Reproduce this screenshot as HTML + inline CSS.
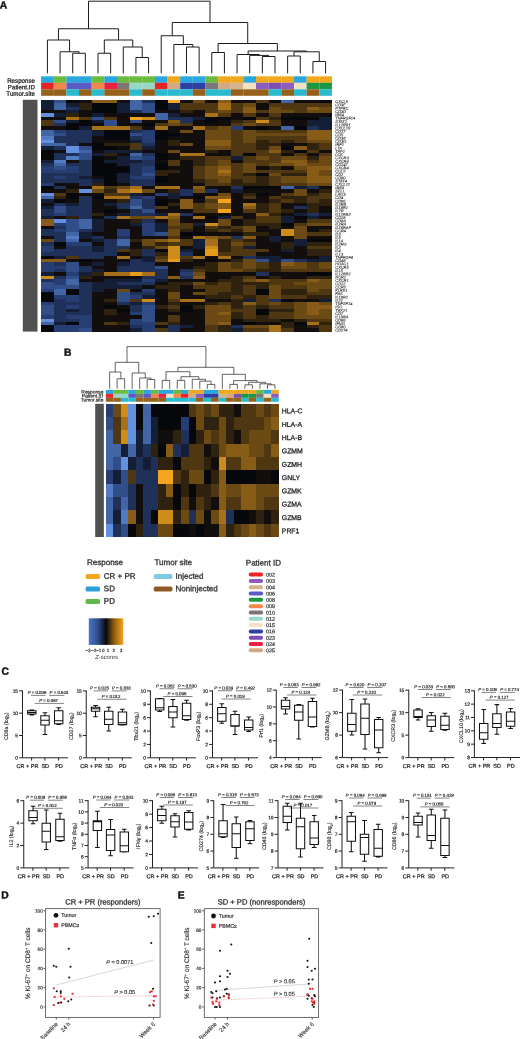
<!DOCTYPE html>
<html lang="en"><head><meta charset="utf-8"><title>Figure</title>
<style>html,body{margin:0;padding:0;background:#fff}body{width:520px;height:1039px;overflow:hidden;font-family:"Liberation Sans",Arial,sans-serif}svg{display:block;filter:blur(0.35px)}text{font-family:"Liberation Sans",Arial,sans-serif;text-rendering:geometricPrecision}</style>
</head><body>
<svg width="520" height="1039" viewBox="0 0 520 1039" font-family="Liberation Sans, Arial, sans-serif">
<rect width="520" height="1039" fill="#fff"/>
<text transform="translate(-0.3 8.6) rotate(0.03)" font-size="10.3" text-anchor="start" fill="#111" stroke="#111" stroke-width="0.41" font-weight="bold">A</text>
<path d="M72.71 73.3V53.25H85.35V73.3M60.06 73.3V51.75H79.03V53.25M47.42 73.3V40H69.55V51.75M97.99 73.3V53.25H110.64V73.3M135.92 73.3V57.5H148.57V73.3M123.28 73.3V47H142.24V57.5M104.32 53.25V40H132.76V47M58.48 40V28.75H118.54V40M186.49 73.3V47H199.14V73.3M173.85 73.3V44.5H192.82V47M161.21 73.3V35.75H183.33V44.5M211.78 73.3V52.5H224.42V73.3M262.35 73.3V56.5H275V73.3M249.71 73.3V55.4H268.67V56.5M237.07 73.3V54.5H259.19V55.4M287.64 73.3V56H300.28V73.3M312.92 73.3V61.5H325.57V73.3M293.96 56V51.8H319.25V61.5M248.13 54.5V51H306.6V51.8M218.1 52.5V43.5H277.37V51M172.27 35.75V22.5H247.73V43.5M88.51 28.75V1.2H210V22.5" fill="none" stroke="#111" stroke-width="0.95" stroke-linejoin="miter"/>
<rect x="41.1" y="76.3" width="12.69" height="6.55" fill="#29A7DF"/>
<rect x="41.1" y="82.8" width="12.69" height="6.55" fill="#EC2227"/>
<rect x="41.1" y="89.3" width="12.69" height="6.5" fill="#96621B"/>
<rect x="53.74" y="76.3" width="12.69" height="6.55" fill="#6BBB3E"/>
<rect x="53.74" y="82.8" width="12.69" height="6.55" fill="#F5864B"/>
<rect x="53.74" y="89.3" width="12.69" height="6.5" fill="#96621B"/>
<rect x="66.39" y="76.3" width="12.69" height="6.55" fill="#29A7DF"/>
<rect x="66.39" y="82.8" width="12.69" height="6.55" fill="#5E5AC4"/>
<rect x="66.39" y="89.3" width="12.69" height="6.5" fill="#2BB9CE"/>
<rect x="79.03" y="76.3" width="12.69" height="6.55" fill="#29A7DF"/>
<rect x="79.03" y="82.8" width="12.69" height="6.55" fill="#5E5AC4"/>
<rect x="79.03" y="89.3" width="12.69" height="6.5" fill="#96621B"/>
<rect x="91.67" y="76.3" width="12.69" height="6.55" fill="#6BBB3E"/>
<rect x="91.67" y="82.8" width="12.69" height="6.55" fill="#F5864B"/>
<rect x="91.67" y="89.3" width="12.69" height="6.5" fill="#2BB9CE"/>
<rect x="104.31" y="76.3" width="12.69" height="6.55" fill="#29A7DF"/>
<rect x="104.31" y="82.8" width="12.69" height="6.55" fill="#EC1F43"/>
<rect x="104.31" y="89.3" width="12.69" height="6.5" fill="#96621B"/>
<rect x="116.96" y="76.3" width="12.69" height="6.55" fill="#6BBB3E"/>
<rect x="116.96" y="82.8" width="12.69" height="6.55" fill="#7C7575"/>
<rect x="116.96" y="89.3" width="12.69" height="6.5" fill="#96621B"/>
<rect x="129.6" y="76.3" width="12.69" height="6.55" fill="#6BBB3E"/>
<rect x="129.6" y="82.8" width="12.69" height="6.55" fill="#98D9C6"/>
<rect x="129.6" y="89.3" width="12.69" height="6.5" fill="#2BB9CE"/>
<rect x="142.24" y="76.3" width="12.69" height="6.55" fill="#6BBB3E"/>
<rect x="142.24" y="82.8" width="12.69" height="6.55" fill="#98D9C6"/>
<rect x="142.24" y="89.3" width="12.69" height="6.5" fill="#96621B"/>
<rect x="154.89" y="76.3" width="12.69" height="6.55" fill="#29A7DF"/>
<rect x="154.89" y="82.8" width="12.69" height="6.55" fill="#EC2227"/>
<rect x="154.89" y="89.3" width="12.69" height="6.5" fill="#2BB9CE"/>
<rect x="167.53" y="76.3" width="12.69" height="6.55" fill="#F2A81D"/>
<rect x="167.53" y="82.8" width="12.69" height="6.55" fill="#D2A983"/>
<rect x="167.53" y="89.3" width="12.69" height="6.5" fill="#2BB9CE"/>
<rect x="180.17" y="76.3" width="12.69" height="6.55" fill="#29A7DF"/>
<rect x="180.17" y="82.8" width="12.69" height="6.55" fill="#2C3FA3"/>
<rect x="180.17" y="89.3" width="12.69" height="6.5" fill="#2BB9CE"/>
<rect x="192.82" y="76.3" width="12.69" height="6.55" fill="#29A7DF"/>
<rect x="192.82" y="82.8" width="12.69" height="6.55" fill="#2C3FA3"/>
<rect x="192.82" y="89.3" width="12.69" height="6.5" fill="#96621B"/>
<rect x="205.46" y="76.3" width="12.69" height="6.55" fill="#6BBB3E"/>
<rect x="205.46" y="82.8" width="12.69" height="6.55" fill="#7C7575"/>
<rect x="205.46" y="89.3" width="12.69" height="6.5" fill="#2BB9CE"/>
<rect x="218.1" y="76.3" width="12.69" height="6.55" fill="#F2A81D"/>
<rect x="218.1" y="82.8" width="12.69" height="6.55" fill="#D2A983"/>
<rect x="218.1" y="89.3" width="12.69" height="6.5" fill="#2BB9CE"/>
<rect x="230.75" y="76.3" width="12.69" height="6.55" fill="#F2A81D"/>
<rect x="230.75" y="82.8" width="12.69" height="6.55" fill="#D4B48C"/>
<rect x="230.75" y="89.3" width="12.69" height="6.5" fill="#96621B"/>
<rect x="243.39" y="76.3" width="12.69" height="6.55" fill="#29A7DF"/>
<rect x="243.39" y="82.8" width="12.69" height="6.55" fill="#F3E1C6"/>
<rect x="243.39" y="89.3" width="12.69" height="6.5" fill="#96621B"/>
<rect x="256.03" y="76.3" width="12.69" height="6.55" fill="#F2A81D"/>
<rect x="256.03" y="82.8" width="12.69" height="6.55" fill="#8B5CC2"/>
<rect x="256.03" y="89.3" width="12.69" height="6.5" fill="#96621B"/>
<rect x="268.67" y="76.3" width="12.69" height="6.55" fill="#F2A81D"/>
<rect x="268.67" y="82.8" width="12.69" height="6.55" fill="#7B50B2"/>
<rect x="268.67" y="89.3" width="12.69" height="6.5" fill="#2BB9CE"/>
<rect x="281.32" y="76.3" width="12.69" height="6.55" fill="#F2A81D"/>
<rect x="281.32" y="82.8" width="12.69" height="6.55" fill="#8B5CC2"/>
<rect x="281.32" y="89.3" width="12.69" height="6.5" fill="#96621B"/>
<rect x="293.96" y="76.3" width="12.69" height="6.55" fill="#29A7DF"/>
<rect x="293.96" y="82.8" width="12.69" height="6.55" fill="#F3E1C6"/>
<rect x="293.96" y="89.3" width="12.69" height="6.5" fill="#2BB9CE"/>
<rect x="306.6" y="76.3" width="12.69" height="6.55" fill="#F2A81D"/>
<rect x="306.6" y="82.8" width="12.69" height="6.55" fill="#1C9746"/>
<rect x="306.6" y="89.3" width="12.69" height="6.5" fill="#96621B"/>
<rect x="319.25" y="76.3" width="12.69" height="6.55" fill="#F2A81D"/>
<rect x="319.25" y="82.8" width="12.69" height="6.55" fill="#1C9746"/>
<rect x="319.25" y="89.3" width="12.69" height="6.5" fill="#2BB9CE"/>
<text transform="translate(35 82.8) rotate(0.03)" font-size="6.2" text-anchor="end" fill="#222" stroke="#222" stroke-width="0.25" >Response</text>
<text transform="translate(35 89.3) rotate(0.03)" font-size="6.2" text-anchor="end" fill="#222" stroke="#222" stroke-width="0.25" >Patient.ID</text>
<text transform="translate(35 95.8) rotate(0.03)" font-size="6.2" text-anchor="end" fill="#222" stroke="#222" stroke-width="0.25" >Tumor.site</text>
<rect x="22.8" y="99.8" width="14.7" height="231.8" fill="#505050"/>
<rect x="41.1" y="100" width="290.79" height="231.8" fill="#0a0a0c"/>
<g shape-rendering="crispEdges">
<rect x="41.1" y="100" width="12.74" height="3.41" fill="#141f37"/>
<rect x="53.74" y="100" width="12.74" height="3.41" fill="#324e89"/>
<rect x="66.39" y="100" width="12.74" height="3.41" fill="#07080c"/>
<rect x="79.03" y="100" width="12.74" height="3.41" fill="#110e0d"/>
<rect x="91.67" y="100" width="12.74" height="3.41" fill="#865c16"/>
<rect x="104.31" y="100" width="12.74" height="3.41" fill="#865c16"/>
<rect x="116.96" y="100" width="12.74" height="3.41" fill="#110e0d"/>
<rect x="129.6" y="100" width="12.74" height="3.41" fill="#4265a6"/>
<rect x="142.24" y="100" width="12.74" height="3.41" fill="#1f3159"/>
<rect x="154.89" y="100" width="12.74" height="3.41" fill="#07080c"/>
<rect x="167.53" y="100" width="12.74" height="3.41" fill="#f6a61e"/>
<rect x="180.17" y="100" width="12.74" height="3.41" fill="#110e0d"/>
<rect x="192.82" y="100" width="12.74" height="3.41" fill="#6b4a14"/>
<rect x="205.46" y="100" width="12.74" height="3.41" fill="#110e0d"/>
<rect x="218.1" y="100" width="12.74" height="3.41" fill="#865c16"/>
<rect x="230.75" y="100" width="12.74" height="3.41" fill="#110e0d"/>
<rect x="243.39" y="100" width="12.74" height="3.41" fill="#110e0d"/>
<rect x="256.03" y="100" width="12.74" height="3.41" fill="#4f3711"/>
<rect x="268.67" y="100" width="12.74" height="3.41" fill="#07080c"/>
<rect x="281.32" y="100" width="12.74" height="3.41" fill="#4265a6"/>
<rect x="293.96" y="100" width="12.74" height="3.41" fill="#110e0d"/>
<rect x="306.6" y="100" width="12.74" height="3.41" fill="#110e0d"/>
<rect x="319.25" y="100" width="12.74" height="3.41" fill="#07080c"/>
<rect x="41.1" y="103.31" width="12.74" height="3.41" fill="#141f37"/>
<rect x="53.74" y="103.31" width="12.74" height="3.41" fill="#4265a6"/>
<rect x="66.39" y="103.31" width="12.74" height="3.41" fill="#141f37"/>
<rect x="79.03" y="103.31" width="12.74" height="3.41" fill="#2f220f"/>
<rect x="91.67" y="103.31" width="12.74" height="3.41" fill="#07080c"/>
<rect x="104.31" y="103.31" width="12.74" height="3.41" fill="#07080c"/>
<rect x="116.96" y="103.31" width="12.74" height="3.41" fill="#141f37"/>
<rect x="129.6" y="103.31" width="12.74" height="3.41" fill="#4265a6"/>
<rect x="142.24" y="103.31" width="12.74" height="3.41" fill="#324e89"/>
<rect x="154.89" y="103.31" width="12.74" height="3.41" fill="#07080c"/>
<rect x="167.53" y="103.31" width="12.74" height="3.41" fill="#141f37"/>
<rect x="180.17" y="103.31" width="12.74" height="3.41" fill="#4f3711"/>
<rect x="192.82" y="103.31" width="12.74" height="3.41" fill="#4f3711"/>
<rect x="205.46" y="103.31" width="12.74" height="3.41" fill="#4f3711"/>
<rect x="218.1" y="103.31" width="12.74" height="3.41" fill="#a67118"/>
<rect x="230.75" y="103.31" width="12.74" height="3.41" fill="#4f3711"/>
<rect x="243.39" y="103.31" width="12.74" height="3.41" fill="#6b4a14"/>
<rect x="256.03" y="103.31" width="12.74" height="3.41" fill="#110e0d"/>
<rect x="268.67" y="103.31" width="12.74" height="3.41" fill="#4f3711"/>
<rect x="281.32" y="103.31" width="12.74" height="3.41" fill="#4f3711"/>
<rect x="293.96" y="103.31" width="12.74" height="3.41" fill="#4f3711"/>
<rect x="306.6" y="103.31" width="12.74" height="3.41" fill="#4f3711"/>
<rect x="319.25" y="103.31" width="12.74" height="3.41" fill="#4f3711"/>
<rect x="41.1" y="106.62" width="12.74" height="3.41" fill="#141f37"/>
<rect x="53.74" y="106.62" width="12.74" height="3.41" fill="#4265a6"/>
<rect x="66.39" y="106.62" width="12.74" height="3.41" fill="#1f3159"/>
<rect x="79.03" y="106.62" width="12.74" height="3.41" fill="#2f220f"/>
<rect x="91.67" y="106.62" width="12.74" height="3.41" fill="#07080c"/>
<rect x="104.31" y="106.62" width="12.74" height="3.41" fill="#07080c"/>
<rect x="116.96" y="106.62" width="12.74" height="3.41" fill="#141f37"/>
<rect x="129.6" y="106.62" width="12.74" height="3.41" fill="#4265a6"/>
<rect x="142.24" y="106.62" width="12.74" height="3.41" fill="#324e89"/>
<rect x="154.89" y="106.62" width="12.74" height="3.41" fill="#07080c"/>
<rect x="167.53" y="106.62" width="12.74" height="3.41" fill="#141f37"/>
<rect x="180.17" y="106.62" width="12.74" height="3.41" fill="#4f3711"/>
<rect x="192.82" y="106.62" width="12.74" height="3.41" fill="#4f3711"/>
<rect x="205.46" y="106.62" width="12.74" height="3.41" fill="#4f3711"/>
<rect x="218.1" y="106.62" width="12.74" height="3.41" fill="#a67118"/>
<rect x="230.75" y="106.62" width="12.74" height="3.41" fill="#4f3711"/>
<rect x="243.39" y="106.62" width="12.74" height="3.41" fill="#865c16"/>
<rect x="256.03" y="106.62" width="12.74" height="3.41" fill="#110e0d"/>
<rect x="268.67" y="106.62" width="12.74" height="3.41" fill="#6b4a14"/>
<rect x="281.32" y="106.62" width="12.74" height="3.41" fill="#4f3711"/>
<rect x="293.96" y="106.62" width="12.74" height="3.41" fill="#4f3711"/>
<rect x="306.6" y="106.62" width="12.74" height="3.41" fill="#865c16"/>
<rect x="319.25" y="106.62" width="12.74" height="3.41" fill="#6b4a14"/>
<rect x="41.1" y="109.93" width="12.74" height="3.41" fill="#110e0d"/>
<rect x="53.74" y="109.93" width="12.74" height="3.41" fill="#110e0d"/>
<rect x="66.39" y="109.93" width="12.74" height="3.41" fill="#141f37"/>
<rect x="79.03" y="109.93" width="12.74" height="3.41" fill="#110e0d"/>
<rect x="91.67" y="109.93" width="12.74" height="3.41" fill="#07080c"/>
<rect x="104.31" y="109.93" width="12.74" height="3.41" fill="#07080c"/>
<rect x="116.96" y="109.93" width="12.74" height="3.41" fill="#141f37"/>
<rect x="129.6" y="109.93" width="12.74" height="3.41" fill="#1f3159"/>
<rect x="142.24" y="109.93" width="12.74" height="3.41" fill="#324e89"/>
<rect x="154.89" y="109.93" width="12.74" height="3.41" fill="#110e0d"/>
<rect x="167.53" y="109.93" width="12.74" height="3.41" fill="#110e0d"/>
<rect x="180.17" y="109.93" width="12.74" height="3.41" fill="#2f220f"/>
<rect x="192.82" y="109.93" width="12.74" height="3.41" fill="#110e0d"/>
<rect x="205.46" y="109.93" width="12.74" height="3.41" fill="#4f3711"/>
<rect x="218.1" y="109.93" width="12.74" height="3.41" fill="#6b4a14"/>
<rect x="230.75" y="109.93" width="12.74" height="3.41" fill="#4f3711"/>
<rect x="243.39" y="109.93" width="12.74" height="3.41" fill="#865c16"/>
<rect x="256.03" y="109.93" width="12.74" height="3.41" fill="#4f3711"/>
<rect x="268.67" y="109.93" width="12.74" height="3.41" fill="#6b4a14"/>
<rect x="281.32" y="109.93" width="12.74" height="3.41" fill="#6b4a14"/>
<rect x="293.96" y="109.93" width="12.74" height="3.41" fill="#4f3711"/>
<rect x="306.6" y="109.93" width="12.74" height="3.41" fill="#6b4a14"/>
<rect x="319.25" y="109.93" width="12.74" height="3.41" fill="#6b4a14"/>
<rect x="41.1" y="113.25" width="12.74" height="3.41" fill="#6491df"/>
<rect x="53.74" y="113.25" width="12.74" height="3.41" fill="#141f37"/>
<rect x="66.39" y="113.25" width="12.74" height="3.41" fill="#2f220f"/>
<rect x="79.03" y="113.25" width="12.74" height="3.41" fill="#110e0d"/>
<rect x="91.67" y="113.25" width="12.74" height="3.41" fill="#141f37"/>
<rect x="104.31" y="113.25" width="12.74" height="3.41" fill="#110e0d"/>
<rect x="116.96" y="113.25" width="12.74" height="3.41" fill="#110e0d"/>
<rect x="129.6" y="113.25" width="12.74" height="3.41" fill="#110e0d"/>
<rect x="142.24" y="113.25" width="12.74" height="3.41" fill="#110e0d"/>
<rect x="154.89" y="113.25" width="12.74" height="3.41" fill="#4265a6"/>
<rect x="167.53" y="113.25" width="12.74" height="3.41" fill="#141f37"/>
<rect x="180.17" y="113.25" width="12.74" height="3.41" fill="#110e0d"/>
<rect x="192.82" y="113.25" width="12.74" height="3.41" fill="#110e0d"/>
<rect x="205.46" y="113.25" width="12.74" height="3.41" fill="#a67118"/>
<rect x="218.1" y="113.25" width="12.74" height="3.41" fill="#4f3711"/>
<rect x="230.75" y="113.25" width="12.74" height="3.41" fill="#110e0d"/>
<rect x="243.39" y="113.25" width="12.74" height="3.41" fill="#4f3711"/>
<rect x="256.03" y="113.25" width="12.74" height="3.41" fill="#110e0d"/>
<rect x="268.67" y="113.25" width="12.74" height="3.41" fill="#4f3711"/>
<rect x="281.32" y="113.25" width="12.74" height="3.41" fill="#110e0d"/>
<rect x="293.96" y="113.25" width="12.74" height="3.41" fill="#110e0d"/>
<rect x="306.6" y="113.25" width="12.74" height="3.41" fill="#110e0d"/>
<rect x="319.25" y="113.25" width="12.74" height="3.41" fill="#110e0d"/>
<rect x="41.1" y="116.56" width="12.74" height="3.41" fill="#110e0d"/>
<rect x="53.74" y="116.56" width="12.74" height="3.41" fill="#110e0d"/>
<rect x="66.39" y="116.56" width="12.74" height="3.41" fill="#a67118"/>
<rect x="79.03" y="116.56" width="12.74" height="3.41" fill="#4f3711"/>
<rect x="91.67" y="116.56" width="12.74" height="3.41" fill="#324e89"/>
<rect x="104.31" y="116.56" width="12.74" height="3.41" fill="#4f3711"/>
<rect x="116.96" y="116.56" width="12.74" height="3.41" fill="#110e0d"/>
<rect x="129.6" y="116.56" width="12.74" height="3.41" fill="#f6a61e"/>
<rect x="142.24" y="116.56" width="12.74" height="3.41" fill="#ce8c1b"/>
<rect x="154.89" y="116.56" width="12.74" height="3.41" fill="#4265a6"/>
<rect x="167.53" y="116.56" width="12.74" height="3.41" fill="#1f3159"/>
<rect x="180.17" y="116.56" width="12.74" height="3.41" fill="#1f3159"/>
<rect x="192.82" y="116.56" width="12.74" height="3.41" fill="#141f37"/>
<rect x="205.46" y="116.56" width="12.74" height="3.41" fill="#07080c"/>
<rect x="218.1" y="116.56" width="12.74" height="3.41" fill="#07080c"/>
<rect x="230.75" y="116.56" width="12.74" height="3.41" fill="#110e0d"/>
<rect x="243.39" y="116.56" width="12.74" height="3.41" fill="#07080c"/>
<rect x="256.03" y="116.56" width="12.74" height="3.41" fill="#4f3711"/>
<rect x="268.67" y="116.56" width="12.74" height="3.41" fill="#2f220f"/>
<rect x="281.32" y="116.56" width="12.74" height="3.41" fill="#07080c"/>
<rect x="293.96" y="116.56" width="12.74" height="3.41" fill="#07080c"/>
<rect x="306.6" y="116.56" width="12.74" height="3.41" fill="#07080c"/>
<rect x="319.25" y="116.56" width="12.74" height="3.41" fill="#141f37"/>
<rect x="41.1" y="119.87" width="12.74" height="3.41" fill="#4f3711"/>
<rect x="53.74" y="119.87" width="12.74" height="3.41" fill="#324e89"/>
<rect x="66.39" y="119.87" width="12.74" height="3.41" fill="#141f37"/>
<rect x="79.03" y="119.87" width="12.74" height="3.41" fill="#07080c"/>
<rect x="91.67" y="119.87" width="12.74" height="3.41" fill="#141f37"/>
<rect x="104.31" y="119.87" width="12.74" height="3.41" fill="#324e89"/>
<rect x="116.96" y="119.87" width="12.74" height="3.41" fill="#110e0d"/>
<rect x="129.6" y="119.87" width="12.74" height="3.41" fill="#324e89"/>
<rect x="142.24" y="119.87" width="12.74" height="3.41" fill="#110e0d"/>
<rect x="154.89" y="119.87" width="12.74" height="3.41" fill="#110e0d"/>
<rect x="167.53" y="119.87" width="12.74" height="3.41" fill="#865c16"/>
<rect x="180.17" y="119.87" width="12.74" height="3.41" fill="#1f3159"/>
<rect x="192.82" y="119.87" width="12.74" height="3.41" fill="#110e0d"/>
<rect x="205.46" y="119.87" width="12.74" height="3.41" fill="#07080c"/>
<rect x="218.1" y="119.87" width="12.74" height="3.41" fill="#110e0d"/>
<rect x="230.75" y="119.87" width="12.74" height="3.41" fill="#2f220f"/>
<rect x="243.39" y="119.87" width="12.74" height="3.41" fill="#4f3711"/>
<rect x="256.03" y="119.87" width="12.74" height="3.41" fill="#ce8c1b"/>
<rect x="268.67" y="119.87" width="12.74" height="3.41" fill="#4f3711"/>
<rect x="281.32" y="119.87" width="12.74" height="3.41" fill="#110e0d"/>
<rect x="293.96" y="119.87" width="12.74" height="3.41" fill="#110e0d"/>
<rect x="306.6" y="119.87" width="12.74" height="3.41" fill="#141f37"/>
<rect x="319.25" y="119.87" width="12.74" height="3.41" fill="#141f37"/>
<rect x="41.1" y="123.18" width="12.74" height="3.41" fill="#4f3711"/>
<rect x="53.74" y="123.18" width="12.74" height="3.41" fill="#1f3159"/>
<rect x="66.39" y="123.18" width="12.74" height="3.41" fill="#07080c"/>
<rect x="79.03" y="123.18" width="12.74" height="3.41" fill="#07080c"/>
<rect x="91.67" y="123.18" width="12.74" height="3.41" fill="#110e0d"/>
<rect x="104.31" y="123.18" width="12.74" height="3.41" fill="#324e89"/>
<rect x="116.96" y="123.18" width="12.74" height="3.41" fill="#110e0d"/>
<rect x="129.6" y="123.18" width="12.74" height="3.41" fill="#110e0d"/>
<rect x="142.24" y="123.18" width="12.74" height="3.41" fill="#07080c"/>
<rect x="154.89" y="123.18" width="12.74" height="3.41" fill="#4f3711"/>
<rect x="167.53" y="123.18" width="12.74" height="3.41" fill="#6b4a14"/>
<rect x="180.17" y="123.18" width="12.74" height="3.41" fill="#4f3711"/>
<rect x="192.82" y="123.18" width="12.74" height="3.41" fill="#110e0d"/>
<rect x="205.46" y="123.18" width="12.74" height="3.41" fill="#110e0d"/>
<rect x="218.1" y="123.18" width="12.74" height="3.41" fill="#110e0d"/>
<rect x="230.75" y="123.18" width="12.74" height="3.41" fill="#4f3711"/>
<rect x="243.39" y="123.18" width="12.74" height="3.41" fill="#6b4a14"/>
<rect x="256.03" y="123.18" width="12.74" height="3.41" fill="#4f3711"/>
<rect x="268.67" y="123.18" width="12.74" height="3.41" fill="#4f3711"/>
<rect x="281.32" y="123.18" width="12.74" height="3.41" fill="#110e0d"/>
<rect x="293.96" y="123.18" width="12.74" height="3.41" fill="#110e0d"/>
<rect x="306.6" y="123.18" width="12.74" height="3.41" fill="#141f37"/>
<rect x="319.25" y="123.18" width="12.74" height="3.41" fill="#141f37"/>
<rect x="41.1" y="126.49" width="12.74" height="3.41" fill="#110e0d"/>
<rect x="53.74" y="126.49" width="12.74" height="3.41" fill="#110e0d"/>
<rect x="66.39" y="126.49" width="12.74" height="3.41" fill="#07080c"/>
<rect x="79.03" y="126.49" width="12.74" height="3.41" fill="#141f37"/>
<rect x="91.67" y="126.49" width="12.74" height="3.41" fill="#a67118"/>
<rect x="104.31" y="126.49" width="12.74" height="3.41" fill="#a67118"/>
<rect x="116.96" y="126.49" width="12.74" height="3.41" fill="#a67118"/>
<rect x="129.6" y="126.49" width="12.74" height="3.41" fill="#4f3711"/>
<rect x="142.24" y="126.49" width="12.74" height="3.41" fill="#110e0d"/>
<rect x="154.89" y="126.49" width="12.74" height="3.41" fill="#a67118"/>
<rect x="167.53" y="126.49" width="12.74" height="3.41" fill="#110e0d"/>
<rect x="180.17" y="126.49" width="12.74" height="3.41" fill="#110e0d"/>
<rect x="192.82" y="126.49" width="12.74" height="3.41" fill="#a67118"/>
<rect x="205.46" y="126.49" width="12.74" height="3.41" fill="#4f3711"/>
<rect x="218.1" y="126.49" width="12.74" height="3.41" fill="#6b4a14"/>
<rect x="230.75" y="126.49" width="12.74" height="3.41" fill="#263e73"/>
<rect x="243.39" y="126.49" width="12.74" height="3.41" fill="#110e0d"/>
<rect x="256.03" y="126.49" width="12.74" height="3.41" fill="#07080c"/>
<rect x="268.67" y="126.49" width="12.74" height="3.41" fill="#110e0d"/>
<rect x="281.32" y="126.49" width="12.74" height="3.41" fill="#4265a6"/>
<rect x="293.96" y="126.49" width="12.74" height="3.41" fill="#07080c"/>
<rect x="306.6" y="126.49" width="12.74" height="3.41" fill="#1f3159"/>
<rect x="319.25" y="126.49" width="12.74" height="3.41" fill="#141f37"/>
<rect x="41.1" y="129.8" width="12.74" height="3.41" fill="#4265a6"/>
<rect x="53.74" y="129.8" width="12.74" height="3.41" fill="#263e73"/>
<rect x="66.39" y="129.8" width="12.74" height="3.41" fill="#1f3159"/>
<rect x="79.03" y="129.8" width="12.74" height="3.41" fill="#1f3159"/>
<rect x="91.67" y="129.8" width="12.74" height="3.41" fill="#141f37"/>
<rect x="104.31" y="129.8" width="12.74" height="3.41" fill="#07080c"/>
<rect x="116.96" y="129.8" width="12.74" height="3.41" fill="#07080c"/>
<rect x="129.6" y="129.8" width="12.74" height="3.41" fill="#1f3159"/>
<rect x="142.24" y="129.8" width="12.74" height="3.41" fill="#263e73"/>
<rect x="154.89" y="129.8" width="12.74" height="3.41" fill="#07080c"/>
<rect x="167.53" y="129.8" width="12.74" height="3.41" fill="#110e0d"/>
<rect x="180.17" y="129.8" width="12.74" height="3.41" fill="#6b4a14"/>
<rect x="192.82" y="129.8" width="12.74" height="3.41" fill="#110e0d"/>
<rect x="205.46" y="129.8" width="12.74" height="3.41" fill="#6b4a14"/>
<rect x="218.1" y="129.8" width="12.74" height="3.41" fill="#6b4a14"/>
<rect x="230.75" y="129.8" width="12.74" height="3.41" fill="#4f3711"/>
<rect x="243.39" y="129.8" width="12.74" height="3.41" fill="#6b4a14"/>
<rect x="256.03" y="129.8" width="12.74" height="3.41" fill="#4f3711"/>
<rect x="268.67" y="129.8" width="12.74" height="3.41" fill="#4f3711"/>
<rect x="281.32" y="129.8" width="12.74" height="3.41" fill="#4f3711"/>
<rect x="293.96" y="129.8" width="12.74" height="3.41" fill="#4f3711"/>
<rect x="306.6" y="129.8" width="12.74" height="3.41" fill="#865c16"/>
<rect x="319.25" y="129.8" width="12.74" height="3.41" fill="#865c16"/>
<rect x="41.1" y="133.11" width="12.74" height="3.41" fill="#4265a6"/>
<rect x="53.74" y="133.11" width="12.74" height="3.41" fill="#324e89"/>
<rect x="66.39" y="133.11" width="12.74" height="3.41" fill="#1f3159"/>
<rect x="79.03" y="133.11" width="12.74" height="3.41" fill="#1f3159"/>
<rect x="91.67" y="133.11" width="12.74" height="3.41" fill="#141f37"/>
<rect x="104.31" y="133.11" width="12.74" height="3.41" fill="#07080c"/>
<rect x="116.96" y="133.11" width="12.74" height="3.41" fill="#07080c"/>
<rect x="129.6" y="133.11" width="12.74" height="3.41" fill="#324e89"/>
<rect x="142.24" y="133.11" width="12.74" height="3.41" fill="#263e73"/>
<rect x="154.89" y="133.11" width="12.74" height="3.41" fill="#07080c"/>
<rect x="167.53" y="133.11" width="12.74" height="3.41" fill="#07080c"/>
<rect x="180.17" y="133.11" width="12.74" height="3.41" fill="#110e0d"/>
<rect x="192.82" y="133.11" width="12.74" height="3.41" fill="#110e0d"/>
<rect x="205.46" y="133.11" width="12.74" height="3.41" fill="#6b4a14"/>
<rect x="218.1" y="133.11" width="12.74" height="3.41" fill="#6b4a14"/>
<rect x="230.75" y="133.11" width="12.74" height="3.41" fill="#4f3711"/>
<rect x="243.39" y="133.11" width="12.74" height="3.41" fill="#6b4a14"/>
<rect x="256.03" y="133.11" width="12.74" height="3.41" fill="#6b4a14"/>
<rect x="268.67" y="133.11" width="12.74" height="3.41" fill="#6b4a14"/>
<rect x="281.32" y="133.11" width="12.74" height="3.41" fill="#6b4a14"/>
<rect x="293.96" y="133.11" width="12.74" height="3.41" fill="#6b4a14"/>
<rect x="306.6" y="133.11" width="12.74" height="3.41" fill="#865c16"/>
<rect x="319.25" y="133.11" width="12.74" height="3.41" fill="#865c16"/>
<rect x="41.1" y="136.43" width="12.74" height="3.41" fill="#537bc3"/>
<rect x="53.74" y="136.43" width="12.74" height="3.41" fill="#1f3159"/>
<rect x="66.39" y="136.43" width="12.74" height="3.41" fill="#1f3159"/>
<rect x="79.03" y="136.43" width="12.74" height="3.41" fill="#1f3159"/>
<rect x="91.67" y="136.43" width="12.74" height="3.41" fill="#110e0d"/>
<rect x="104.31" y="136.43" width="12.74" height="3.41" fill="#07080c"/>
<rect x="116.96" y="136.43" width="12.74" height="3.41" fill="#07080c"/>
<rect x="129.6" y="136.43" width="12.74" height="3.41" fill="#1f3159"/>
<rect x="142.24" y="136.43" width="12.74" height="3.41" fill="#263e73"/>
<rect x="154.89" y="136.43" width="12.74" height="3.41" fill="#07080c"/>
<rect x="167.53" y="136.43" width="12.74" height="3.41" fill="#110e0d"/>
<rect x="180.17" y="136.43" width="12.74" height="3.41" fill="#110e0d"/>
<rect x="192.82" y="136.43" width="12.74" height="3.41" fill="#110e0d"/>
<rect x="205.46" y="136.43" width="12.74" height="3.41" fill="#6b4a14"/>
<rect x="218.1" y="136.43" width="12.74" height="3.41" fill="#6b4a14"/>
<rect x="230.75" y="136.43" width="12.74" height="3.41" fill="#4f3711"/>
<rect x="243.39" y="136.43" width="12.74" height="3.41" fill="#6b4a14"/>
<rect x="256.03" y="136.43" width="12.74" height="3.41" fill="#4f3711"/>
<rect x="268.67" y="136.43" width="12.74" height="3.41" fill="#4f3711"/>
<rect x="281.32" y="136.43" width="12.74" height="3.41" fill="#4f3711"/>
<rect x="293.96" y="136.43" width="12.74" height="3.41" fill="#4f3711"/>
<rect x="306.6" y="136.43" width="12.74" height="3.41" fill="#865c16"/>
<rect x="319.25" y="136.43" width="12.74" height="3.41" fill="#865c16"/>
<rect x="41.1" y="139.74" width="12.74" height="3.41" fill="#6491df"/>
<rect x="53.74" y="139.74" width="12.74" height="3.41" fill="#1f3159"/>
<rect x="66.39" y="139.74" width="12.74" height="3.41" fill="#1f3159"/>
<rect x="79.03" y="139.74" width="12.74" height="3.41" fill="#1f3159"/>
<rect x="91.67" y="139.74" width="12.74" height="3.41" fill="#110e0d"/>
<rect x="104.31" y="139.74" width="12.74" height="3.41" fill="#110e0d"/>
<rect x="116.96" y="139.74" width="12.74" height="3.41" fill="#110e0d"/>
<rect x="129.6" y="139.74" width="12.74" height="3.41" fill="#141f37"/>
<rect x="142.24" y="139.74" width="12.74" height="3.41" fill="#263e73"/>
<rect x="154.89" y="139.74" width="12.74" height="3.41" fill="#110e0d"/>
<rect x="167.53" y="139.74" width="12.74" height="3.41" fill="#2f220f"/>
<rect x="180.17" y="139.74" width="12.74" height="3.41" fill="#110e0d"/>
<rect x="192.82" y="139.74" width="12.74" height="3.41" fill="#110e0d"/>
<rect x="205.46" y="139.74" width="12.74" height="3.41" fill="#865c16"/>
<rect x="218.1" y="139.74" width="12.74" height="3.41" fill="#865c16"/>
<rect x="230.75" y="139.74" width="12.74" height="3.41" fill="#4f3711"/>
<rect x="243.39" y="139.74" width="12.74" height="3.41" fill="#6b4a14"/>
<rect x="256.03" y="139.74" width="12.74" height="3.41" fill="#2f220f"/>
<rect x="268.67" y="139.74" width="12.74" height="3.41" fill="#4f3711"/>
<rect x="281.32" y="139.74" width="12.74" height="3.41" fill="#2f220f"/>
<rect x="293.96" y="139.74" width="12.74" height="3.41" fill="#4f3711"/>
<rect x="306.6" y="139.74" width="12.74" height="3.41" fill="#6b4a14"/>
<rect x="319.25" y="139.74" width="12.74" height="3.41" fill="#6b4a14"/>
<rect x="41.1" y="143.05" width="12.74" height="3.41" fill="#4265a6"/>
<rect x="53.74" y="143.05" width="12.74" height="3.41" fill="#4265a6"/>
<rect x="66.39" y="143.05" width="12.74" height="3.41" fill="#1f3159"/>
<rect x="79.03" y="143.05" width="12.74" height="3.41" fill="#110e0d"/>
<rect x="91.67" y="143.05" width="12.74" height="3.41" fill="#07080c"/>
<rect x="104.31" y="143.05" width="12.74" height="3.41" fill="#2f220f"/>
<rect x="116.96" y="143.05" width="12.74" height="3.41" fill="#2f220f"/>
<rect x="129.6" y="143.05" width="12.74" height="3.41" fill="#4f3711"/>
<rect x="142.24" y="143.05" width="12.74" height="3.41" fill="#1f3159"/>
<rect x="154.89" y="143.05" width="12.74" height="3.41" fill="#110e0d"/>
<rect x="167.53" y="143.05" width="12.74" height="3.41" fill="#2f220f"/>
<rect x="180.17" y="143.05" width="12.74" height="3.41" fill="#6b4a14"/>
<rect x="192.82" y="143.05" width="12.74" height="3.41" fill="#110e0d"/>
<rect x="205.46" y="143.05" width="12.74" height="3.41" fill="#865c16"/>
<rect x="218.1" y="143.05" width="12.74" height="3.41" fill="#865c16"/>
<rect x="230.75" y="143.05" width="12.74" height="3.41" fill="#4f3711"/>
<rect x="243.39" y="143.05" width="12.74" height="3.41" fill="#4f3711"/>
<rect x="256.03" y="143.05" width="12.74" height="3.41" fill="#2f220f"/>
<rect x="268.67" y="143.05" width="12.74" height="3.41" fill="#2f220f"/>
<rect x="281.32" y="143.05" width="12.74" height="3.41" fill="#110e0d"/>
<rect x="293.96" y="143.05" width="12.74" height="3.41" fill="#110e0d"/>
<rect x="306.6" y="143.05" width="12.74" height="3.41" fill="#2f220f"/>
<rect x="319.25" y="143.05" width="12.74" height="3.41" fill="#4f3711"/>
<rect x="41.1" y="146.36" width="12.74" height="3.41" fill="#141f37"/>
<rect x="53.74" y="146.36" width="12.74" height="3.41" fill="#1f3159"/>
<rect x="66.39" y="146.36" width="12.74" height="3.41" fill="#6491df"/>
<rect x="79.03" y="146.36" width="12.74" height="3.41" fill="#324e89"/>
<rect x="91.67" y="146.36" width="12.74" height="3.41" fill="#07080c"/>
<rect x="104.31" y="146.36" width="12.74" height="3.41" fill="#07080c"/>
<rect x="116.96" y="146.36" width="12.74" height="3.41" fill="#110e0d"/>
<rect x="129.6" y="146.36" width="12.74" height="3.41" fill="#4f3711"/>
<rect x="142.24" y="146.36" width="12.74" height="3.41" fill="#141f37"/>
<rect x="154.89" y="146.36" width="12.74" height="3.41" fill="#110e0d"/>
<rect x="167.53" y="146.36" width="12.74" height="3.41" fill="#110e0d"/>
<rect x="180.17" y="146.36" width="12.74" height="3.41" fill="#110e0d"/>
<rect x="192.82" y="146.36" width="12.74" height="3.41" fill="#110e0d"/>
<rect x="205.46" y="146.36" width="12.74" height="3.41" fill="#6b4a14"/>
<rect x="218.1" y="146.36" width="12.74" height="3.41" fill="#6b4a14"/>
<rect x="230.75" y="146.36" width="12.74" height="3.41" fill="#4f3711"/>
<rect x="243.39" y="146.36" width="12.74" height="3.41" fill="#4f3711"/>
<rect x="256.03" y="146.36" width="12.74" height="3.41" fill="#2f220f"/>
<rect x="268.67" y="146.36" width="12.74" height="3.41" fill="#6b4a14"/>
<rect x="281.32" y="146.36" width="12.74" height="3.41" fill="#07080c"/>
<rect x="293.96" y="146.36" width="12.74" height="3.41" fill="#865c16"/>
<rect x="306.6" y="146.36" width="12.74" height="3.41" fill="#2f220f"/>
<rect x="319.25" y="146.36" width="12.74" height="3.41" fill="#4f3711"/>
<rect x="41.1" y="149.67" width="12.74" height="3.41" fill="#07080c"/>
<rect x="53.74" y="149.67" width="12.74" height="3.41" fill="#110e0d"/>
<rect x="66.39" y="149.67" width="12.74" height="3.41" fill="#6491df"/>
<rect x="79.03" y="149.67" width="12.74" height="3.41" fill="#4265a6"/>
<rect x="91.67" y="149.67" width="12.74" height="3.41" fill="#110e0d"/>
<rect x="104.31" y="149.67" width="12.74" height="3.41" fill="#141f37"/>
<rect x="116.96" y="149.67" width="12.74" height="3.41" fill="#141f37"/>
<rect x="129.6" y="149.67" width="12.74" height="3.41" fill="#141f37"/>
<rect x="142.24" y="149.67" width="12.74" height="3.41" fill="#110e0d"/>
<rect x="154.89" y="149.67" width="12.74" height="3.41" fill="#110e0d"/>
<rect x="167.53" y="149.67" width="12.74" height="3.41" fill="#6b4a14"/>
<rect x="180.17" y="149.67" width="12.74" height="3.41" fill="#110e0d"/>
<rect x="192.82" y="149.67" width="12.74" height="3.41" fill="#110e0d"/>
<rect x="205.46" y="149.67" width="12.74" height="3.41" fill="#2f220f"/>
<rect x="218.1" y="149.67" width="12.74" height="3.41" fill="#110e0d"/>
<rect x="230.75" y="149.67" width="12.74" height="3.41" fill="#4f3711"/>
<rect x="243.39" y="149.67" width="12.74" height="3.41" fill="#4f3711"/>
<rect x="256.03" y="149.67" width="12.74" height="3.41" fill="#4f3711"/>
<rect x="268.67" y="149.67" width="12.74" height="3.41" fill="#865c16"/>
<rect x="281.32" y="149.67" width="12.74" height="3.41" fill="#2f220f"/>
<rect x="293.96" y="149.67" width="12.74" height="3.41" fill="#07080c"/>
<rect x="306.6" y="149.67" width="12.74" height="3.41" fill="#4f3711"/>
<rect x="319.25" y="149.67" width="12.74" height="3.41" fill="#110e0d"/>
<rect x="41.1" y="152.98" width="12.74" height="3.41" fill="#07080c"/>
<rect x="53.74" y="152.98" width="12.74" height="3.41" fill="#1f3159"/>
<rect x="66.39" y="152.98" width="12.74" height="3.41" fill="#1f3159"/>
<rect x="79.03" y="152.98" width="12.74" height="3.41" fill="#324e89"/>
<rect x="91.67" y="152.98" width="12.74" height="3.41" fill="#141f37"/>
<rect x="104.31" y="152.98" width="12.74" height="3.41" fill="#2f220f"/>
<rect x="116.96" y="152.98" width="12.74" height="3.41" fill="#110e0d"/>
<rect x="129.6" y="152.98" width="12.74" height="3.41" fill="#4265a6"/>
<rect x="142.24" y="152.98" width="12.74" height="3.41" fill="#1f3159"/>
<rect x="154.89" y="152.98" width="12.74" height="3.41" fill="#07080c"/>
<rect x="167.53" y="152.98" width="12.74" height="3.41" fill="#110e0d"/>
<rect x="180.17" y="152.98" width="12.74" height="3.41" fill="#a67118"/>
<rect x="192.82" y="152.98" width="12.74" height="3.41" fill="#a67118"/>
<rect x="205.46" y="152.98" width="12.74" height="3.41" fill="#110e0d"/>
<rect x="218.1" y="152.98" width="12.74" height="3.41" fill="#110e0d"/>
<rect x="230.75" y="152.98" width="12.74" height="3.41" fill="#4f3711"/>
<rect x="243.39" y="152.98" width="12.74" height="3.41" fill="#07080c"/>
<rect x="256.03" y="152.98" width="12.74" height="3.41" fill="#4f3711"/>
<rect x="268.67" y="152.98" width="12.74" height="3.41" fill="#4f3711"/>
<rect x="281.32" y="152.98" width="12.74" height="3.41" fill="#110e0d"/>
<rect x="293.96" y="152.98" width="12.74" height="3.41" fill="#4f3711"/>
<rect x="306.6" y="152.98" width="12.74" height="3.41" fill="#110e0d"/>
<rect x="319.25" y="152.98" width="12.74" height="3.41" fill="#4f3711"/>
<rect x="41.1" y="156.29" width="12.74" height="3.41" fill="#07080c"/>
<rect x="53.74" y="156.29" width="12.74" height="3.41" fill="#1f3159"/>
<rect x="66.39" y="156.29" width="12.74" height="3.41" fill="#537bc3"/>
<rect x="79.03" y="156.29" width="12.74" height="3.41" fill="#324e89"/>
<rect x="91.67" y="156.29" width="12.74" height="3.41" fill="#07080c"/>
<rect x="104.31" y="156.29" width="12.74" height="3.41" fill="#110e0d"/>
<rect x="116.96" y="156.29" width="12.74" height="3.41" fill="#141f37"/>
<rect x="129.6" y="156.29" width="12.74" height="3.41" fill="#324e89"/>
<rect x="142.24" y="156.29" width="12.74" height="3.41" fill="#263e73"/>
<rect x="154.89" y="156.29" width="12.74" height="3.41" fill="#07080c"/>
<rect x="167.53" y="156.29" width="12.74" height="3.41" fill="#110e0d"/>
<rect x="180.17" y="156.29" width="12.74" height="3.41" fill="#2f220f"/>
<rect x="192.82" y="156.29" width="12.74" height="3.41" fill="#2f220f"/>
<rect x="205.46" y="156.29" width="12.74" height="3.41" fill="#4f3711"/>
<rect x="218.1" y="156.29" width="12.74" height="3.41" fill="#4f3711"/>
<rect x="230.75" y="156.29" width="12.74" height="3.41" fill="#141f37"/>
<rect x="243.39" y="156.29" width="12.74" height="3.41" fill="#4f3711"/>
<rect x="256.03" y="156.29" width="12.74" height="3.41" fill="#6b4a14"/>
<rect x="268.67" y="156.29" width="12.74" height="3.41" fill="#4f3711"/>
<rect x="281.32" y="156.29" width="12.74" height="3.41" fill="#6b4a14"/>
<rect x="293.96" y="156.29" width="12.74" height="3.41" fill="#6b4a14"/>
<rect x="306.6" y="156.29" width="12.74" height="3.41" fill="#2f220f"/>
<rect x="319.25" y="156.29" width="12.74" height="3.41" fill="#6b4a14"/>
<rect x="41.1" y="159.61" width="12.74" height="3.41" fill="#141f37"/>
<rect x="53.74" y="159.61" width="12.74" height="3.41" fill="#537bc3"/>
<rect x="66.39" y="159.61" width="12.74" height="3.41" fill="#110e0d"/>
<rect x="79.03" y="159.61" width="12.74" height="3.41" fill="#1f3159"/>
<rect x="91.67" y="159.61" width="12.74" height="3.41" fill="#07080c"/>
<rect x="104.31" y="159.61" width="12.74" height="3.41" fill="#141f37"/>
<rect x="116.96" y="159.61" width="12.74" height="3.41" fill="#141f37"/>
<rect x="129.6" y="159.61" width="12.74" height="3.41" fill="#141f37"/>
<rect x="142.24" y="159.61" width="12.74" height="3.41" fill="#1f3159"/>
<rect x="154.89" y="159.61" width="12.74" height="3.41" fill="#110e0d"/>
<rect x="167.53" y="159.61" width="12.74" height="3.41" fill="#4f3711"/>
<rect x="180.17" y="159.61" width="12.74" height="3.41" fill="#110e0d"/>
<rect x="192.82" y="159.61" width="12.74" height="3.41" fill="#2f220f"/>
<rect x="205.46" y="159.61" width="12.74" height="3.41" fill="#4f3711"/>
<rect x="218.1" y="159.61" width="12.74" height="3.41" fill="#6b4a14"/>
<rect x="230.75" y="159.61" width="12.74" height="3.41" fill="#110e0d"/>
<rect x="243.39" y="159.61" width="12.74" height="3.41" fill="#4f3711"/>
<rect x="256.03" y="159.61" width="12.74" height="3.41" fill="#4f3711"/>
<rect x="268.67" y="159.61" width="12.74" height="3.41" fill="#4f3711"/>
<rect x="281.32" y="159.61" width="12.74" height="3.41" fill="#865c16"/>
<rect x="293.96" y="159.61" width="12.74" height="3.41" fill="#865c16"/>
<rect x="306.6" y="159.61" width="12.74" height="3.41" fill="#4f3711"/>
<rect x="319.25" y="159.61" width="12.74" height="3.41" fill="#6b4a14"/>
<rect x="41.1" y="162.92" width="12.74" height="3.41" fill="#1f3159"/>
<rect x="53.74" y="162.92" width="12.74" height="3.41" fill="#4265a6"/>
<rect x="66.39" y="162.92" width="12.74" height="3.41" fill="#1f3159"/>
<rect x="79.03" y="162.92" width="12.74" height="3.41" fill="#1f3159"/>
<rect x="91.67" y="162.92" width="12.74" height="3.41" fill="#07080c"/>
<rect x="104.31" y="162.92" width="12.74" height="3.41" fill="#07080c"/>
<rect x="116.96" y="162.92" width="12.74" height="3.41" fill="#141f37"/>
<rect x="129.6" y="162.92" width="12.74" height="3.41" fill="#1f3159"/>
<rect x="142.24" y="162.92" width="12.74" height="3.41" fill="#1f3159"/>
<rect x="154.89" y="162.92" width="12.74" height="3.41" fill="#07080c"/>
<rect x="167.53" y="162.92" width="12.74" height="3.41" fill="#4f3711"/>
<rect x="180.17" y="162.92" width="12.74" height="3.41" fill="#110e0d"/>
<rect x="192.82" y="162.92" width="12.74" height="3.41" fill="#2f220f"/>
<rect x="205.46" y="162.92" width="12.74" height="3.41" fill="#4f3711"/>
<rect x="218.1" y="162.92" width="12.74" height="3.41" fill="#6b4a14"/>
<rect x="230.75" y="162.92" width="12.74" height="3.41" fill="#4f3711"/>
<rect x="243.39" y="162.92" width="12.74" height="3.41" fill="#6b4a14"/>
<rect x="256.03" y="162.92" width="12.74" height="3.41" fill="#4f3711"/>
<rect x="268.67" y="162.92" width="12.74" height="3.41" fill="#6b4a14"/>
<rect x="281.32" y="162.92" width="12.74" height="3.41" fill="#6b4a14"/>
<rect x="293.96" y="162.92" width="12.74" height="3.41" fill="#865c16"/>
<rect x="306.6" y="162.92" width="12.74" height="3.41" fill="#6b4a14"/>
<rect x="319.25" y="162.92" width="12.74" height="3.41" fill="#6b4a14"/>
<rect x="41.1" y="166.23" width="12.74" height="3.41" fill="#263e73"/>
<rect x="53.74" y="166.23" width="12.74" height="3.41" fill="#324e89"/>
<rect x="66.39" y="166.23" width="12.74" height="3.41" fill="#263e73"/>
<rect x="79.03" y="166.23" width="12.74" height="3.41" fill="#1f3159"/>
<rect x="91.67" y="166.23" width="12.74" height="3.41" fill="#07080c"/>
<rect x="104.31" y="166.23" width="12.74" height="3.41" fill="#07080c"/>
<rect x="116.96" y="166.23" width="12.74" height="3.41" fill="#07080c"/>
<rect x="129.6" y="166.23" width="12.74" height="3.41" fill="#1f3159"/>
<rect x="142.24" y="166.23" width="12.74" height="3.41" fill="#263e73"/>
<rect x="154.89" y="166.23" width="12.74" height="3.41" fill="#07080c"/>
<rect x="167.53" y="166.23" width="12.74" height="3.41" fill="#110e0d"/>
<rect x="180.17" y="166.23" width="12.74" height="3.41" fill="#110e0d"/>
<rect x="192.82" y="166.23" width="12.74" height="3.41" fill="#4f3711"/>
<rect x="205.46" y="166.23" width="12.74" height="3.41" fill="#6b4a14"/>
<rect x="218.1" y="166.23" width="12.74" height="3.41" fill="#865c16"/>
<rect x="230.75" y="166.23" width="12.74" height="3.41" fill="#4f3711"/>
<rect x="243.39" y="166.23" width="12.74" height="3.41" fill="#6b4a14"/>
<rect x="256.03" y="166.23" width="12.74" height="3.41" fill="#110e0d"/>
<rect x="268.67" y="166.23" width="12.74" height="3.41" fill="#2f220f"/>
<rect x="281.32" y="166.23" width="12.74" height="3.41" fill="#110e0d"/>
<rect x="293.96" y="166.23" width="12.74" height="3.41" fill="#6b4a14"/>
<rect x="306.6" y="166.23" width="12.74" height="3.41" fill="#865c16"/>
<rect x="319.25" y="166.23" width="12.74" height="3.41" fill="#865c16"/>
<rect x="41.1" y="169.54" width="12.74" height="3.41" fill="#263e73"/>
<rect x="53.74" y="169.54" width="12.74" height="3.41" fill="#263e73"/>
<rect x="66.39" y="169.54" width="12.74" height="3.41" fill="#263e73"/>
<rect x="79.03" y="169.54" width="12.74" height="3.41" fill="#1f3159"/>
<rect x="91.67" y="169.54" width="12.74" height="3.41" fill="#07080c"/>
<rect x="104.31" y="169.54" width="12.74" height="3.41" fill="#07080c"/>
<rect x="116.96" y="169.54" width="12.74" height="3.41" fill="#07080c"/>
<rect x="129.6" y="169.54" width="12.74" height="3.41" fill="#1f3159"/>
<rect x="142.24" y="169.54" width="12.74" height="3.41" fill="#263e73"/>
<rect x="154.89" y="169.54" width="12.74" height="3.41" fill="#2f220f"/>
<rect x="167.53" y="169.54" width="12.74" height="3.41" fill="#2f220f"/>
<rect x="180.17" y="169.54" width="12.74" height="3.41" fill="#110e0d"/>
<rect x="192.82" y="169.54" width="12.74" height="3.41" fill="#4f3711"/>
<rect x="205.46" y="169.54" width="12.74" height="3.41" fill="#6b4a14"/>
<rect x="218.1" y="169.54" width="12.74" height="3.41" fill="#a67118"/>
<rect x="230.75" y="169.54" width="12.74" height="3.41" fill="#4f3711"/>
<rect x="243.39" y="169.54" width="12.74" height="3.41" fill="#6b4a14"/>
<rect x="256.03" y="169.54" width="12.74" height="3.41" fill="#4f3711"/>
<rect x="268.67" y="169.54" width="12.74" height="3.41" fill="#4f3711"/>
<rect x="281.32" y="169.54" width="12.74" height="3.41" fill="#4f3711"/>
<rect x="293.96" y="169.54" width="12.74" height="3.41" fill="#4f3711"/>
<rect x="306.6" y="169.54" width="12.74" height="3.41" fill="#865c16"/>
<rect x="319.25" y="169.54" width="12.74" height="3.41" fill="#6b4a14"/>
<rect x="41.1" y="172.85" width="12.74" height="3.41" fill="#1f3159"/>
<rect x="53.74" y="172.85" width="12.74" height="3.41" fill="#1f3159"/>
<rect x="66.39" y="172.85" width="12.74" height="3.41" fill="#1f3159"/>
<rect x="79.03" y="172.85" width="12.74" height="3.41" fill="#1f3159"/>
<rect x="91.67" y="172.85" width="12.74" height="3.41" fill="#07080c"/>
<rect x="104.31" y="172.85" width="12.74" height="3.41" fill="#07080c"/>
<rect x="116.96" y="172.85" width="12.74" height="3.41" fill="#141f37"/>
<rect x="129.6" y="172.85" width="12.74" height="3.41" fill="#1f3159"/>
<rect x="142.24" y="172.85" width="12.74" height="3.41" fill="#324e89"/>
<rect x="154.89" y="172.85" width="12.74" height="3.41" fill="#2f220f"/>
<rect x="167.53" y="172.85" width="12.74" height="3.41" fill="#110e0d"/>
<rect x="180.17" y="172.85" width="12.74" height="3.41" fill="#110e0d"/>
<rect x="192.82" y="172.85" width="12.74" height="3.41" fill="#4f3711"/>
<rect x="205.46" y="172.85" width="12.74" height="3.41" fill="#6b4a14"/>
<rect x="218.1" y="172.85" width="12.74" height="3.41" fill="#865c16"/>
<rect x="230.75" y="172.85" width="12.74" height="3.41" fill="#4f3711"/>
<rect x="243.39" y="172.85" width="12.74" height="3.41" fill="#2f220f"/>
<rect x="256.03" y="172.85" width="12.74" height="3.41" fill="#07080c"/>
<rect x="268.67" y="172.85" width="12.74" height="3.41" fill="#6b4a14"/>
<rect x="281.32" y="172.85" width="12.74" height="3.41" fill="#2f220f"/>
<rect x="293.96" y="172.85" width="12.74" height="3.41" fill="#2f220f"/>
<rect x="306.6" y="172.85" width="12.74" height="3.41" fill="#865c16"/>
<rect x="319.25" y="172.85" width="12.74" height="3.41" fill="#6b4a14"/>
<rect x="41.1" y="176.16" width="12.74" height="3.41" fill="#1f3159"/>
<rect x="53.74" y="176.16" width="12.74" height="3.41" fill="#263e73"/>
<rect x="66.39" y="176.16" width="12.74" height="3.41" fill="#1f3159"/>
<rect x="79.03" y="176.16" width="12.74" height="3.41" fill="#141f37"/>
<rect x="91.67" y="176.16" width="12.74" height="3.41" fill="#110e0d"/>
<rect x="104.31" y="176.16" width="12.74" height="3.41" fill="#07080c"/>
<rect x="116.96" y="176.16" width="12.74" height="3.41" fill="#141f37"/>
<rect x="129.6" y="176.16" width="12.74" height="3.41" fill="#263e73"/>
<rect x="142.24" y="176.16" width="12.74" height="3.41" fill="#263e73"/>
<rect x="154.89" y="176.16" width="12.74" height="3.41" fill="#07080c"/>
<rect x="167.53" y="176.16" width="12.74" height="3.41" fill="#110e0d"/>
<rect x="180.17" y="176.16" width="12.74" height="3.41" fill="#110e0d"/>
<rect x="192.82" y="176.16" width="12.74" height="3.41" fill="#4f3711"/>
<rect x="205.46" y="176.16" width="12.74" height="3.41" fill="#6b4a14"/>
<rect x="218.1" y="176.16" width="12.74" height="3.41" fill="#6b4a14"/>
<rect x="230.75" y="176.16" width="12.74" height="3.41" fill="#4f3711"/>
<rect x="243.39" y="176.16" width="12.74" height="3.41" fill="#4f3711"/>
<rect x="256.03" y="176.16" width="12.74" height="3.41" fill="#2f220f"/>
<rect x="268.67" y="176.16" width="12.74" height="3.41" fill="#4f3711"/>
<rect x="281.32" y="176.16" width="12.74" height="3.41" fill="#6b4a14"/>
<rect x="293.96" y="176.16" width="12.74" height="3.41" fill="#6b4a14"/>
<rect x="306.6" y="176.16" width="12.74" height="3.41" fill="#865c16"/>
<rect x="319.25" y="176.16" width="12.74" height="3.41" fill="#865c16"/>
<rect x="41.1" y="179.47" width="12.74" height="3.41" fill="#1f3159"/>
<rect x="53.74" y="179.47" width="12.74" height="3.41" fill="#1f3159"/>
<rect x="66.39" y="179.47" width="12.74" height="3.41" fill="#1f3159"/>
<rect x="79.03" y="179.47" width="12.74" height="3.41" fill="#1f3159"/>
<rect x="91.67" y="179.47" width="12.74" height="3.41" fill="#141f37"/>
<rect x="104.31" y="179.47" width="12.74" height="3.41" fill="#07080c"/>
<rect x="116.96" y="179.47" width="12.74" height="3.41" fill="#141f37"/>
<rect x="129.6" y="179.47" width="12.74" height="3.41" fill="#1f3159"/>
<rect x="142.24" y="179.47" width="12.74" height="3.41" fill="#1f3159"/>
<rect x="154.89" y="179.47" width="12.74" height="3.41" fill="#07080c"/>
<rect x="167.53" y="179.47" width="12.74" height="3.41" fill="#110e0d"/>
<rect x="180.17" y="179.47" width="12.74" height="3.41" fill="#110e0d"/>
<rect x="192.82" y="179.47" width="12.74" height="3.41" fill="#2f220f"/>
<rect x="205.46" y="179.47" width="12.74" height="3.41" fill="#4f3711"/>
<rect x="218.1" y="179.47" width="12.74" height="3.41" fill="#6b4a14"/>
<rect x="230.75" y="179.47" width="12.74" height="3.41" fill="#2f220f"/>
<rect x="243.39" y="179.47" width="12.74" height="3.41" fill="#4f3711"/>
<rect x="256.03" y="179.47" width="12.74" height="3.41" fill="#2f220f"/>
<rect x="268.67" y="179.47" width="12.74" height="3.41" fill="#4f3711"/>
<rect x="281.32" y="179.47" width="12.74" height="3.41" fill="#6b4a14"/>
<rect x="293.96" y="179.47" width="12.74" height="3.41" fill="#6b4a14"/>
<rect x="306.6" y="179.47" width="12.74" height="3.41" fill="#865c16"/>
<rect x="319.25" y="179.47" width="12.74" height="3.41" fill="#865c16"/>
<rect x="41.1" y="182.79" width="12.74" height="3.41" fill="#263e73"/>
<rect x="53.74" y="182.79" width="12.74" height="3.41" fill="#110e0d"/>
<rect x="66.39" y="182.79" width="12.74" height="3.41" fill="#110e0d"/>
<rect x="79.03" y="182.79" width="12.74" height="3.41" fill="#1f3159"/>
<rect x="91.67" y="182.79" width="12.74" height="3.41" fill="#2f220f"/>
<rect x="104.31" y="182.79" width="12.74" height="3.41" fill="#07080c"/>
<rect x="116.96" y="182.79" width="12.74" height="3.41" fill="#110e0d"/>
<rect x="129.6" y="182.79" width="12.74" height="3.41" fill="#1f3159"/>
<rect x="142.24" y="182.79" width="12.74" height="3.41" fill="#1f3159"/>
<rect x="154.89" y="182.79" width="12.74" height="3.41" fill="#110e0d"/>
<rect x="167.53" y="182.79" width="12.74" height="3.41" fill="#110e0d"/>
<rect x="180.17" y="182.79" width="12.74" height="3.41" fill="#110e0d"/>
<rect x="192.82" y="182.79" width="12.74" height="3.41" fill="#110e0d"/>
<rect x="205.46" y="182.79" width="12.74" height="3.41" fill="#4f3711"/>
<rect x="218.1" y="182.79" width="12.74" height="3.41" fill="#4f3711"/>
<rect x="230.75" y="182.79" width="12.74" height="3.41" fill="#2f220f"/>
<rect x="243.39" y="182.79" width="12.74" height="3.41" fill="#2f220f"/>
<rect x="256.03" y="182.79" width="12.74" height="3.41" fill="#2f220f"/>
<rect x="268.67" y="182.79" width="12.74" height="3.41" fill="#4f3711"/>
<rect x="281.32" y="182.79" width="12.74" height="3.41" fill="#4f3711"/>
<rect x="293.96" y="182.79" width="12.74" height="3.41" fill="#4f3711"/>
<rect x="306.6" y="182.79" width="12.74" height="3.41" fill="#6b4a14"/>
<rect x="319.25" y="182.79" width="12.74" height="3.41" fill="#6b4a14"/>
<rect x="41.1" y="186.1" width="12.74" height="3.41" fill="#07080c"/>
<rect x="53.74" y="186.1" width="12.74" height="3.41" fill="#1f3159"/>
<rect x="66.39" y="186.1" width="12.74" height="3.41" fill="#110e0d"/>
<rect x="79.03" y="186.1" width="12.74" height="3.41" fill="#110e0d"/>
<rect x="91.67" y="186.1" width="12.74" height="3.41" fill="#a67118"/>
<rect x="104.31" y="186.1" width="12.74" height="3.41" fill="#4f3711"/>
<rect x="116.96" y="186.1" width="12.74" height="3.41" fill="#6b4a14"/>
<rect x="129.6" y="186.1" width="12.74" height="3.41" fill="#a67118"/>
<rect x="142.24" y="186.1" width="12.74" height="3.41" fill="#110e0d"/>
<rect x="154.89" y="186.1" width="12.74" height="3.41" fill="#a67118"/>
<rect x="167.53" y="186.1" width="12.74" height="3.41" fill="#a67118"/>
<rect x="180.17" y="186.1" width="12.74" height="3.41" fill="#110e0d"/>
<rect x="192.82" y="186.1" width="12.74" height="3.41" fill="#865c16"/>
<rect x="205.46" y="186.1" width="12.74" height="3.41" fill="#110e0d"/>
<rect x="218.1" y="186.1" width="12.74" height="3.41" fill="#110e0d"/>
<rect x="230.75" y="186.1" width="12.74" height="3.41" fill="#1f3159"/>
<rect x="243.39" y="186.1" width="12.74" height="3.41" fill="#07080c"/>
<rect x="256.03" y="186.1" width="12.74" height="3.41" fill="#07080c"/>
<rect x="268.67" y="186.1" width="12.74" height="3.41" fill="#07080c"/>
<rect x="281.32" y="186.1" width="12.74" height="3.41" fill="#4265a6"/>
<rect x="293.96" y="186.1" width="12.74" height="3.41" fill="#141f37"/>
<rect x="306.6" y="186.1" width="12.74" height="3.41" fill="#1f3159"/>
<rect x="319.25" y="186.1" width="12.74" height="3.41" fill="#110e0d"/>
<rect x="41.1" y="189.41" width="12.74" height="3.41" fill="#110e0d"/>
<rect x="53.74" y="189.41" width="12.74" height="3.41" fill="#110e0d"/>
<rect x="66.39" y="189.41" width="12.74" height="3.41" fill="#2f220f"/>
<rect x="79.03" y="189.41" width="12.74" height="3.41" fill="#6491df"/>
<rect x="91.67" y="189.41" width="12.74" height="3.41" fill="#6b4a14"/>
<rect x="104.31" y="189.41" width="12.74" height="3.41" fill="#2f220f"/>
<rect x="116.96" y="189.41" width="12.74" height="3.41" fill="#a67118"/>
<rect x="129.6" y="189.41" width="12.74" height="3.41" fill="#ce8c1b"/>
<rect x="142.24" y="189.41" width="12.74" height="3.41" fill="#6b4a14"/>
<rect x="154.89" y="189.41" width="12.74" height="3.41" fill="#110e0d"/>
<rect x="167.53" y="189.41" width="12.74" height="3.41" fill="#2f220f"/>
<rect x="180.17" y="189.41" width="12.74" height="3.41" fill="#1f3159"/>
<rect x="192.82" y="189.41" width="12.74" height="3.41" fill="#6b4a14"/>
<rect x="205.46" y="189.41" width="12.74" height="3.41" fill="#1f3159"/>
<rect x="218.1" y="189.41" width="12.74" height="3.41" fill="#110e0d"/>
<rect x="230.75" y="189.41" width="12.74" height="3.41" fill="#141f37"/>
<rect x="243.39" y="189.41" width="12.74" height="3.41" fill="#110e0d"/>
<rect x="256.03" y="189.41" width="12.74" height="3.41" fill="#110e0d"/>
<rect x="268.67" y="189.41" width="12.74" height="3.41" fill="#110e0d"/>
<rect x="281.32" y="189.41" width="12.74" height="3.41" fill="#110e0d"/>
<rect x="293.96" y="189.41" width="12.74" height="3.41" fill="#6b4a14"/>
<rect x="306.6" y="189.41" width="12.74" height="3.41" fill="#110e0d"/>
<rect x="319.25" y="189.41" width="12.74" height="3.41" fill="#2f220f"/>
<rect x="41.1" y="192.72" width="12.74" height="3.41" fill="#6491df"/>
<rect x="53.74" y="192.72" width="12.74" height="3.41" fill="#4f3711"/>
<rect x="66.39" y="192.72" width="12.74" height="3.41" fill="#07080c"/>
<rect x="79.03" y="192.72" width="12.74" height="3.41" fill="#110e0d"/>
<rect x="91.67" y="192.72" width="12.74" height="3.41" fill="#110e0d"/>
<rect x="104.31" y="192.72" width="12.74" height="3.41" fill="#4f3711"/>
<rect x="116.96" y="192.72" width="12.74" height="3.41" fill="#4f3711"/>
<rect x="129.6" y="192.72" width="12.74" height="3.41" fill="#141f37"/>
<rect x="142.24" y="192.72" width="12.74" height="3.41" fill="#110e0d"/>
<rect x="154.89" y="192.72" width="12.74" height="3.41" fill="#263e73"/>
<rect x="167.53" y="192.72" width="12.74" height="3.41" fill="#141f37"/>
<rect x="180.17" y="192.72" width="12.74" height="3.41" fill="#1f3159"/>
<rect x="192.82" y="192.72" width="12.74" height="3.41" fill="#110e0d"/>
<rect x="205.46" y="192.72" width="12.74" height="3.41" fill="#110e0d"/>
<rect x="218.1" y="192.72" width="12.74" height="3.41" fill="#6b4a14"/>
<rect x="230.75" y="192.72" width="12.74" height="3.41" fill="#110e0d"/>
<rect x="243.39" y="192.72" width="12.74" height="3.41" fill="#2f220f"/>
<rect x="256.03" y="192.72" width="12.74" height="3.41" fill="#07080c"/>
<rect x="268.67" y="192.72" width="12.74" height="3.41" fill="#110e0d"/>
<rect x="281.32" y="192.72" width="12.74" height="3.41" fill="#4f3711"/>
<rect x="293.96" y="192.72" width="12.74" height="3.41" fill="#6b4a14"/>
<rect x="306.6" y="192.72" width="12.74" height="3.41" fill="#2f220f"/>
<rect x="319.25" y="192.72" width="12.74" height="3.41" fill="#4f3711"/>
<rect x="41.1" y="196.03" width="12.74" height="3.41" fill="#4265a6"/>
<rect x="53.74" y="196.03" width="12.74" height="3.41" fill="#2f220f"/>
<rect x="66.39" y="196.03" width="12.74" height="3.41" fill="#07080c"/>
<rect x="79.03" y="196.03" width="12.74" height="3.41" fill="#1f3159"/>
<rect x="91.67" y="196.03" width="12.74" height="3.41" fill="#07080c"/>
<rect x="104.31" y="196.03" width="12.74" height="3.41" fill="#a67118"/>
<rect x="116.96" y="196.03" width="12.74" height="3.41" fill="#a67118"/>
<rect x="129.6" y="196.03" width="12.74" height="3.41" fill="#1f3159"/>
<rect x="142.24" y="196.03" width="12.74" height="3.41" fill="#263e73"/>
<rect x="154.89" y="196.03" width="12.74" height="3.41" fill="#110e0d"/>
<rect x="167.53" y="196.03" width="12.74" height="3.41" fill="#141f37"/>
<rect x="180.17" y="196.03" width="12.74" height="3.41" fill="#110e0d"/>
<rect x="192.82" y="196.03" width="12.74" height="3.41" fill="#07080c"/>
<rect x="205.46" y="196.03" width="12.74" height="3.41" fill="#865c16"/>
<rect x="218.1" y="196.03" width="12.74" height="3.41" fill="#865c16"/>
<rect x="230.75" y="196.03" width="12.74" height="3.41" fill="#110e0d"/>
<rect x="243.39" y="196.03" width="12.74" height="3.41" fill="#4f3711"/>
<rect x="256.03" y="196.03" width="12.74" height="3.41" fill="#110e0d"/>
<rect x="268.67" y="196.03" width="12.74" height="3.41" fill="#4f3711"/>
<rect x="281.32" y="196.03" width="12.74" height="3.41" fill="#2f220f"/>
<rect x="293.96" y="196.03" width="12.74" height="3.41" fill="#2f220f"/>
<rect x="306.6" y="196.03" width="12.74" height="3.41" fill="#4f3711"/>
<rect x="319.25" y="196.03" width="12.74" height="3.41" fill="#4f3711"/>
<rect x="41.1" y="199.34" width="12.74" height="3.41" fill="#141f37"/>
<rect x="53.74" y="199.34" width="12.74" height="3.41" fill="#07080c"/>
<rect x="66.39" y="199.34" width="12.74" height="3.41" fill="#110e0d"/>
<rect x="79.03" y="199.34" width="12.74" height="3.41" fill="#1f3159"/>
<rect x="91.67" y="199.34" width="12.74" height="3.41" fill="#110e0d"/>
<rect x="104.31" y="199.34" width="12.74" height="3.41" fill="#110e0d"/>
<rect x="116.96" y="199.34" width="12.74" height="3.41" fill="#2f220f"/>
<rect x="129.6" y="199.34" width="12.74" height="3.41" fill="#324e89"/>
<rect x="142.24" y="199.34" width="12.74" height="3.41" fill="#1f3159"/>
<rect x="154.89" y="199.34" width="12.74" height="3.41" fill="#07080c"/>
<rect x="167.53" y="199.34" width="12.74" height="3.41" fill="#110e0d"/>
<rect x="180.17" y="199.34" width="12.74" height="3.41" fill="#865c16"/>
<rect x="192.82" y="199.34" width="12.74" height="3.41" fill="#110e0d"/>
<rect x="205.46" y="199.34" width="12.74" height="3.41" fill="#4f3711"/>
<rect x="218.1" y="199.34" width="12.74" height="3.41" fill="#f6a61e"/>
<rect x="230.75" y="199.34" width="12.74" height="3.41" fill="#110e0d"/>
<rect x="243.39" y="199.34" width="12.74" height="3.41" fill="#110e0d"/>
<rect x="256.03" y="199.34" width="12.74" height="3.41" fill="#110e0d"/>
<rect x="268.67" y="199.34" width="12.74" height="3.41" fill="#2f220f"/>
<rect x="281.32" y="199.34" width="12.74" height="3.41" fill="#4f3711"/>
<rect x="293.96" y="199.34" width="12.74" height="3.41" fill="#2f220f"/>
<rect x="306.6" y="199.34" width="12.74" height="3.41" fill="#4f3711"/>
<rect x="319.25" y="199.34" width="12.74" height="3.41" fill="#2f220f"/>
<rect x="41.1" y="202.65" width="12.74" height="3.41" fill="#110e0d"/>
<rect x="53.74" y="202.65" width="12.74" height="3.41" fill="#1f3159"/>
<rect x="66.39" y="202.65" width="12.74" height="3.41" fill="#141f37"/>
<rect x="79.03" y="202.65" width="12.74" height="3.41" fill="#1f3159"/>
<rect x="91.67" y="202.65" width="12.74" height="3.41" fill="#110e0d"/>
<rect x="104.31" y="202.65" width="12.74" height="3.41" fill="#141f37"/>
<rect x="116.96" y="202.65" width="12.74" height="3.41" fill="#1f3159"/>
<rect x="129.6" y="202.65" width="12.74" height="3.41" fill="#324e89"/>
<rect x="142.24" y="202.65" width="12.74" height="3.41" fill="#1f3159"/>
<rect x="154.89" y="202.65" width="12.74" height="3.41" fill="#07080c"/>
<rect x="167.53" y="202.65" width="12.74" height="3.41" fill="#2f220f"/>
<rect x="180.17" y="202.65" width="12.74" height="3.41" fill="#865c16"/>
<rect x="192.82" y="202.65" width="12.74" height="3.41" fill="#4f3711"/>
<rect x="205.46" y="202.65" width="12.74" height="3.41" fill="#6b4a14"/>
<rect x="218.1" y="202.65" width="12.74" height="3.41" fill="#865c16"/>
<rect x="230.75" y="202.65" width="12.74" height="3.41" fill="#110e0d"/>
<rect x="243.39" y="202.65" width="12.74" height="3.41" fill="#a67118"/>
<rect x="256.03" y="202.65" width="12.74" height="3.41" fill="#2f220f"/>
<rect x="268.67" y="202.65" width="12.74" height="3.41" fill="#4f3711"/>
<rect x="281.32" y="202.65" width="12.74" height="3.41" fill="#110e0d"/>
<rect x="293.96" y="202.65" width="12.74" height="3.41" fill="#110e0d"/>
<rect x="306.6" y="202.65" width="12.74" height="3.41" fill="#2f220f"/>
<rect x="319.25" y="202.65" width="12.74" height="3.41" fill="#2f220f"/>
<rect x="41.1" y="205.97" width="12.74" height="3.41" fill="#141f37"/>
<rect x="53.74" y="205.97" width="12.74" height="3.41" fill="#324e89"/>
<rect x="66.39" y="205.97" width="12.74" height="3.41" fill="#1f3159"/>
<rect x="79.03" y="205.97" width="12.74" height="3.41" fill="#1f3159"/>
<rect x="91.67" y="205.97" width="12.74" height="3.41" fill="#110e0d"/>
<rect x="104.31" y="205.97" width="12.74" height="3.41" fill="#110e0d"/>
<rect x="116.96" y="205.97" width="12.74" height="3.41" fill="#1f3159"/>
<rect x="129.6" y="205.97" width="12.74" height="3.41" fill="#4265a6"/>
<rect x="142.24" y="205.97" width="12.74" height="3.41" fill="#1f3159"/>
<rect x="154.89" y="205.97" width="12.74" height="3.41" fill="#4f3711"/>
<rect x="167.53" y="205.97" width="12.74" height="3.41" fill="#110e0d"/>
<rect x="180.17" y="205.97" width="12.74" height="3.41" fill="#865c16"/>
<rect x="192.82" y="205.97" width="12.74" height="3.41" fill="#4f3711"/>
<rect x="205.46" y="205.97" width="12.74" height="3.41" fill="#6b4a14"/>
<rect x="218.1" y="205.97" width="12.74" height="3.41" fill="#865c16"/>
<rect x="230.75" y="205.97" width="12.74" height="3.41" fill="#110e0d"/>
<rect x="243.39" y="205.97" width="12.74" height="3.41" fill="#865c16"/>
<rect x="256.03" y="205.97" width="12.74" height="3.41" fill="#2f220f"/>
<rect x="268.67" y="205.97" width="12.74" height="3.41" fill="#4f3711"/>
<rect x="281.32" y="205.97" width="12.74" height="3.41" fill="#110e0d"/>
<rect x="293.96" y="205.97" width="12.74" height="3.41" fill="#1f3159"/>
<rect x="306.6" y="205.97" width="12.74" height="3.41" fill="#2f220f"/>
<rect x="319.25" y="205.97" width="12.74" height="3.41" fill="#110e0d"/>
<rect x="41.1" y="209.28" width="12.74" height="3.41" fill="#1f3159"/>
<rect x="53.74" y="209.28" width="12.74" height="3.41" fill="#324e89"/>
<rect x="66.39" y="209.28" width="12.74" height="3.41" fill="#1f3159"/>
<rect x="79.03" y="209.28" width="12.74" height="3.41" fill="#1f3159"/>
<rect x="91.67" y="209.28" width="12.74" height="3.41" fill="#110e0d"/>
<rect x="104.31" y="209.28" width="12.74" height="3.41" fill="#07080c"/>
<rect x="116.96" y="209.28" width="12.74" height="3.41" fill="#110e0d"/>
<rect x="129.6" y="209.28" width="12.74" height="3.41" fill="#1f3159"/>
<rect x="142.24" y="209.28" width="12.74" height="3.41" fill="#324e89"/>
<rect x="154.89" y="209.28" width="12.74" height="3.41" fill="#110e0d"/>
<rect x="167.53" y="209.28" width="12.74" height="3.41" fill="#110e0d"/>
<rect x="180.17" y="209.28" width="12.74" height="3.41" fill="#110e0d"/>
<rect x="192.82" y="209.28" width="12.74" height="3.41" fill="#4f3711"/>
<rect x="205.46" y="209.28" width="12.74" height="3.41" fill="#4f3711"/>
<rect x="218.1" y="209.28" width="12.74" height="3.41" fill="#f6a61e"/>
<rect x="230.75" y="209.28" width="12.74" height="3.41" fill="#110e0d"/>
<rect x="243.39" y="209.28" width="12.74" height="3.41" fill="#4f3711"/>
<rect x="256.03" y="209.28" width="12.74" height="3.41" fill="#2f220f"/>
<rect x="268.67" y="209.28" width="12.74" height="3.41" fill="#4f3711"/>
<rect x="281.32" y="209.28" width="12.74" height="3.41" fill="#2f220f"/>
<rect x="293.96" y="209.28" width="12.74" height="3.41" fill="#110e0d"/>
<rect x="306.6" y="209.28" width="12.74" height="3.41" fill="#2f220f"/>
<rect x="319.25" y="209.28" width="12.74" height="3.41" fill="#110e0d"/>
<rect x="41.1" y="212.59" width="12.74" height="3.41" fill="#1f3159"/>
<rect x="53.74" y="212.59" width="12.74" height="3.41" fill="#263e73"/>
<rect x="66.39" y="212.59" width="12.74" height="3.41" fill="#1f3159"/>
<rect x="79.03" y="212.59" width="12.74" height="3.41" fill="#1f3159"/>
<rect x="91.67" y="212.59" width="12.74" height="3.41" fill="#2f220f"/>
<rect x="104.31" y="212.59" width="12.74" height="3.41" fill="#110e0d"/>
<rect x="116.96" y="212.59" width="12.74" height="3.41" fill="#141f37"/>
<rect x="129.6" y="212.59" width="12.74" height="3.41" fill="#1f3159"/>
<rect x="142.24" y="212.59" width="12.74" height="3.41" fill="#1f3159"/>
<rect x="154.89" y="212.59" width="12.74" height="3.41" fill="#141f37"/>
<rect x="167.53" y="212.59" width="12.74" height="3.41" fill="#a67118"/>
<rect x="180.17" y="212.59" width="12.74" height="3.41" fill="#1f3159"/>
<rect x="192.82" y="212.59" width="12.74" height="3.41" fill="#110e0d"/>
<rect x="205.46" y="212.59" width="12.74" height="3.41" fill="#110e0d"/>
<rect x="218.1" y="212.59" width="12.74" height="3.41" fill="#110e0d"/>
<rect x="230.75" y="212.59" width="12.74" height="3.41" fill="#110e0d"/>
<rect x="243.39" y="212.59" width="12.74" height="3.41" fill="#110e0d"/>
<rect x="256.03" y="212.59" width="12.74" height="3.41" fill="#865c16"/>
<rect x="268.67" y="212.59" width="12.74" height="3.41" fill="#2f220f"/>
<rect x="281.32" y="212.59" width="12.74" height="3.41" fill="#110e0d"/>
<rect x="293.96" y="212.59" width="12.74" height="3.41" fill="#141f37"/>
<rect x="306.6" y="212.59" width="12.74" height="3.41" fill="#1f3159"/>
<rect x="319.25" y="212.59" width="12.74" height="3.41" fill="#141f37"/>
<rect x="41.1" y="215.9" width="12.74" height="3.41" fill="#141f37"/>
<rect x="53.74" y="215.9" width="12.74" height="3.41" fill="#110e0d"/>
<rect x="66.39" y="215.9" width="12.74" height="3.41" fill="#2f220f"/>
<rect x="79.03" y="215.9" width="12.74" height="3.41" fill="#1f3159"/>
<rect x="91.67" y="215.9" width="12.74" height="3.41" fill="#110e0d"/>
<rect x="104.31" y="215.9" width="12.74" height="3.41" fill="#1f3159"/>
<rect x="116.96" y="215.9" width="12.74" height="3.41" fill="#a67118"/>
<rect x="129.6" y="215.9" width="12.74" height="3.41" fill="#6b4a14"/>
<rect x="142.24" y="215.9" width="12.74" height="3.41" fill="#6b4a14"/>
<rect x="154.89" y="215.9" width="12.74" height="3.41" fill="#a67118"/>
<rect x="167.53" y="215.9" width="12.74" height="3.41" fill="#865c16"/>
<rect x="180.17" y="215.9" width="12.74" height="3.41" fill="#110e0d"/>
<rect x="192.82" y="215.9" width="12.74" height="3.41" fill="#a67118"/>
<rect x="205.46" y="215.9" width="12.74" height="3.41" fill="#07080c"/>
<rect x="218.1" y="215.9" width="12.74" height="3.41" fill="#141f37"/>
<rect x="230.75" y="215.9" width="12.74" height="3.41" fill="#4f3711"/>
<rect x="243.39" y="215.9" width="12.74" height="3.41" fill="#110e0d"/>
<rect x="256.03" y="215.9" width="12.74" height="3.41" fill="#4f3711"/>
<rect x="268.67" y="215.9" width="12.74" height="3.41" fill="#4f3711"/>
<rect x="281.32" y="215.9" width="12.74" height="3.41" fill="#141f37"/>
<rect x="293.96" y="215.9" width="12.74" height="3.41" fill="#07080c"/>
<rect x="306.6" y="215.9" width="12.74" height="3.41" fill="#141f37"/>
<rect x="319.25" y="215.9" width="12.74" height="3.41" fill="#110e0d"/>
<rect x="41.1" y="219.21" width="12.74" height="3.41" fill="#865c16"/>
<rect x="53.74" y="219.21" width="12.74" height="3.41" fill="#6491df"/>
<rect x="66.39" y="219.21" width="12.74" height="3.41" fill="#324e89"/>
<rect x="79.03" y="219.21" width="12.74" height="3.41" fill="#4265a6"/>
<rect x="91.67" y="219.21" width="12.74" height="3.41" fill="#141f37"/>
<rect x="104.31" y="219.21" width="12.74" height="3.41" fill="#110e0d"/>
<rect x="116.96" y="219.21" width="12.74" height="3.41" fill="#110e0d"/>
<rect x="129.6" y="219.21" width="12.74" height="3.41" fill="#2f220f"/>
<rect x="142.24" y="219.21" width="12.74" height="3.41" fill="#1f3159"/>
<rect x="154.89" y="219.21" width="12.74" height="3.41" fill="#110e0d"/>
<rect x="167.53" y="219.21" width="12.74" height="3.41" fill="#6b4a14"/>
<rect x="180.17" y="219.21" width="12.74" height="3.41" fill="#110e0d"/>
<rect x="192.82" y="219.21" width="12.74" height="3.41" fill="#110e0d"/>
<rect x="205.46" y="219.21" width="12.74" height="3.41" fill="#110e0d"/>
<rect x="218.1" y="219.21" width="12.74" height="3.41" fill="#6b4a14"/>
<rect x="230.75" y="219.21" width="12.74" height="3.41" fill="#110e0d"/>
<rect x="243.39" y="219.21" width="12.74" height="3.41" fill="#2f220f"/>
<rect x="256.03" y="219.21" width="12.74" height="3.41" fill="#4f3711"/>
<rect x="268.67" y="219.21" width="12.74" height="3.41" fill="#4f3711"/>
<rect x="281.32" y="219.21" width="12.74" height="3.41" fill="#141f37"/>
<rect x="293.96" y="219.21" width="12.74" height="3.41" fill="#110e0d"/>
<rect x="306.6" y="219.21" width="12.74" height="3.41" fill="#4f3711"/>
<rect x="319.25" y="219.21" width="12.74" height="3.41" fill="#4f3711"/>
<rect x="41.1" y="222.52" width="12.74" height="3.41" fill="#865c16"/>
<rect x="53.74" y="222.52" width="12.74" height="3.41" fill="#263e73"/>
<rect x="66.39" y="222.52" width="12.74" height="3.41" fill="#324e89"/>
<rect x="79.03" y="222.52" width="12.74" height="3.41" fill="#4265a6"/>
<rect x="91.67" y="222.52" width="12.74" height="3.41" fill="#141f37"/>
<rect x="104.31" y="222.52" width="12.74" height="3.41" fill="#110e0d"/>
<rect x="116.96" y="222.52" width="12.74" height="3.41" fill="#110e0d"/>
<rect x="129.6" y="222.52" width="12.74" height="3.41" fill="#141f37"/>
<rect x="142.24" y="222.52" width="12.74" height="3.41" fill="#263e73"/>
<rect x="154.89" y="222.52" width="12.74" height="3.41" fill="#141f37"/>
<rect x="167.53" y="222.52" width="12.74" height="3.41" fill="#6b4a14"/>
<rect x="180.17" y="222.52" width="12.74" height="3.41" fill="#4f3711"/>
<rect x="192.82" y="222.52" width="12.74" height="3.41" fill="#141f37"/>
<rect x="205.46" y="222.52" width="12.74" height="3.41" fill="#ce8c1b"/>
<rect x="218.1" y="222.52" width="12.74" height="3.41" fill="#6b4a14"/>
<rect x="230.75" y="222.52" width="12.74" height="3.41" fill="#110e0d"/>
<rect x="243.39" y="222.52" width="12.74" height="3.41" fill="#2f220f"/>
<rect x="256.03" y="222.52" width="12.74" height="3.41" fill="#2f220f"/>
<rect x="268.67" y="222.52" width="12.74" height="3.41" fill="#2f220f"/>
<rect x="281.32" y="222.52" width="12.74" height="3.41" fill="#07080c"/>
<rect x="293.96" y="222.52" width="12.74" height="3.41" fill="#4f3711"/>
<rect x="306.6" y="222.52" width="12.74" height="3.41" fill="#6b4a14"/>
<rect x="319.25" y="222.52" width="12.74" height="3.41" fill="#6b4a14"/>
<rect x="41.1" y="225.83" width="12.74" height="3.41" fill="#110e0d"/>
<rect x="53.74" y="225.83" width="12.74" height="3.41" fill="#1f3159"/>
<rect x="66.39" y="225.83" width="12.74" height="3.41" fill="#324e89"/>
<rect x="79.03" y="225.83" width="12.74" height="3.41" fill="#4265a6"/>
<rect x="91.67" y="225.83" width="12.74" height="3.41" fill="#141f37"/>
<rect x="104.31" y="225.83" width="12.74" height="3.41" fill="#110e0d"/>
<rect x="116.96" y="225.83" width="12.74" height="3.41" fill="#110e0d"/>
<rect x="129.6" y="225.83" width="12.74" height="3.41" fill="#110e0d"/>
<rect x="142.24" y="225.83" width="12.74" height="3.41" fill="#263e73"/>
<rect x="154.89" y="225.83" width="12.74" height="3.41" fill="#141f37"/>
<rect x="167.53" y="225.83" width="12.74" height="3.41" fill="#4f3711"/>
<rect x="180.17" y="225.83" width="12.74" height="3.41" fill="#4f3711"/>
<rect x="192.82" y="225.83" width="12.74" height="3.41" fill="#110e0d"/>
<rect x="205.46" y="225.83" width="12.74" height="3.41" fill="#4f3711"/>
<rect x="218.1" y="225.83" width="12.74" height="3.41" fill="#2f220f"/>
<rect x="230.75" y="225.83" width="12.74" height="3.41" fill="#4f3711"/>
<rect x="243.39" y="225.83" width="12.74" height="3.41" fill="#6b4a14"/>
<rect x="256.03" y="225.83" width="12.74" height="3.41" fill="#110e0d"/>
<rect x="268.67" y="225.83" width="12.74" height="3.41" fill="#2f220f"/>
<rect x="281.32" y="225.83" width="12.74" height="3.41" fill="#110e0d"/>
<rect x="293.96" y="225.83" width="12.74" height="3.41" fill="#6b4a14"/>
<rect x="306.6" y="225.83" width="12.74" height="3.41" fill="#110e0d"/>
<rect x="319.25" y="225.83" width="12.74" height="3.41" fill="#110e0d"/>
<rect x="41.1" y="229.15" width="12.74" height="3.41" fill="#1f3159"/>
<rect x="53.74" y="229.15" width="12.74" height="3.41" fill="#263e73"/>
<rect x="66.39" y="229.15" width="12.74" height="3.41" fill="#324e89"/>
<rect x="79.03" y="229.15" width="12.74" height="3.41" fill="#1f3159"/>
<rect x="91.67" y="229.15" width="12.74" height="3.41" fill="#141f37"/>
<rect x="104.31" y="229.15" width="12.74" height="3.41" fill="#110e0d"/>
<rect x="116.96" y="229.15" width="12.74" height="3.41" fill="#263e73"/>
<rect x="129.6" y="229.15" width="12.74" height="3.41" fill="#110e0d"/>
<rect x="142.24" y="229.15" width="12.74" height="3.41" fill="#263e73"/>
<rect x="154.89" y="229.15" width="12.74" height="3.41" fill="#141f37"/>
<rect x="167.53" y="229.15" width="12.74" height="3.41" fill="#6b4a14"/>
<rect x="180.17" y="229.15" width="12.74" height="3.41" fill="#2f220f"/>
<rect x="192.82" y="229.15" width="12.74" height="3.41" fill="#110e0d"/>
<rect x="205.46" y="229.15" width="12.74" height="3.41" fill="#2f220f"/>
<rect x="218.1" y="229.15" width="12.74" height="3.41" fill="#4f3711"/>
<rect x="230.75" y="229.15" width="12.74" height="3.41" fill="#2f220f"/>
<rect x="243.39" y="229.15" width="12.74" height="3.41" fill="#6b4a14"/>
<rect x="256.03" y="229.15" width="12.74" height="3.41" fill="#110e0d"/>
<rect x="268.67" y="229.15" width="12.74" height="3.41" fill="#110e0d"/>
<rect x="281.32" y="229.15" width="12.74" height="3.41" fill="#ce8c1b"/>
<rect x="293.96" y="229.15" width="12.74" height="3.41" fill="#6b4a14"/>
<rect x="306.6" y="229.15" width="12.74" height="3.41" fill="#110e0d"/>
<rect x="319.25" y="229.15" width="12.74" height="3.41" fill="#2f220f"/>
<rect x="41.1" y="232.46" width="12.74" height="3.41" fill="#1f3159"/>
<rect x="53.74" y="232.46" width="12.74" height="3.41" fill="#1f3159"/>
<rect x="66.39" y="232.46" width="12.74" height="3.41" fill="#4265a6"/>
<rect x="79.03" y="232.46" width="12.74" height="3.41" fill="#141f37"/>
<rect x="91.67" y="232.46" width="12.74" height="3.41" fill="#110e0d"/>
<rect x="104.31" y="232.46" width="12.74" height="3.41" fill="#110e0d"/>
<rect x="116.96" y="232.46" width="12.74" height="3.41" fill="#263e73"/>
<rect x="129.6" y="232.46" width="12.74" height="3.41" fill="#110e0d"/>
<rect x="142.24" y="232.46" width="12.74" height="3.41" fill="#263e73"/>
<rect x="154.89" y="232.46" width="12.74" height="3.41" fill="#324e89"/>
<rect x="167.53" y="232.46" width="12.74" height="3.41" fill="#6b4a14"/>
<rect x="180.17" y="232.46" width="12.74" height="3.41" fill="#07080c"/>
<rect x="192.82" y="232.46" width="12.74" height="3.41" fill="#07080c"/>
<rect x="205.46" y="232.46" width="12.74" height="3.41" fill="#110e0d"/>
<rect x="218.1" y="232.46" width="12.74" height="3.41" fill="#110e0d"/>
<rect x="230.75" y="232.46" width="12.74" height="3.41" fill="#110e0d"/>
<rect x="243.39" y="232.46" width="12.74" height="3.41" fill="#2f220f"/>
<rect x="256.03" y="232.46" width="12.74" height="3.41" fill="#2f220f"/>
<rect x="268.67" y="232.46" width="12.74" height="3.41" fill="#110e0d"/>
<rect x="281.32" y="232.46" width="12.74" height="3.41" fill="#ce8c1b"/>
<rect x="293.96" y="232.46" width="12.74" height="3.41" fill="#6b4a14"/>
<rect x="306.6" y="232.46" width="12.74" height="3.41" fill="#4f3711"/>
<rect x="319.25" y="232.46" width="12.74" height="3.41" fill="#4f3711"/>
<rect x="41.1" y="235.77" width="12.74" height="3.41" fill="#110e0d"/>
<rect x="53.74" y="235.77" width="12.74" height="3.41" fill="#1f3159"/>
<rect x="66.39" y="235.77" width="12.74" height="3.41" fill="#537bc3"/>
<rect x="79.03" y="235.77" width="12.74" height="3.41" fill="#141f37"/>
<rect x="91.67" y="235.77" width="12.74" height="3.41" fill="#1f3159"/>
<rect x="104.31" y="235.77" width="12.74" height="3.41" fill="#110e0d"/>
<rect x="116.96" y="235.77" width="12.74" height="3.41" fill="#1f3159"/>
<rect x="129.6" y="235.77" width="12.74" height="3.41" fill="#110e0d"/>
<rect x="142.24" y="235.77" width="12.74" height="3.41" fill="#110e0d"/>
<rect x="154.89" y="235.77" width="12.74" height="3.41" fill="#110e0d"/>
<rect x="167.53" y="235.77" width="12.74" height="3.41" fill="#4f3711"/>
<rect x="180.17" y="235.77" width="12.74" height="3.41" fill="#110e0d"/>
<rect x="192.82" y="235.77" width="12.74" height="3.41" fill="#a67118"/>
<rect x="205.46" y="235.77" width="12.74" height="3.41" fill="#865c16"/>
<rect x="218.1" y="235.77" width="12.74" height="3.41" fill="#6b4a14"/>
<rect x="230.75" y="235.77" width="12.74" height="3.41" fill="#1f3159"/>
<rect x="243.39" y="235.77" width="12.74" height="3.41" fill="#865c16"/>
<rect x="256.03" y="235.77" width="12.74" height="3.41" fill="#110e0d"/>
<rect x="268.67" y="235.77" width="12.74" height="3.41" fill="#141f37"/>
<rect x="281.32" y="235.77" width="12.74" height="3.41" fill="#110e0d"/>
<rect x="293.96" y="235.77" width="12.74" height="3.41" fill="#6b4a14"/>
<rect x="306.6" y="235.77" width="12.74" height="3.41" fill="#110e0d"/>
<rect x="319.25" y="235.77" width="12.74" height="3.41" fill="#110e0d"/>
<rect x="41.1" y="239.08" width="12.74" height="3.41" fill="#6b4a14"/>
<rect x="53.74" y="239.08" width="12.74" height="3.41" fill="#1f3159"/>
<rect x="66.39" y="239.08" width="12.74" height="3.41" fill="#4265a6"/>
<rect x="79.03" y="239.08" width="12.74" height="3.41" fill="#110e0d"/>
<rect x="91.67" y="239.08" width="12.74" height="3.41" fill="#141f37"/>
<rect x="104.31" y="239.08" width="12.74" height="3.41" fill="#1f3159"/>
<rect x="116.96" y="239.08" width="12.74" height="3.41" fill="#4265a6"/>
<rect x="129.6" y="239.08" width="12.74" height="3.41" fill="#2f220f"/>
<rect x="142.24" y="239.08" width="12.74" height="3.41" fill="#6b4a14"/>
<rect x="154.89" y="239.08" width="12.74" height="3.41" fill="#865c16"/>
<rect x="167.53" y="239.08" width="12.74" height="3.41" fill="#a67118"/>
<rect x="180.17" y="239.08" width="12.74" height="3.41" fill="#4f3711"/>
<rect x="192.82" y="239.08" width="12.74" height="3.41" fill="#141f37"/>
<rect x="205.46" y="239.08" width="12.74" height="3.41" fill="#a67118"/>
<rect x="218.1" y="239.08" width="12.74" height="3.41" fill="#2f220f"/>
<rect x="230.75" y="239.08" width="12.74" height="3.41" fill="#4f3711"/>
<rect x="243.39" y="239.08" width="12.74" height="3.41" fill="#2f220f"/>
<rect x="256.03" y="239.08" width="12.74" height="3.41" fill="#110e0d"/>
<rect x="268.67" y="239.08" width="12.74" height="3.41" fill="#141f37"/>
<rect x="281.32" y="239.08" width="12.74" height="3.41" fill="#110e0d"/>
<rect x="293.96" y="239.08" width="12.74" height="3.41" fill="#141f37"/>
<rect x="306.6" y="239.08" width="12.74" height="3.41" fill="#07080c"/>
<rect x="319.25" y="239.08" width="12.74" height="3.41" fill="#07080c"/>
<rect x="41.1" y="242.39" width="12.74" height="3.41" fill="#1f3159"/>
<rect x="53.74" y="242.39" width="12.74" height="3.41" fill="#07080c"/>
<rect x="66.39" y="242.39" width="12.74" height="3.41" fill="#263e73"/>
<rect x="79.03" y="242.39" width="12.74" height="3.41" fill="#263e73"/>
<rect x="91.67" y="242.39" width="12.74" height="3.41" fill="#110e0d"/>
<rect x="104.31" y="242.39" width="12.74" height="3.41" fill="#1f3159"/>
<rect x="116.96" y="242.39" width="12.74" height="3.41" fill="#4265a6"/>
<rect x="129.6" y="242.39" width="12.74" height="3.41" fill="#110e0d"/>
<rect x="142.24" y="242.39" width="12.74" height="3.41" fill="#6b4a14"/>
<rect x="154.89" y="242.39" width="12.74" height="3.41" fill="#2f220f"/>
<rect x="167.53" y="242.39" width="12.74" height="3.41" fill="#4f3711"/>
<rect x="180.17" y="242.39" width="12.74" height="3.41" fill="#4f3711"/>
<rect x="192.82" y="242.39" width="12.74" height="3.41" fill="#141f37"/>
<rect x="205.46" y="242.39" width="12.74" height="3.41" fill="#a67118"/>
<rect x="218.1" y="242.39" width="12.74" height="3.41" fill="#2f220f"/>
<rect x="230.75" y="242.39" width="12.74" height="3.41" fill="#6b4a14"/>
<rect x="243.39" y="242.39" width="12.74" height="3.41" fill="#4f3711"/>
<rect x="256.03" y="242.39" width="12.74" height="3.41" fill="#110e0d"/>
<rect x="268.67" y="242.39" width="12.74" height="3.41" fill="#110e0d"/>
<rect x="281.32" y="242.39" width="12.74" height="3.41" fill="#2f220f"/>
<rect x="293.96" y="242.39" width="12.74" height="3.41" fill="#141f37"/>
<rect x="306.6" y="242.39" width="12.74" height="3.41" fill="#2f220f"/>
<rect x="319.25" y="242.39" width="12.74" height="3.41" fill="#2f220f"/>
<rect x="41.1" y="245.7" width="12.74" height="3.41" fill="#263e73"/>
<rect x="53.74" y="245.7" width="12.74" height="3.41" fill="#110e0d"/>
<rect x="66.39" y="245.7" width="12.74" height="3.41" fill="#1f3159"/>
<rect x="79.03" y="245.7" width="12.74" height="3.41" fill="#1f3159"/>
<rect x="91.67" y="245.7" width="12.74" height="3.41" fill="#141f37"/>
<rect x="104.31" y="245.7" width="12.74" height="3.41" fill="#1f3159"/>
<rect x="116.96" y="245.7" width="12.74" height="3.41" fill="#1f3159"/>
<rect x="129.6" y="245.7" width="12.74" height="3.41" fill="#110e0d"/>
<rect x="142.24" y="245.7" width="12.74" height="3.41" fill="#2f220f"/>
<rect x="154.89" y="245.7" width="12.74" height="3.41" fill="#6b4a14"/>
<rect x="167.53" y="245.7" width="12.74" height="3.41" fill="#ce8c1b"/>
<rect x="180.17" y="245.7" width="12.74" height="3.41" fill="#110e0d"/>
<rect x="192.82" y="245.7" width="12.74" height="3.41" fill="#141f37"/>
<rect x="205.46" y="245.7" width="12.74" height="3.41" fill="#ce8c1b"/>
<rect x="218.1" y="245.7" width="12.74" height="3.41" fill="#2f220f"/>
<rect x="230.75" y="245.7" width="12.74" height="3.41" fill="#4f3711"/>
<rect x="243.39" y="245.7" width="12.74" height="3.41" fill="#141f37"/>
<rect x="256.03" y="245.7" width="12.74" height="3.41" fill="#110e0d"/>
<rect x="268.67" y="245.7" width="12.74" height="3.41" fill="#110e0d"/>
<rect x="281.32" y="245.7" width="12.74" height="3.41" fill="#2f220f"/>
<rect x="293.96" y="245.7" width="12.74" height="3.41" fill="#110e0d"/>
<rect x="306.6" y="245.7" width="12.74" height="3.41" fill="#4f3711"/>
<rect x="319.25" y="245.7" width="12.74" height="3.41" fill="#4f3711"/>
<rect x="41.1" y="249.01" width="12.74" height="3.41" fill="#263e73"/>
<rect x="53.74" y="249.01" width="12.74" height="3.41" fill="#1f3159"/>
<rect x="66.39" y="249.01" width="12.74" height="3.41" fill="#1f3159"/>
<rect x="79.03" y="249.01" width="12.74" height="3.41" fill="#1f3159"/>
<rect x="91.67" y="249.01" width="12.74" height="3.41" fill="#141f37"/>
<rect x="104.31" y="249.01" width="12.74" height="3.41" fill="#1f3159"/>
<rect x="116.96" y="249.01" width="12.74" height="3.41" fill="#4f3711"/>
<rect x="129.6" y="249.01" width="12.74" height="3.41" fill="#2f220f"/>
<rect x="142.24" y="249.01" width="12.74" height="3.41" fill="#1f3159"/>
<rect x="154.89" y="249.01" width="12.74" height="3.41" fill="#07080c"/>
<rect x="167.53" y="249.01" width="12.74" height="3.41" fill="#ce8c1b"/>
<rect x="180.17" y="249.01" width="12.74" height="3.41" fill="#141f37"/>
<rect x="192.82" y="249.01" width="12.74" height="3.41" fill="#110e0d"/>
<rect x="205.46" y="249.01" width="12.74" height="3.41" fill="#e69b1d"/>
<rect x="218.1" y="249.01" width="12.74" height="3.41" fill="#2f220f"/>
<rect x="230.75" y="249.01" width="12.74" height="3.41" fill="#4f3711"/>
<rect x="243.39" y="249.01" width="12.74" height="3.41" fill="#4f3711"/>
<rect x="256.03" y="249.01" width="12.74" height="3.41" fill="#4f3711"/>
<rect x="268.67" y="249.01" width="12.74" height="3.41" fill="#110e0d"/>
<rect x="281.32" y="249.01" width="12.74" height="3.41" fill="#141f37"/>
<rect x="293.96" y="249.01" width="12.74" height="3.41" fill="#110e0d"/>
<rect x="306.6" y="249.01" width="12.74" height="3.41" fill="#2f220f"/>
<rect x="319.25" y="249.01" width="12.74" height="3.41" fill="#2f220f"/>
<rect x="41.1" y="252.33" width="12.74" height="3.41" fill="#1f3159"/>
<rect x="53.74" y="252.33" width="12.74" height="3.41" fill="#1f3159"/>
<rect x="66.39" y="252.33" width="12.74" height="3.41" fill="#1f3159"/>
<rect x="79.03" y="252.33" width="12.74" height="3.41" fill="#1f3159"/>
<rect x="91.67" y="252.33" width="12.74" height="3.41" fill="#1f3159"/>
<rect x="104.31" y="252.33" width="12.74" height="3.41" fill="#1f3159"/>
<rect x="116.96" y="252.33" width="12.74" height="3.41" fill="#110e0d"/>
<rect x="129.6" y="252.33" width="12.74" height="3.41" fill="#2f220f"/>
<rect x="142.24" y="252.33" width="12.74" height="3.41" fill="#1f3159"/>
<rect x="154.89" y="252.33" width="12.74" height="3.41" fill="#2f220f"/>
<rect x="167.53" y="252.33" width="12.74" height="3.41" fill="#ce8c1b"/>
<rect x="180.17" y="252.33" width="12.74" height="3.41" fill="#1f3159"/>
<rect x="192.82" y="252.33" width="12.74" height="3.41" fill="#110e0d"/>
<rect x="205.46" y="252.33" width="12.74" height="3.41" fill="#e69b1d"/>
<rect x="218.1" y="252.33" width="12.74" height="3.41" fill="#4f3711"/>
<rect x="230.75" y="252.33" width="12.74" height="3.41" fill="#4f3711"/>
<rect x="243.39" y="252.33" width="12.74" height="3.41" fill="#4f3711"/>
<rect x="256.03" y="252.33" width="12.74" height="3.41" fill="#110e0d"/>
<rect x="268.67" y="252.33" width="12.74" height="3.41" fill="#110e0d"/>
<rect x="281.32" y="252.33" width="12.74" height="3.41" fill="#110e0d"/>
<rect x="293.96" y="252.33" width="12.74" height="3.41" fill="#110e0d"/>
<rect x="306.6" y="252.33" width="12.74" height="3.41" fill="#2f220f"/>
<rect x="319.25" y="252.33" width="12.74" height="3.41" fill="#2f220f"/>
<rect x="41.1" y="255.64" width="12.74" height="3.41" fill="#07080c"/>
<rect x="53.74" y="255.64" width="12.74" height="3.41" fill="#141f37"/>
<rect x="66.39" y="255.64" width="12.74" height="3.41" fill="#4f3711"/>
<rect x="79.03" y="255.64" width="12.74" height="3.41" fill="#1f3159"/>
<rect x="91.67" y="255.64" width="12.74" height="3.41" fill="#1f3159"/>
<rect x="104.31" y="255.64" width="12.74" height="3.41" fill="#110e0d"/>
<rect x="116.96" y="255.64" width="12.74" height="3.41" fill="#a67118"/>
<rect x="129.6" y="255.64" width="12.74" height="3.41" fill="#110e0d"/>
<rect x="142.24" y="255.64" width="12.74" height="3.41" fill="#141f37"/>
<rect x="154.89" y="255.64" width="12.74" height="3.41" fill="#4f3711"/>
<rect x="167.53" y="255.64" width="12.74" height="3.41" fill="#ce8c1b"/>
<rect x="180.17" y="255.64" width="12.74" height="3.41" fill="#4f3711"/>
<rect x="192.82" y="255.64" width="12.74" height="3.41" fill="#a67118"/>
<rect x="205.46" y="255.64" width="12.74" height="3.41" fill="#110e0d"/>
<rect x="218.1" y="255.64" width="12.74" height="3.41" fill="#a67118"/>
<rect x="230.75" y="255.64" width="12.74" height="3.41" fill="#110e0d"/>
<rect x="243.39" y="255.64" width="12.74" height="3.41" fill="#1f3159"/>
<rect x="256.03" y="255.64" width="12.74" height="3.41" fill="#141f37"/>
<rect x="268.67" y="255.64" width="12.74" height="3.41" fill="#141f37"/>
<rect x="281.32" y="255.64" width="12.74" height="3.41" fill="#110e0d"/>
<rect x="293.96" y="255.64" width="12.74" height="3.41" fill="#110e0d"/>
<rect x="306.6" y="255.64" width="12.74" height="3.41" fill="#110e0d"/>
<rect x="319.25" y="255.64" width="12.74" height="3.41" fill="#141f37"/>
<rect x="41.1" y="258.95" width="12.74" height="3.41" fill="#865c16"/>
<rect x="53.74" y="258.95" width="12.74" height="3.41" fill="#865c16"/>
<rect x="66.39" y="258.95" width="12.74" height="3.41" fill="#110e0d"/>
<rect x="79.03" y="258.95" width="12.74" height="3.41" fill="#07080c"/>
<rect x="91.67" y="258.95" width="12.74" height="3.41" fill="#110e0d"/>
<rect x="104.31" y="258.95" width="12.74" height="3.41" fill="#110e0d"/>
<rect x="116.96" y="258.95" width="12.74" height="3.41" fill="#110e0d"/>
<rect x="129.6" y="258.95" width="12.74" height="3.41" fill="#1f3159"/>
<rect x="142.24" y="258.95" width="12.74" height="3.41" fill="#141f37"/>
<rect x="154.89" y="258.95" width="12.74" height="3.41" fill="#6b4a14"/>
<rect x="167.53" y="258.95" width="12.74" height="3.41" fill="#e69b1d"/>
<rect x="180.17" y="258.95" width="12.74" height="3.41" fill="#2f220f"/>
<rect x="192.82" y="258.95" width="12.74" height="3.41" fill="#110e0d"/>
<rect x="205.46" y="258.95" width="12.74" height="3.41" fill="#07080c"/>
<rect x="218.1" y="258.95" width="12.74" height="3.41" fill="#110e0d"/>
<rect x="230.75" y="258.95" width="12.74" height="3.41" fill="#2f220f"/>
<rect x="243.39" y="258.95" width="12.74" height="3.41" fill="#6b4a14"/>
<rect x="256.03" y="258.95" width="12.74" height="3.41" fill="#324e89"/>
<rect x="268.67" y="258.95" width="12.74" height="3.41" fill="#141f37"/>
<rect x="281.32" y="258.95" width="12.74" height="3.41" fill="#324e89"/>
<rect x="293.96" y="258.95" width="12.74" height="3.41" fill="#1f3159"/>
<rect x="306.6" y="258.95" width="12.74" height="3.41" fill="#141f37"/>
<rect x="319.25" y="258.95" width="12.74" height="3.41" fill="#141f37"/>
<rect x="41.1" y="262.26" width="12.74" height="3.41" fill="#263e73"/>
<rect x="53.74" y="262.26" width="12.74" height="3.41" fill="#1f3159"/>
<rect x="66.39" y="262.26" width="12.74" height="3.41" fill="#324e89"/>
<rect x="79.03" y="262.26" width="12.74" height="3.41" fill="#110e0d"/>
<rect x="91.67" y="262.26" width="12.74" height="3.41" fill="#141f37"/>
<rect x="104.31" y="262.26" width="12.74" height="3.41" fill="#110e0d"/>
<rect x="116.96" y="262.26" width="12.74" height="3.41" fill="#141f37"/>
<rect x="129.6" y="262.26" width="12.74" height="3.41" fill="#1f3159"/>
<rect x="142.24" y="262.26" width="12.74" height="3.41" fill="#1f3159"/>
<rect x="154.89" y="262.26" width="12.74" height="3.41" fill="#110e0d"/>
<rect x="167.53" y="262.26" width="12.74" height="3.41" fill="#110e0d"/>
<rect x="180.17" y="262.26" width="12.74" height="3.41" fill="#110e0d"/>
<rect x="192.82" y="262.26" width="12.74" height="3.41" fill="#110e0d"/>
<rect x="205.46" y="262.26" width="12.74" height="3.41" fill="#2f220f"/>
<rect x="218.1" y="262.26" width="12.74" height="3.41" fill="#6b4a14"/>
<rect x="230.75" y="262.26" width="12.74" height="3.41" fill="#4f3711"/>
<rect x="243.39" y="262.26" width="12.74" height="3.41" fill="#6b4a14"/>
<rect x="256.03" y="262.26" width="12.74" height="3.41" fill="#4f3711"/>
<rect x="268.67" y="262.26" width="12.74" height="3.41" fill="#2f220f"/>
<rect x="281.32" y="262.26" width="12.74" height="3.41" fill="#865c16"/>
<rect x="293.96" y="262.26" width="12.74" height="3.41" fill="#6b4a14"/>
<rect x="306.6" y="262.26" width="12.74" height="3.41" fill="#4f3711"/>
<rect x="319.25" y="262.26" width="12.74" height="3.41" fill="#6b4a14"/>
<rect x="41.1" y="265.57" width="12.74" height="3.41" fill="#263e73"/>
<rect x="53.74" y="265.57" width="12.74" height="3.41" fill="#263e73"/>
<rect x="66.39" y="265.57" width="12.74" height="3.41" fill="#324e89"/>
<rect x="79.03" y="265.57" width="12.74" height="3.41" fill="#1f3159"/>
<rect x="91.67" y="265.57" width="12.74" height="3.41" fill="#110e0d"/>
<rect x="104.31" y="265.57" width="12.74" height="3.41" fill="#110e0d"/>
<rect x="116.96" y="265.57" width="12.74" height="3.41" fill="#1f3159"/>
<rect x="129.6" y="265.57" width="12.74" height="3.41" fill="#1f3159"/>
<rect x="142.24" y="265.57" width="12.74" height="3.41" fill="#1f3159"/>
<rect x="154.89" y="265.57" width="12.74" height="3.41" fill="#324e89"/>
<rect x="167.53" y="265.57" width="12.74" height="3.41" fill="#110e0d"/>
<rect x="180.17" y="265.57" width="12.74" height="3.41" fill="#110e0d"/>
<rect x="192.82" y="265.57" width="12.74" height="3.41" fill="#2f220f"/>
<rect x="205.46" y="265.57" width="12.74" height="3.41" fill="#2f220f"/>
<rect x="218.1" y="265.57" width="12.74" height="3.41" fill="#6b4a14"/>
<rect x="230.75" y="265.57" width="12.74" height="3.41" fill="#4f3711"/>
<rect x="243.39" y="265.57" width="12.74" height="3.41" fill="#6b4a14"/>
<rect x="256.03" y="265.57" width="12.74" height="3.41" fill="#4f3711"/>
<rect x="268.67" y="265.57" width="12.74" height="3.41" fill="#2f220f"/>
<rect x="281.32" y="265.57" width="12.74" height="3.41" fill="#6b4a14"/>
<rect x="293.96" y="265.57" width="12.74" height="3.41" fill="#6b4a14"/>
<rect x="306.6" y="265.57" width="12.74" height="3.41" fill="#4f3711"/>
<rect x="319.25" y="265.57" width="12.74" height="3.41" fill="#6b4a14"/>
<rect x="41.1" y="268.88" width="12.74" height="3.41" fill="#263e73"/>
<rect x="53.74" y="268.88" width="12.74" height="3.41" fill="#1f3159"/>
<rect x="66.39" y="268.88" width="12.74" height="3.41" fill="#324e89"/>
<rect x="79.03" y="268.88" width="12.74" height="3.41" fill="#1f3159"/>
<rect x="91.67" y="268.88" width="12.74" height="3.41" fill="#141f37"/>
<rect x="104.31" y="268.88" width="12.74" height="3.41" fill="#110e0d"/>
<rect x="116.96" y="268.88" width="12.74" height="3.41" fill="#1f3159"/>
<rect x="129.6" y="268.88" width="12.74" height="3.41" fill="#1f3159"/>
<rect x="142.24" y="268.88" width="12.74" height="3.41" fill="#1f3159"/>
<rect x="154.89" y="268.88" width="12.74" height="3.41" fill="#1f3159"/>
<rect x="167.53" y="268.88" width="12.74" height="3.41" fill="#110e0d"/>
<rect x="180.17" y="268.88" width="12.74" height="3.41" fill="#1f3159"/>
<rect x="192.82" y="268.88" width="12.74" height="3.41" fill="#4f3711"/>
<rect x="205.46" y="268.88" width="12.74" height="3.41" fill="#2f220f"/>
<rect x="218.1" y="268.88" width="12.74" height="3.41" fill="#6b4a14"/>
<rect x="230.75" y="268.88" width="12.74" height="3.41" fill="#6b4a14"/>
<rect x="243.39" y="268.88" width="12.74" height="3.41" fill="#4f3711"/>
<rect x="256.03" y="268.88" width="12.74" height="3.41" fill="#2f220f"/>
<rect x="268.67" y="268.88" width="12.74" height="3.41" fill="#2f220f"/>
<rect x="281.32" y="268.88" width="12.74" height="3.41" fill="#4f3711"/>
<rect x="293.96" y="268.88" width="12.74" height="3.41" fill="#4f3711"/>
<rect x="306.6" y="268.88" width="12.74" height="3.41" fill="#4f3711"/>
<rect x="319.25" y="268.88" width="12.74" height="3.41" fill="#4f3711"/>
<rect x="41.1" y="272.19" width="12.74" height="3.41" fill="#141f37"/>
<rect x="53.74" y="272.19" width="12.74" height="3.41" fill="#110e0d"/>
<rect x="66.39" y="272.19" width="12.74" height="3.41" fill="#263e73"/>
<rect x="79.03" y="272.19" width="12.74" height="3.41" fill="#141f37"/>
<rect x="91.67" y="272.19" width="12.74" height="3.41" fill="#2f220f"/>
<rect x="104.31" y="272.19" width="12.74" height="3.41" fill="#a67118"/>
<rect x="116.96" y="272.19" width="12.74" height="3.41" fill="#a67118"/>
<rect x="129.6" y="272.19" width="12.74" height="3.41" fill="#e69b1d"/>
<rect x="142.24" y="272.19" width="12.74" height="3.41" fill="#a67118"/>
<rect x="154.89" y="272.19" width="12.74" height="3.41" fill="#1f3159"/>
<rect x="167.53" y="272.19" width="12.74" height="3.41" fill="#110e0d"/>
<rect x="180.17" y="272.19" width="12.74" height="3.41" fill="#263e73"/>
<rect x="192.82" y="272.19" width="12.74" height="3.41" fill="#6b4a14"/>
<rect x="205.46" y="272.19" width="12.74" height="3.41" fill="#110e0d"/>
<rect x="218.1" y="272.19" width="12.74" height="3.41" fill="#110e0d"/>
<rect x="230.75" y="272.19" width="12.74" height="3.41" fill="#110e0d"/>
<rect x="243.39" y="272.19" width="12.74" height="3.41" fill="#110e0d"/>
<rect x="256.03" y="272.19" width="12.74" height="3.41" fill="#1f3159"/>
<rect x="268.67" y="272.19" width="12.74" height="3.41" fill="#110e0d"/>
<rect x="281.32" y="272.19" width="12.74" height="3.41" fill="#110e0d"/>
<rect x="293.96" y="272.19" width="12.74" height="3.41" fill="#110e0d"/>
<rect x="306.6" y="272.19" width="12.74" height="3.41" fill="#07080c"/>
<rect x="319.25" y="272.19" width="12.74" height="3.41" fill="#07080c"/>
<rect x="41.1" y="275.51" width="12.74" height="3.41" fill="#ce8c1b"/>
<rect x="53.74" y="275.51" width="12.74" height="3.41" fill="#1f3159"/>
<rect x="66.39" y="275.51" width="12.74" height="3.41" fill="#324e89"/>
<rect x="79.03" y="275.51" width="12.74" height="3.41" fill="#2f220f"/>
<rect x="91.67" y="275.51" width="12.74" height="3.41" fill="#110e0d"/>
<rect x="104.31" y="275.51" width="12.74" height="3.41" fill="#110e0d"/>
<rect x="116.96" y="275.51" width="12.74" height="3.41" fill="#110e0d"/>
<rect x="129.6" y="275.51" width="12.74" height="3.41" fill="#110e0d"/>
<rect x="142.24" y="275.51" width="12.74" height="3.41" fill="#1f3159"/>
<rect x="154.89" y="275.51" width="12.74" height="3.41" fill="#1f3159"/>
<rect x="167.53" y="275.51" width="12.74" height="3.41" fill="#865c16"/>
<rect x="180.17" y="275.51" width="12.74" height="3.41" fill="#1f3159"/>
<rect x="192.82" y="275.51" width="12.74" height="3.41" fill="#865c16"/>
<rect x="205.46" y="275.51" width="12.74" height="3.41" fill="#110e0d"/>
<rect x="218.1" y="275.51" width="12.74" height="3.41" fill="#110e0d"/>
<rect x="230.75" y="275.51" width="12.74" height="3.41" fill="#2f220f"/>
<rect x="243.39" y="275.51" width="12.74" height="3.41" fill="#4f3711"/>
<rect x="256.03" y="275.51" width="12.74" height="3.41" fill="#110e0d"/>
<rect x="268.67" y="275.51" width="12.74" height="3.41" fill="#2f220f"/>
<rect x="281.32" y="275.51" width="12.74" height="3.41" fill="#110e0d"/>
<rect x="293.96" y="275.51" width="12.74" height="3.41" fill="#110e0d"/>
<rect x="306.6" y="275.51" width="12.74" height="3.41" fill="#2f220f"/>
<rect x="319.25" y="275.51" width="12.74" height="3.41" fill="#2f220f"/>
<rect x="41.1" y="278.82" width="12.74" height="3.41" fill="#1f3159"/>
<rect x="53.74" y="278.82" width="12.74" height="3.41" fill="#263e73"/>
<rect x="66.39" y="278.82" width="12.74" height="3.41" fill="#4265a6"/>
<rect x="79.03" y="278.82" width="12.74" height="3.41" fill="#110e0d"/>
<rect x="91.67" y="278.82" width="12.74" height="3.41" fill="#110e0d"/>
<rect x="104.31" y="278.82" width="12.74" height="3.41" fill="#141f37"/>
<rect x="116.96" y="278.82" width="12.74" height="3.41" fill="#141f37"/>
<rect x="129.6" y="278.82" width="12.74" height="3.41" fill="#141f37"/>
<rect x="142.24" y="278.82" width="12.74" height="3.41" fill="#263e73"/>
<rect x="154.89" y="278.82" width="12.74" height="3.41" fill="#141f37"/>
<rect x="167.53" y="278.82" width="12.74" height="3.41" fill="#110e0d"/>
<rect x="180.17" y="278.82" width="12.74" height="3.41" fill="#110e0d"/>
<rect x="192.82" y="278.82" width="12.74" height="3.41" fill="#110e0d"/>
<rect x="205.46" y="278.82" width="12.74" height="3.41" fill="#110e0d"/>
<rect x="218.1" y="278.82" width="12.74" height="3.41" fill="#2f220f"/>
<rect x="230.75" y="278.82" width="12.74" height="3.41" fill="#2f220f"/>
<rect x="243.39" y="278.82" width="12.74" height="3.41" fill="#6b4a14"/>
<rect x="256.03" y="278.82" width="12.74" height="3.41" fill="#865c16"/>
<rect x="268.67" y="278.82" width="12.74" height="3.41" fill="#4f3711"/>
<rect x="281.32" y="278.82" width="12.74" height="3.41" fill="#4f3711"/>
<rect x="293.96" y="278.82" width="12.74" height="3.41" fill="#4f3711"/>
<rect x="306.6" y="278.82" width="12.74" height="3.41" fill="#865c16"/>
<rect x="319.25" y="278.82" width="12.74" height="3.41" fill="#6b4a14"/>
<rect x="41.1" y="282.13" width="12.74" height="3.41" fill="#324e89"/>
<rect x="53.74" y="282.13" width="12.74" height="3.41" fill="#263e73"/>
<rect x="66.39" y="282.13" width="12.74" height="3.41" fill="#4265a6"/>
<rect x="79.03" y="282.13" width="12.74" height="3.41" fill="#1f3159"/>
<rect x="91.67" y="282.13" width="12.74" height="3.41" fill="#141f37"/>
<rect x="104.31" y="282.13" width="12.74" height="3.41" fill="#141f37"/>
<rect x="116.96" y="282.13" width="12.74" height="3.41" fill="#1f3159"/>
<rect x="129.6" y="282.13" width="12.74" height="3.41" fill="#1f3159"/>
<rect x="142.24" y="282.13" width="12.74" height="3.41" fill="#1f3159"/>
<rect x="154.89" y="282.13" width="12.74" height="3.41" fill="#110e0d"/>
<rect x="167.53" y="282.13" width="12.74" height="3.41" fill="#2f220f"/>
<rect x="180.17" y="282.13" width="12.74" height="3.41" fill="#2f220f"/>
<rect x="192.82" y="282.13" width="12.74" height="3.41" fill="#6b4a14"/>
<rect x="205.46" y="282.13" width="12.74" height="3.41" fill="#2f220f"/>
<rect x="218.1" y="282.13" width="12.74" height="3.41" fill="#4f3711"/>
<rect x="230.75" y="282.13" width="12.74" height="3.41" fill="#2f220f"/>
<rect x="243.39" y="282.13" width="12.74" height="3.41" fill="#2f220f"/>
<rect x="256.03" y="282.13" width="12.74" height="3.41" fill="#2f220f"/>
<rect x="268.67" y="282.13" width="12.74" height="3.41" fill="#4f3711"/>
<rect x="281.32" y="282.13" width="12.74" height="3.41" fill="#4f3711"/>
<rect x="293.96" y="282.13" width="12.74" height="3.41" fill="#6b4a14"/>
<rect x="306.6" y="282.13" width="12.74" height="3.41" fill="#6b4a14"/>
<rect x="319.25" y="282.13" width="12.74" height="3.41" fill="#6b4a14"/>
<rect x="41.1" y="285.44" width="12.74" height="3.41" fill="#324e89"/>
<rect x="53.74" y="285.44" width="12.74" height="3.41" fill="#324e89"/>
<rect x="66.39" y="285.44" width="12.74" height="3.41" fill="#324e89"/>
<rect x="79.03" y="285.44" width="12.74" height="3.41" fill="#1f3159"/>
<rect x="91.67" y="285.44" width="12.74" height="3.41" fill="#141f37"/>
<rect x="104.31" y="285.44" width="12.74" height="3.41" fill="#141f37"/>
<rect x="116.96" y="285.44" width="12.74" height="3.41" fill="#141f37"/>
<rect x="129.6" y="285.44" width="12.74" height="3.41" fill="#141f37"/>
<rect x="142.24" y="285.44" width="12.74" height="3.41" fill="#110e0d"/>
<rect x="154.89" y="285.44" width="12.74" height="3.41" fill="#2f220f"/>
<rect x="167.53" y="285.44" width="12.74" height="3.41" fill="#2f220f"/>
<rect x="180.17" y="285.44" width="12.74" height="3.41" fill="#110e0d"/>
<rect x="192.82" y="285.44" width="12.74" height="3.41" fill="#4f3711"/>
<rect x="205.46" y="285.44" width="12.74" height="3.41" fill="#4f3711"/>
<rect x="218.1" y="285.44" width="12.74" height="3.41" fill="#4f3711"/>
<rect x="230.75" y="285.44" width="12.74" height="3.41" fill="#2f220f"/>
<rect x="243.39" y="285.44" width="12.74" height="3.41" fill="#4f3711"/>
<rect x="256.03" y="285.44" width="12.74" height="3.41" fill="#2f220f"/>
<rect x="268.67" y="285.44" width="12.74" height="3.41" fill="#6b4a14"/>
<rect x="281.32" y="285.44" width="12.74" height="3.41" fill="#4f3711"/>
<rect x="293.96" y="285.44" width="12.74" height="3.41" fill="#4f3711"/>
<rect x="306.6" y="285.44" width="12.74" height="3.41" fill="#6b4a14"/>
<rect x="319.25" y="285.44" width="12.74" height="3.41" fill="#6b4a14"/>
<rect x="41.1" y="288.75" width="12.74" height="3.41" fill="#263e73"/>
<rect x="53.74" y="288.75" width="12.74" height="3.41" fill="#4265a6"/>
<rect x="66.39" y="288.75" width="12.74" height="3.41" fill="#07080c"/>
<rect x="79.03" y="288.75" width="12.74" height="3.41" fill="#1f3159"/>
<rect x="91.67" y="288.75" width="12.74" height="3.41" fill="#141f37"/>
<rect x="104.31" y="288.75" width="12.74" height="3.41" fill="#110e0d"/>
<rect x="116.96" y="288.75" width="12.74" height="3.41" fill="#6b4a14"/>
<rect x="129.6" y="288.75" width="12.74" height="3.41" fill="#110e0d"/>
<rect x="142.24" y="288.75" width="12.74" height="3.41" fill="#263e73"/>
<rect x="154.89" y="288.75" width="12.74" height="3.41" fill="#110e0d"/>
<rect x="167.53" y="288.75" width="12.74" height="3.41" fill="#2f220f"/>
<rect x="180.17" y="288.75" width="12.74" height="3.41" fill="#110e0d"/>
<rect x="192.82" y="288.75" width="12.74" height="3.41" fill="#110e0d"/>
<rect x="205.46" y="288.75" width="12.74" height="3.41" fill="#4f3711"/>
<rect x="218.1" y="288.75" width="12.74" height="3.41" fill="#4f3711"/>
<rect x="230.75" y="288.75" width="12.74" height="3.41" fill="#2f220f"/>
<rect x="243.39" y="288.75" width="12.74" height="3.41" fill="#4f3711"/>
<rect x="256.03" y="288.75" width="12.74" height="3.41" fill="#07080c"/>
<rect x="268.67" y="288.75" width="12.74" height="3.41" fill="#6b4a14"/>
<rect x="281.32" y="288.75" width="12.74" height="3.41" fill="#2f220f"/>
<rect x="293.96" y="288.75" width="12.74" height="3.41" fill="#2f220f"/>
<rect x="306.6" y="288.75" width="12.74" height="3.41" fill="#6b4a14"/>
<rect x="319.25" y="288.75" width="12.74" height="3.41" fill="#4f3711"/>
<rect x="41.1" y="292.06" width="12.74" height="3.41" fill="#07080c"/>
<rect x="53.74" y="292.06" width="12.74" height="3.41" fill="#4265a6"/>
<rect x="66.39" y="292.06" width="12.74" height="3.41" fill="#07080c"/>
<rect x="79.03" y="292.06" width="12.74" height="3.41" fill="#1f3159"/>
<rect x="91.67" y="292.06" width="12.74" height="3.41" fill="#110e0d"/>
<rect x="104.31" y="292.06" width="12.74" height="3.41" fill="#110e0d"/>
<rect x="116.96" y="292.06" width="12.74" height="3.41" fill="#324e89"/>
<rect x="129.6" y="292.06" width="12.74" height="3.41" fill="#1f3159"/>
<rect x="142.24" y="292.06" width="12.74" height="3.41" fill="#1f3159"/>
<rect x="154.89" y="292.06" width="12.74" height="3.41" fill="#110e0d"/>
<rect x="167.53" y="292.06" width="12.74" height="3.41" fill="#6b4a14"/>
<rect x="180.17" y="292.06" width="12.74" height="3.41" fill="#110e0d"/>
<rect x="192.82" y="292.06" width="12.74" height="3.41" fill="#6b4a14"/>
<rect x="205.46" y="292.06" width="12.74" height="3.41" fill="#4f3711"/>
<rect x="218.1" y="292.06" width="12.74" height="3.41" fill="#2f220f"/>
<rect x="230.75" y="292.06" width="12.74" height="3.41" fill="#2f220f"/>
<rect x="243.39" y="292.06" width="12.74" height="3.41" fill="#4f3711"/>
<rect x="256.03" y="292.06" width="12.74" height="3.41" fill="#07080c"/>
<rect x="268.67" y="292.06" width="12.74" height="3.41" fill="#6b4a14"/>
<rect x="281.32" y="292.06" width="12.74" height="3.41" fill="#2f220f"/>
<rect x="293.96" y="292.06" width="12.74" height="3.41" fill="#2f220f"/>
<rect x="306.6" y="292.06" width="12.74" height="3.41" fill="#4f3711"/>
<rect x="319.25" y="292.06" width="12.74" height="3.41" fill="#4f3711"/>
<rect x="41.1" y="295.37" width="12.74" height="3.41" fill="#07080c"/>
<rect x="53.74" y="295.37" width="12.74" height="3.41" fill="#263e73"/>
<rect x="66.39" y="295.37" width="12.74" height="3.41" fill="#263e73"/>
<rect x="79.03" y="295.37" width="12.74" height="3.41" fill="#1f3159"/>
<rect x="91.67" y="295.37" width="12.74" height="3.41" fill="#110e0d"/>
<rect x="104.31" y="295.37" width="12.74" height="3.41" fill="#110e0d"/>
<rect x="116.96" y="295.37" width="12.74" height="3.41" fill="#324e89"/>
<rect x="129.6" y="295.37" width="12.74" height="3.41" fill="#263e73"/>
<rect x="142.24" y="295.37" width="12.74" height="3.41" fill="#141f37"/>
<rect x="154.89" y="295.37" width="12.74" height="3.41" fill="#110e0d"/>
<rect x="167.53" y="295.37" width="12.74" height="3.41" fill="#6b4a14"/>
<rect x="180.17" y="295.37" width="12.74" height="3.41" fill="#110e0d"/>
<rect x="192.82" y="295.37" width="12.74" height="3.41" fill="#110e0d"/>
<rect x="205.46" y="295.37" width="12.74" height="3.41" fill="#2f220f"/>
<rect x="218.1" y="295.37" width="12.74" height="3.41" fill="#2f220f"/>
<rect x="230.75" y="295.37" width="12.74" height="3.41" fill="#4f3711"/>
<rect x="243.39" y="295.37" width="12.74" height="3.41" fill="#2f220f"/>
<rect x="256.03" y="295.37" width="12.74" height="3.41" fill="#4f3711"/>
<rect x="268.67" y="295.37" width="12.74" height="3.41" fill="#6b4a14"/>
<rect x="281.32" y="295.37" width="12.74" height="3.41" fill="#4f3711"/>
<rect x="293.96" y="295.37" width="12.74" height="3.41" fill="#4f3711"/>
<rect x="306.6" y="295.37" width="12.74" height="3.41" fill="#2f220f"/>
<rect x="319.25" y="295.37" width="12.74" height="3.41" fill="#2f220f"/>
<rect x="41.1" y="298.69" width="12.74" height="3.41" fill="#07080c"/>
<rect x="53.74" y="298.69" width="12.74" height="3.41" fill="#1f3159"/>
<rect x="66.39" y="298.69" width="12.74" height="3.41" fill="#263e73"/>
<rect x="79.03" y="298.69" width="12.74" height="3.41" fill="#1f3159"/>
<rect x="91.67" y="298.69" width="12.74" height="3.41" fill="#110e0d"/>
<rect x="104.31" y="298.69" width="12.74" height="3.41" fill="#2f220f"/>
<rect x="116.96" y="298.69" width="12.74" height="3.41" fill="#324e89"/>
<rect x="129.6" y="298.69" width="12.74" height="3.41" fill="#4f3711"/>
<rect x="142.24" y="298.69" width="12.74" height="3.41" fill="#ce8c1b"/>
<rect x="154.89" y="298.69" width="12.74" height="3.41" fill="#110e0d"/>
<rect x="167.53" y="298.69" width="12.74" height="3.41" fill="#4f3711"/>
<rect x="180.17" y="298.69" width="12.74" height="3.41" fill="#a67118"/>
<rect x="192.82" y="298.69" width="12.74" height="3.41" fill="#a67118"/>
<rect x="205.46" y="298.69" width="12.74" height="3.41" fill="#110e0d"/>
<rect x="218.1" y="298.69" width="12.74" height="3.41" fill="#110e0d"/>
<rect x="230.75" y="298.69" width="12.74" height="3.41" fill="#2f220f"/>
<rect x="243.39" y="298.69" width="12.74" height="3.41" fill="#141f37"/>
<rect x="256.03" y="298.69" width="12.74" height="3.41" fill="#4f3711"/>
<rect x="268.67" y="298.69" width="12.74" height="3.41" fill="#1f3159"/>
<rect x="281.32" y="298.69" width="12.74" height="3.41" fill="#07080c"/>
<rect x="293.96" y="298.69" width="12.74" height="3.41" fill="#110e0d"/>
<rect x="306.6" y="298.69" width="12.74" height="3.41" fill="#110e0d"/>
<rect x="319.25" y="298.69" width="12.74" height="3.41" fill="#141f37"/>
<rect x="41.1" y="302" width="12.74" height="3.41" fill="#263e73"/>
<rect x="53.74" y="302" width="12.74" height="3.41" fill="#1f3159"/>
<rect x="66.39" y="302" width="12.74" height="3.41" fill="#1f3159"/>
<rect x="79.03" y="302" width="12.74" height="3.41" fill="#1f3159"/>
<rect x="91.67" y="302" width="12.74" height="3.41" fill="#110e0d"/>
<rect x="104.31" y="302" width="12.74" height="3.41" fill="#110e0d"/>
<rect x="116.96" y="302" width="12.74" height="3.41" fill="#1f3159"/>
<rect x="129.6" y="302" width="12.74" height="3.41" fill="#141f37"/>
<rect x="142.24" y="302" width="12.74" height="3.41" fill="#263e73"/>
<rect x="154.89" y="302" width="12.74" height="3.41" fill="#110e0d"/>
<rect x="167.53" y="302" width="12.74" height="3.41" fill="#2f220f"/>
<rect x="180.17" y="302" width="12.74" height="3.41" fill="#110e0d"/>
<rect x="192.82" y="302" width="12.74" height="3.41" fill="#110e0d"/>
<rect x="205.46" y="302" width="12.74" height="3.41" fill="#2f220f"/>
<rect x="218.1" y="302" width="12.74" height="3.41" fill="#4f3711"/>
<rect x="230.75" y="302" width="12.74" height="3.41" fill="#2f220f"/>
<rect x="243.39" y="302" width="12.74" height="3.41" fill="#865c16"/>
<rect x="256.03" y="302" width="12.74" height="3.41" fill="#4f3711"/>
<rect x="268.67" y="302" width="12.74" height="3.41" fill="#6b4a14"/>
<rect x="281.32" y="302" width="12.74" height="3.41" fill="#4f3711"/>
<rect x="293.96" y="302" width="12.74" height="3.41" fill="#6b4a14"/>
<rect x="306.6" y="302" width="12.74" height="3.41" fill="#865c16"/>
<rect x="319.25" y="302" width="12.74" height="3.41" fill="#6b4a14"/>
<rect x="41.1" y="305.31" width="12.74" height="3.41" fill="#324e89"/>
<rect x="53.74" y="305.31" width="12.74" height="3.41" fill="#1f3159"/>
<rect x="66.39" y="305.31" width="12.74" height="3.41" fill="#263e73"/>
<rect x="79.03" y="305.31" width="12.74" height="3.41" fill="#1f3159"/>
<rect x="91.67" y="305.31" width="12.74" height="3.41" fill="#110e0d"/>
<rect x="104.31" y="305.31" width="12.74" height="3.41" fill="#07080c"/>
<rect x="116.96" y="305.31" width="12.74" height="3.41" fill="#110e0d"/>
<rect x="129.6" y="305.31" width="12.74" height="3.41" fill="#1f3159"/>
<rect x="142.24" y="305.31" width="12.74" height="3.41" fill="#324e89"/>
<rect x="154.89" y="305.31" width="12.74" height="3.41" fill="#2f220f"/>
<rect x="167.53" y="305.31" width="12.74" height="3.41" fill="#4f3711"/>
<rect x="180.17" y="305.31" width="12.74" height="3.41" fill="#07080c"/>
<rect x="192.82" y="305.31" width="12.74" height="3.41" fill="#2f220f"/>
<rect x="205.46" y="305.31" width="12.74" height="3.41" fill="#6b4a14"/>
<rect x="218.1" y="305.31" width="12.74" height="3.41" fill="#6b4a14"/>
<rect x="230.75" y="305.31" width="12.74" height="3.41" fill="#2f220f"/>
<rect x="243.39" y="305.31" width="12.74" height="3.41" fill="#4f3711"/>
<rect x="256.03" y="305.31" width="12.74" height="3.41" fill="#2f220f"/>
<rect x="268.67" y="305.31" width="12.74" height="3.41" fill="#4f3711"/>
<rect x="281.32" y="305.31" width="12.74" height="3.41" fill="#4f3711"/>
<rect x="293.96" y="305.31" width="12.74" height="3.41" fill="#6b4a14"/>
<rect x="306.6" y="305.31" width="12.74" height="3.41" fill="#865c16"/>
<rect x="319.25" y="305.31" width="12.74" height="3.41" fill="#865c16"/>
<rect x="41.1" y="308.62" width="12.74" height="3.41" fill="#324e89"/>
<rect x="53.74" y="308.62" width="12.74" height="3.41" fill="#1f3159"/>
<rect x="66.39" y="308.62" width="12.74" height="3.41" fill="#141f37"/>
<rect x="79.03" y="308.62" width="12.74" height="3.41" fill="#1f3159"/>
<rect x="91.67" y="308.62" width="12.74" height="3.41" fill="#110e0d"/>
<rect x="104.31" y="308.62" width="12.74" height="3.41" fill="#2f220f"/>
<rect x="116.96" y="308.62" width="12.74" height="3.41" fill="#07080c"/>
<rect x="129.6" y="308.62" width="12.74" height="3.41" fill="#1f3159"/>
<rect x="142.24" y="308.62" width="12.74" height="3.41" fill="#324e89"/>
<rect x="154.89" y="308.62" width="12.74" height="3.41" fill="#110e0d"/>
<rect x="167.53" y="308.62" width="12.74" height="3.41" fill="#2f220f"/>
<rect x="180.17" y="308.62" width="12.74" height="3.41" fill="#07080c"/>
<rect x="192.82" y="308.62" width="12.74" height="3.41" fill="#110e0d"/>
<rect x="205.46" y="308.62" width="12.74" height="3.41" fill="#6b4a14"/>
<rect x="218.1" y="308.62" width="12.74" height="3.41" fill="#6b4a14"/>
<rect x="230.75" y="308.62" width="12.74" height="3.41" fill="#4f3711"/>
<rect x="243.39" y="308.62" width="12.74" height="3.41" fill="#4f3711"/>
<rect x="256.03" y="308.62" width="12.74" height="3.41" fill="#07080c"/>
<rect x="268.67" y="308.62" width="12.74" height="3.41" fill="#2f220f"/>
<rect x="281.32" y="308.62" width="12.74" height="3.41" fill="#2f220f"/>
<rect x="293.96" y="308.62" width="12.74" height="3.41" fill="#6b4a14"/>
<rect x="306.6" y="308.62" width="12.74" height="3.41" fill="#865c16"/>
<rect x="319.25" y="308.62" width="12.74" height="3.41" fill="#6b4a14"/>
<rect x="41.1" y="311.93" width="12.74" height="3.41" fill="#324e89"/>
<rect x="53.74" y="311.93" width="12.74" height="3.41" fill="#1f3159"/>
<rect x="66.39" y="311.93" width="12.74" height="3.41" fill="#1f3159"/>
<rect x="79.03" y="311.93" width="12.74" height="3.41" fill="#1f3159"/>
<rect x="91.67" y="311.93" width="12.74" height="3.41" fill="#110e0d"/>
<rect x="104.31" y="311.93" width="12.74" height="3.41" fill="#2f220f"/>
<rect x="116.96" y="311.93" width="12.74" height="3.41" fill="#110e0d"/>
<rect x="129.6" y="311.93" width="12.74" height="3.41" fill="#263e73"/>
<rect x="142.24" y="311.93" width="12.74" height="3.41" fill="#324e89"/>
<rect x="154.89" y="311.93" width="12.74" height="3.41" fill="#110e0d"/>
<rect x="167.53" y="311.93" width="12.74" height="3.41" fill="#110e0d"/>
<rect x="180.17" y="311.93" width="12.74" height="3.41" fill="#110e0d"/>
<rect x="192.82" y="311.93" width="12.74" height="3.41" fill="#110e0d"/>
<rect x="205.46" y="311.93" width="12.74" height="3.41" fill="#6b4a14"/>
<rect x="218.1" y="311.93" width="12.74" height="3.41" fill="#865c16"/>
<rect x="230.75" y="311.93" width="12.74" height="3.41" fill="#2f220f"/>
<rect x="243.39" y="311.93" width="12.74" height="3.41" fill="#4f3711"/>
<rect x="256.03" y="311.93" width="12.74" height="3.41" fill="#07080c"/>
<rect x="268.67" y="311.93" width="12.74" height="3.41" fill="#4f3711"/>
<rect x="281.32" y="311.93" width="12.74" height="3.41" fill="#4f3711"/>
<rect x="293.96" y="311.93" width="12.74" height="3.41" fill="#6b4a14"/>
<rect x="306.6" y="311.93" width="12.74" height="3.41" fill="#865c16"/>
<rect x="319.25" y="311.93" width="12.74" height="3.41" fill="#6b4a14"/>
<rect x="41.1" y="315.24" width="12.74" height="3.41" fill="#263e73"/>
<rect x="53.74" y="315.24" width="12.74" height="3.41" fill="#1f3159"/>
<rect x="66.39" y="315.24" width="12.74" height="3.41" fill="#263e73"/>
<rect x="79.03" y="315.24" width="12.74" height="3.41" fill="#263e73"/>
<rect x="91.67" y="315.24" width="12.74" height="3.41" fill="#110e0d"/>
<rect x="104.31" y="315.24" width="12.74" height="3.41" fill="#110e0d"/>
<rect x="116.96" y="315.24" width="12.74" height="3.41" fill="#110e0d"/>
<rect x="129.6" y="315.24" width="12.74" height="3.41" fill="#110e0d"/>
<rect x="142.24" y="315.24" width="12.74" height="3.41" fill="#324e89"/>
<rect x="154.89" y="315.24" width="12.74" height="3.41" fill="#110e0d"/>
<rect x="167.53" y="315.24" width="12.74" height="3.41" fill="#4f3711"/>
<rect x="180.17" y="315.24" width="12.74" height="3.41" fill="#110e0d"/>
<rect x="192.82" y="315.24" width="12.74" height="3.41" fill="#110e0d"/>
<rect x="205.46" y="315.24" width="12.74" height="3.41" fill="#6b4a14"/>
<rect x="218.1" y="315.24" width="12.74" height="3.41" fill="#6b4a14"/>
<rect x="230.75" y="315.24" width="12.74" height="3.41" fill="#2f220f"/>
<rect x="243.39" y="315.24" width="12.74" height="3.41" fill="#4f3711"/>
<rect x="256.03" y="315.24" width="12.74" height="3.41" fill="#2f220f"/>
<rect x="268.67" y="315.24" width="12.74" height="3.41" fill="#4f3711"/>
<rect x="281.32" y="315.24" width="12.74" height="3.41" fill="#4f3711"/>
<rect x="293.96" y="315.24" width="12.74" height="3.41" fill="#6b4a14"/>
<rect x="306.6" y="315.24" width="12.74" height="3.41" fill="#6b4a14"/>
<rect x="319.25" y="315.24" width="12.74" height="3.41" fill="#6b4a14"/>
<rect x="41.1" y="318.55" width="12.74" height="3.41" fill="#6491df"/>
<rect x="53.74" y="318.55" width="12.74" height="3.41" fill="#1f3159"/>
<rect x="66.39" y="318.55" width="12.74" height="3.41" fill="#1f3159"/>
<rect x="79.03" y="318.55" width="12.74" height="3.41" fill="#263e73"/>
<rect x="91.67" y="318.55" width="12.74" height="3.41" fill="#110e0d"/>
<rect x="104.31" y="318.55" width="12.74" height="3.41" fill="#110e0d"/>
<rect x="116.96" y="318.55" width="12.74" height="3.41" fill="#110e0d"/>
<rect x="129.6" y="318.55" width="12.74" height="3.41" fill="#263e73"/>
<rect x="142.24" y="318.55" width="12.74" height="3.41" fill="#324e89"/>
<rect x="154.89" y="318.55" width="12.74" height="3.41" fill="#110e0d"/>
<rect x="167.53" y="318.55" width="12.74" height="3.41" fill="#4f3711"/>
<rect x="180.17" y="318.55" width="12.74" height="3.41" fill="#110e0d"/>
<rect x="192.82" y="318.55" width="12.74" height="3.41" fill="#110e0d"/>
<rect x="205.46" y="318.55" width="12.74" height="3.41" fill="#6b4a14"/>
<rect x="218.1" y="318.55" width="12.74" height="3.41" fill="#6b4a14"/>
<rect x="230.75" y="318.55" width="12.74" height="3.41" fill="#110e0d"/>
<rect x="243.39" y="318.55" width="12.74" height="3.41" fill="#2f220f"/>
<rect x="256.03" y="318.55" width="12.74" height="3.41" fill="#2f220f"/>
<rect x="268.67" y="318.55" width="12.74" height="3.41" fill="#2f220f"/>
<rect x="281.32" y="318.55" width="12.74" height="3.41" fill="#110e0d"/>
<rect x="293.96" y="318.55" width="12.74" height="3.41" fill="#2f220f"/>
<rect x="306.6" y="318.55" width="12.74" height="3.41" fill="#4f3711"/>
<rect x="319.25" y="318.55" width="12.74" height="3.41" fill="#4f3711"/>
<rect x="41.1" y="321.87" width="12.74" height="3.41" fill="#4265a6"/>
<rect x="53.74" y="321.87" width="12.74" height="3.41" fill="#141f37"/>
<rect x="66.39" y="321.87" width="12.74" height="3.41" fill="#07080c"/>
<rect x="79.03" y="321.87" width="12.74" height="3.41" fill="#263e73"/>
<rect x="91.67" y="321.87" width="12.74" height="3.41" fill="#110e0d"/>
<rect x="104.31" y="321.87" width="12.74" height="3.41" fill="#4f3711"/>
<rect x="116.96" y="321.87" width="12.74" height="3.41" fill="#2f220f"/>
<rect x="129.6" y="321.87" width="12.74" height="3.41" fill="#263e73"/>
<rect x="142.24" y="321.87" width="12.74" height="3.41" fill="#263e73"/>
<rect x="154.89" y="321.87" width="12.74" height="3.41" fill="#4f3711"/>
<rect x="167.53" y="321.87" width="12.74" height="3.41" fill="#2f220f"/>
<rect x="180.17" y="321.87" width="12.74" height="3.41" fill="#110e0d"/>
<rect x="192.82" y="321.87" width="12.74" height="3.41" fill="#110e0d"/>
<rect x="205.46" y="321.87" width="12.74" height="3.41" fill="#6b4a14"/>
<rect x="218.1" y="321.87" width="12.74" height="3.41" fill="#865c16"/>
<rect x="230.75" y="321.87" width="12.74" height="3.41" fill="#110e0d"/>
<rect x="243.39" y="321.87" width="12.74" height="3.41" fill="#07080c"/>
<rect x="256.03" y="321.87" width="12.74" height="3.41" fill="#110e0d"/>
<rect x="268.67" y="321.87" width="12.74" height="3.41" fill="#110e0d"/>
<rect x="281.32" y="321.87" width="12.74" height="3.41" fill="#2f220f"/>
<rect x="293.96" y="321.87" width="12.74" height="3.41" fill="#07080c"/>
<rect x="306.6" y="321.87" width="12.74" height="3.41" fill="#a67118"/>
<rect x="319.25" y="321.87" width="12.74" height="3.41" fill="#2f220f"/>
<rect x="41.1" y="325.18" width="12.74" height="3.41" fill="#07080c"/>
<rect x="53.74" y="325.18" width="12.74" height="3.41" fill="#263e73"/>
<rect x="66.39" y="325.18" width="12.74" height="3.41" fill="#263e73"/>
<rect x="79.03" y="325.18" width="12.74" height="3.41" fill="#263e73"/>
<rect x="91.67" y="325.18" width="12.74" height="3.41" fill="#110e0d"/>
<rect x="104.31" y="325.18" width="12.74" height="3.41" fill="#110e0d"/>
<rect x="116.96" y="325.18" width="12.74" height="3.41" fill="#110e0d"/>
<rect x="129.6" y="325.18" width="12.74" height="3.41" fill="#1f3159"/>
<rect x="142.24" y="325.18" width="12.74" height="3.41" fill="#263e73"/>
<rect x="154.89" y="325.18" width="12.74" height="3.41" fill="#110e0d"/>
<rect x="167.53" y="325.18" width="12.74" height="3.41" fill="#1f3159"/>
<rect x="180.17" y="325.18" width="12.74" height="3.41" fill="#141f37"/>
<rect x="192.82" y="325.18" width="12.74" height="3.41" fill="#110e0d"/>
<rect x="205.46" y="325.18" width="12.74" height="3.41" fill="#4f3711"/>
<rect x="218.1" y="325.18" width="12.74" height="3.41" fill="#2f220f"/>
<rect x="230.75" y="325.18" width="12.74" height="3.41" fill="#1f3159"/>
<rect x="243.39" y="325.18" width="12.74" height="3.41" fill="#6b4a14"/>
<rect x="256.03" y="325.18" width="12.74" height="3.41" fill="#6b4a14"/>
<rect x="268.67" y="325.18" width="12.74" height="3.41" fill="#a67118"/>
<rect x="281.32" y="325.18" width="12.74" height="3.41" fill="#2f220f"/>
<rect x="293.96" y="325.18" width="12.74" height="3.41" fill="#110e0d"/>
<rect x="306.6" y="325.18" width="12.74" height="3.41" fill="#2f220f"/>
<rect x="319.25" y="325.18" width="12.74" height="3.41" fill="#4f3711"/>
<rect x="41.1" y="328.49" width="12.74" height="3.41" fill="#07080c"/>
<rect x="53.74" y="328.49" width="12.74" height="3.41" fill="#263e73"/>
<rect x="66.39" y="328.49" width="12.74" height="3.41" fill="#263e73"/>
<rect x="79.03" y="328.49" width="12.74" height="3.41" fill="#324e89"/>
<rect x="91.67" y="328.49" width="12.74" height="3.41" fill="#110e0d"/>
<rect x="104.31" y="328.49" width="12.74" height="3.41" fill="#110e0d"/>
<rect x="116.96" y="328.49" width="12.74" height="3.41" fill="#110e0d"/>
<rect x="129.6" y="328.49" width="12.74" height="3.41" fill="#141f37"/>
<rect x="142.24" y="328.49" width="12.74" height="3.41" fill="#263e73"/>
<rect x="154.89" y="328.49" width="12.74" height="3.41" fill="#4f3711"/>
<rect x="167.53" y="328.49" width="12.74" height="3.41" fill="#1f3159"/>
<rect x="180.17" y="328.49" width="12.74" height="3.41" fill="#110e0d"/>
<rect x="192.82" y="328.49" width="12.74" height="3.41" fill="#110e0d"/>
<rect x="205.46" y="328.49" width="12.74" height="3.41" fill="#4f3711"/>
<rect x="218.1" y="328.49" width="12.74" height="3.41" fill="#2f220f"/>
<rect x="230.75" y="328.49" width="12.74" height="3.41" fill="#141f37"/>
<rect x="243.39" y="328.49" width="12.74" height="3.41" fill="#4f3711"/>
<rect x="256.03" y="328.49" width="12.74" height="3.41" fill="#4f3711"/>
<rect x="268.67" y="328.49" width="12.74" height="3.41" fill="#a67118"/>
<rect x="281.32" y="328.49" width="12.74" height="3.41" fill="#4f3711"/>
<rect x="293.96" y="328.49" width="12.74" height="3.41" fill="#110e0d"/>
<rect x="306.6" y="328.49" width="12.74" height="3.41" fill="#110e0d"/>
<rect x="319.25" y="328.49" width="12.74" height="3.41" fill="#4f3711"/>
</g>
<text transform="translate(335.3 103.06) rotate(0.03)" font-size="3.95" font-style="italic" fill="#2a2a2a" stroke="#2a2a2a" stroke-width="0.1">CXCL9</text>
<text transform="translate(335.3 106.37) rotate(0.03)" font-size="3.95" font-style="italic" fill="#2a2a2a" stroke="#2a2a2a" stroke-width="0.1">CD3E</text>
<text transform="translate(335.3 109.68) rotate(0.03)" font-size="3.95" font-style="italic" fill="#2a2a2a" stroke="#2a2a2a" stroke-width="0.1">PTPRC</text>
<text transform="translate(335.3 112.99) rotate(0.03)" font-size="3.95" font-style="italic" fill="#2a2a2a" stroke="#2a2a2a" stroke-width="0.1">CD3D</text>
<text transform="translate(335.3 116.3) rotate(0.03)" font-size="3.95" font-style="italic" fill="#2a2a2a" stroke="#2a2a2a" stroke-width="0.1">IRF4</text>
<text transform="translate(335.3 119.61) rotate(0.03)" font-size="3.95" font-style="italic" fill="#2a2a2a" stroke="#2a2a2a" stroke-width="0.1">TNFRSF14</text>
<text transform="translate(335.3 122.92) rotate(0.03)" font-size="3.95" font-style="italic" fill="#2a2a2a" stroke="#2a2a2a" stroke-width="0.1">STAT1</text>
<text transform="translate(335.3 126.24) rotate(0.03)" font-size="3.95" font-style="italic" fill="#2a2a2a" stroke="#2a2a2a" stroke-width="0.1">IL12RB1</text>
<text transform="translate(335.3 129.55) rotate(0.03)" font-size="3.95" font-style="italic" fill="#2a2a2a" stroke="#2a2a2a" stroke-width="0.1">CXCL10</text>
<text transform="translate(335.3 132.86) rotate(0.03)" font-size="3.95" font-style="italic" fill="#2a2a2a" stroke="#2a2a2a" stroke-width="0.1">CD27</text>
<text transform="translate(335.3 136.17) rotate(0.03)" font-size="3.95" font-style="italic" fill="#2a2a2a" stroke="#2a2a2a" stroke-width="0.1">CD5</text>
<text transform="translate(335.3 139.48) rotate(0.03)" font-size="3.95" font-style="italic" fill="#2a2a2a" stroke="#2a2a2a" stroke-width="0.1">CD38</text>
<text transform="translate(335.3 142.79) rotate(0.03)" font-size="3.95" font-style="italic" fill="#2a2a2a" stroke="#2a2a2a" stroke-width="0.1">CD3G</text>
<text transform="translate(335.3 146.1) rotate(0.03)" font-size="3.95" font-style="italic" fill="#2a2a2a" stroke="#2a2a2a" stroke-width="0.1">IRF1</text>
<text transform="translate(335.3 149.42) rotate(0.03)" font-size="3.95" font-style="italic" fill="#2a2a2a" stroke="#2a2a2a" stroke-width="0.1">LTA</text>
<text transform="translate(335.3 152.73) rotate(0.03)" font-size="3.95" font-style="italic" fill="#2a2a2a" stroke="#2a2a2a" stroke-width="0.1">TAP1</text>
<text transform="translate(335.3 156.04) rotate(0.03)" font-size="3.95" font-style="italic" fill="#2a2a2a" stroke="#2a2a2a" stroke-width="0.1">LCK</text>
<text transform="translate(335.3 159.35) rotate(0.03)" font-size="3.95" font-style="italic" fill="#2a2a2a" stroke="#2a2a2a" stroke-width="0.1">CXCR3</text>
<text transform="translate(335.3 162.66) rotate(0.03)" font-size="3.95" font-style="italic" fill="#2a2a2a" stroke="#2a2a2a" stroke-width="0.1">CXCR6</text>
<text transform="translate(335.3 165.97) rotate(0.03)" font-size="3.95" font-style="italic" fill="#2a2a2a" stroke="#2a2a2a" stroke-width="0.1">CD247</text>
<text transform="translate(335.3 169.28) rotate(0.03)" font-size="3.95" font-style="italic" fill="#2a2a2a" stroke="#2a2a2a" stroke-width="0.1">CXCR4</text>
<text transform="translate(335.3 172.6) rotate(0.03)" font-size="3.95" font-style="italic" fill="#2a2a2a" stroke="#2a2a2a" stroke-width="0.1">CCL5</text>
<text transform="translate(335.3 175.91) rotate(0.03)" font-size="3.95" font-style="italic" fill="#2a2a2a" stroke="#2a2a2a" stroke-width="0.1">CD2</text>
<text transform="translate(335.3 179.22) rotate(0.03)" font-size="3.95" font-style="italic" fill="#2a2a2a" stroke="#2a2a2a" stroke-width="0.1">CD80</text>
<text transform="translate(335.3 182.53) rotate(0.03)" font-size="3.95" font-style="italic" fill="#2a2a2a" stroke="#2a2a2a" stroke-width="0.1">STAT4</text>
<text transform="translate(335.3 185.84) rotate(0.03)" font-size="3.95" font-style="italic" fill="#2a2a2a" stroke="#2a2a2a" stroke-width="0.1">CXCL11</text>
<text transform="translate(335.3 189.15) rotate(0.03)" font-size="3.95" font-style="italic" fill="#2a2a2a" stroke="#2a2a2a" stroke-width="0.1">IRF8</text>
<text transform="translate(335.3 192.46) rotate(0.03)" font-size="3.95" font-style="italic" fill="#2a2a2a" stroke="#2a2a2a" stroke-width="0.1">SELL</text>
<text transform="translate(335.3 195.78) rotate(0.03)" font-size="3.95" font-style="italic" fill="#2a2a2a" stroke="#2a2a2a" stroke-width="0.1">LAG3</text>
<text transform="translate(335.3 199.09) rotate(0.03)" font-size="3.95" font-style="italic" fill="#2a2a2a" stroke="#2a2a2a" stroke-width="0.1">CD4</text>
<text transform="translate(335.3 202.4) rotate(0.03)" font-size="3.95" font-style="italic" fill="#2a2a2a" stroke="#2a2a2a" stroke-width="0.1">CD86</text>
<text transform="translate(335.3 205.71) rotate(0.03)" font-size="3.95" font-style="italic" fill="#2a2a2a" stroke="#2a2a2a" stroke-width="0.1">IL2RB</text>
<text transform="translate(335.3 209.02) rotate(0.03)" font-size="3.95" font-style="italic" fill="#2a2a2a" stroke="#2a2a2a" stroke-width="0.1">IL18R1</text>
<text transform="translate(335.3 212.33) rotate(0.03)" font-size="3.95" font-style="italic" fill="#2a2a2a" stroke="#2a2a2a" stroke-width="0.1">IL7R</text>
<text transform="translate(335.3 215.64) rotate(0.03)" font-size="3.95" font-style="italic" fill="#2a2a2a" stroke="#2a2a2a" stroke-width="0.1">IL12RB2</text>
<text transform="translate(335.3 218.96) rotate(0.03)" font-size="3.95" font-style="italic" fill="#2a2a2a" stroke="#2a2a2a" stroke-width="0.1">CD28</text>
<text transform="translate(335.3 222.27) rotate(0.03)" font-size="3.95" font-style="italic" fill="#2a2a2a" stroke="#2a2a2a" stroke-width="0.1">CD8A</text>
<text transform="translate(335.3 225.58) rotate(0.03)" font-size="3.95" font-style="italic" fill="#2a2a2a" stroke="#2a2a2a" stroke-width="0.1">IL2RA</text>
<text transform="translate(335.3 228.89) rotate(0.03)" font-size="3.95" font-style="italic" fill="#2a2a2a" stroke="#2a2a2a" stroke-width="0.1">IL18RAP</text>
<text transform="translate(335.3 232.2) rotate(0.03)" font-size="3.95" font-style="italic" fill="#2a2a2a" stroke="#2a2a2a" stroke-width="0.1">CCR4</text>
<text transform="translate(335.3 235.51) rotate(0.03)" font-size="3.95" font-style="italic" fill="#2a2a2a" stroke="#2a2a2a" stroke-width="0.1">IL6</text>
<text transform="translate(335.3 238.82) rotate(0.03)" font-size="3.95" font-style="italic" fill="#2a2a2a" stroke="#2a2a2a" stroke-width="0.1">IL5</text>
<text transform="translate(335.3 242.14) rotate(0.03)" font-size="3.95" font-style="italic" fill="#2a2a2a" stroke="#2a2a2a" stroke-width="0.1">IL1A</text>
<text transform="translate(335.3 245.45) rotate(0.03)" font-size="3.95" font-style="italic" fill="#2a2a2a" stroke="#2a2a2a" stroke-width="0.1">IL2RG</text>
<text transform="translate(335.3 248.76) rotate(0.03)" font-size="3.95" font-style="italic" fill="#2a2a2a" stroke="#2a2a2a" stroke-width="0.1">IL2</text>
<text transform="translate(335.3 252.07) rotate(0.03)" font-size="3.95" font-style="italic" fill="#2a2a2a" stroke="#2a2a2a" stroke-width="0.1">IL4</text>
<text transform="translate(335.3 255.38) rotate(0.03)" font-size="3.95" font-style="italic" fill="#2a2a2a" stroke="#2a2a2a" stroke-width="0.1">IL13</text>
<text transform="translate(335.3 258.69) rotate(0.03)" font-size="3.95" font-style="italic" fill="#2a2a2a" stroke="#2a2a2a" stroke-width="0.1">TNFRSF4</text>
<text transform="translate(335.3 262) rotate(0.03)" font-size="3.95" font-style="italic" fill="#2a2a2a" stroke="#2a2a2a" stroke-width="0.1">CD48</text>
<text transform="translate(335.3 265.32) rotate(0.03)" font-size="3.95" font-style="italic" fill="#2a2a2a" stroke="#2a2a2a" stroke-width="0.1">HDAC1</text>
<text transform="translate(335.3 268.63) rotate(0.03)" font-size="3.95" font-style="italic" fill="#2a2a2a" stroke="#2a2a2a" stroke-width="0.1">CXCR5</text>
<text transform="translate(335.3 271.94) rotate(0.03)" font-size="3.95" font-style="italic" fill="#2a2a2a" stroke="#2a2a2a" stroke-width="0.1">IL15</text>
<text transform="translate(335.3 275.25) rotate(0.03)" font-size="3.95" font-style="italic" fill="#2a2a2a" stroke="#2a2a2a" stroke-width="0.1">IL12RB2</text>
<text transform="translate(335.3 278.56) rotate(0.03)" font-size="3.95" font-style="italic" fill="#2a2a2a" stroke="#2a2a2a" stroke-width="0.1">NCR1</text>
<text transform="translate(335.3 281.87) rotate(0.03)" font-size="3.95" font-style="italic" fill="#2a2a2a" stroke="#2a2a2a" stroke-width="0.1">CXCR1</text>
<text transform="translate(335.3 285.18) rotate(0.03)" font-size="3.95" font-style="italic" fill="#2a2a2a" stroke="#2a2a2a" stroke-width="0.1">CD22</text>
<text transform="translate(335.3 288.5) rotate(0.03)" font-size="3.95" font-style="italic" fill="#2a2a2a" stroke="#2a2a2a" stroke-width="0.1">CCR2</text>
<text transform="translate(335.3 291.81) rotate(0.03)" font-size="3.95" font-style="italic" fill="#2a2a2a" stroke="#2a2a2a" stroke-width="0.1">KLRK1</text>
<text transform="translate(335.3 295.12) rotate(0.03)" font-size="3.95" font-style="italic" fill="#2a2a2a" stroke="#2a2a2a" stroke-width="0.1">FAS</text>
<text transform="translate(335.3 298.43) rotate(0.03)" font-size="3.95" font-style="italic" fill="#2a2a2a" stroke="#2a2a2a" stroke-width="0.1">IL18R1</text>
<text transform="translate(335.3 301.74) rotate(0.03)" font-size="3.95" font-style="italic" fill="#2a2a2a" stroke="#2a2a2a" stroke-width="0.1">IL21</text>
<text transform="translate(335.3 305.05) rotate(0.03)" font-size="3.95" font-style="italic" fill="#2a2a2a" stroke="#2a2a2a" stroke-width="0.1">TNFSF14</text>
<text transform="translate(335.3 308.36) rotate(0.03)" font-size="3.95" font-style="italic" fill="#2a2a2a" stroke="#2a2a2a" stroke-width="0.1">IDO</text>
<text transform="translate(335.3 311.68) rotate(0.03)" font-size="3.95" font-style="italic" fill="#2a2a2a" stroke="#2a2a2a" stroke-width="0.1">TBX21</text>
<text transform="translate(335.3 314.99) rotate(0.03)" font-size="3.95" font-style="italic" fill="#2a2a2a" stroke="#2a2a2a" stroke-width="0.1">CD7</text>
<text transform="translate(335.3 318.3) rotate(0.03)" font-size="3.95" font-style="italic" fill="#2a2a2a" stroke="#2a2a2a" stroke-width="0.1">IL10RA</text>
<text transform="translate(335.3 321.61) rotate(0.03)" font-size="3.95" font-style="italic" fill="#2a2a2a" stroke="#2a2a2a" stroke-width="0.1">CD86</text>
<text transform="translate(335.3 324.92) rotate(0.03)" font-size="3.95" font-style="italic" fill="#2a2a2a" stroke="#2a2a2a" stroke-width="0.1">IFNG</text>
<text transform="translate(335.3 328.23) rotate(0.03)" font-size="3.95" font-style="italic" fill="#2a2a2a" stroke="#2a2a2a" stroke-width="0.1">CD80</text>
<text transform="translate(335.3 331.54) rotate(0.03)" font-size="3.95" font-style="italic" fill="#2a2a2a" stroke="#2a2a2a" stroke-width="0.1">CD274</text>
<text transform="translate(63.9 355.8) rotate(0.03)" font-size="10.3" text-anchor="start" fill="#111" stroke="#111" stroke-width="0.41" font-weight="bold">B</text>
<path d="M117.12 388.8V378.75H124.64V388.8M109.61 388.8V372H120.88V378.75M147.18 388.8V379.5H154.7V388.8M139.67 388.8V378H150.94V379.5M132.15 388.8V373H145.3V378M115.24 372V362.3H138.73V373M162.21 388.8V380.4H169.73V388.8M177.24 388.8V380.4H184.76V388.8M207.3 388.8V384.4H214.82V388.8M199.79 388.8V381.2H211.06V384.4M192.27 388.8V379.3H205.42V381.2M181 380.4V376.7H198.85V379.3M165.97 380.4V371.7H189.92V376.7M229.85 388.8V384.4H237.36V388.8M244.88 388.8V384.8H252.39V388.8M267.42 388.8V384.8H274.94V388.8M259.91 388.8V383.8H271.18V384.8M248.63 384.8V382.3H265.54V383.8M233.6 384.4V380.6H257.09V382.3M222.33 388.8V374.3H245.35V380.6M177.95 371.7V367.3H233.84V374.3M126.99 362.3V346.6H205.89V367.3" fill="none" stroke="#222" stroke-width="0.7" stroke-linejoin="miter"/>
<rect x="105.85" y="389.9" width="7.56" height="4" fill="#29A7DF"/>
<rect x="105.85" y="393.85" width="7.56" height="4" fill="#EC2227"/>
<rect x="105.85" y="397.8" width="7.56" height="3.95" fill="#96621B"/>
<rect x="113.36" y="389.9" width="7.56" height="4" fill="#6BBB3E"/>
<rect x="113.36" y="393.85" width="7.56" height="4" fill="#98D9C6"/>
<rect x="113.36" y="397.8" width="7.56" height="3.95" fill="#96621B"/>
<rect x="120.88" y="389.9" width="7.56" height="4" fill="#6BBB3E"/>
<rect x="120.88" y="393.85" width="7.56" height="4" fill="#98D9C6"/>
<rect x="120.88" y="397.8" width="7.56" height="3.95" fill="#2BB9CE"/>
<rect x="128.39" y="389.9" width="7.56" height="4" fill="#29A7DF"/>
<rect x="128.39" y="393.85" width="7.56" height="4" fill="#5E5AC4"/>
<rect x="128.39" y="397.8" width="7.56" height="3.95" fill="#2BB9CE"/>
<rect x="135.91" y="389.9" width="7.56" height="4" fill="#6BBB3E"/>
<rect x="135.91" y="393.85" width="7.56" height="4" fill="#7C7575"/>
<rect x="135.91" y="397.8" width="7.56" height="3.95" fill="#96621B"/>
<rect x="143.42" y="389.9" width="7.56" height="4" fill="#29A7DF"/>
<rect x="143.42" y="393.85" width="7.56" height="4" fill="#5E5AC4"/>
<rect x="143.42" y="397.8" width="7.56" height="3.95" fill="#96621B"/>
<rect x="150.94" y="389.9" width="7.56" height="4" fill="#6BBB3E"/>
<rect x="150.94" y="393.85" width="7.56" height="4" fill="#F5864B"/>
<rect x="150.94" y="397.8" width="7.56" height="3.95" fill="#96621B"/>
<rect x="158.45" y="389.9" width="7.56" height="4" fill="#29A7DF"/>
<rect x="158.45" y="393.85" width="7.56" height="4" fill="#EC1F43"/>
<rect x="158.45" y="397.8" width="7.56" height="3.95" fill="#96621B"/>
<rect x="165.97" y="389.9" width="7.56" height="4" fill="#29A7DF"/>
<rect x="165.97" y="393.85" width="7.56" height="4" fill="#F3E1C6"/>
<rect x="165.97" y="397.8" width="7.56" height="3.95" fill="#2BB9CE"/>
<rect x="173.48" y="389.9" width="7.56" height="4" fill="#6BBB3E"/>
<rect x="173.48" y="393.85" width="7.56" height="4" fill="#F5864B"/>
<rect x="173.48" y="397.8" width="7.56" height="3.95" fill="#2BB9CE"/>
<rect x="181" y="389.9" width="7.56" height="4" fill="#29A7DF"/>
<rect x="181" y="393.85" width="7.56" height="4" fill="#EC2227"/>
<rect x="181" y="397.8" width="7.56" height="3.95" fill="#2BB9CE"/>
<rect x="188.51" y="389.9" width="7.56" height="4" fill="#F2A81D"/>
<rect x="188.51" y="393.85" width="7.56" height="4" fill="#D2A983"/>
<rect x="188.51" y="397.8" width="7.56" height="3.95" fill="#2BB9CE"/>
<rect x="196.03" y="389.9" width="7.56" height="4" fill="#F2A81D"/>
<rect x="196.03" y="393.85" width="7.56" height="4" fill="#8B5CC2"/>
<rect x="196.03" y="397.8" width="7.56" height="3.95" fill="#96621B"/>
<rect x="203.54" y="389.9" width="7.56" height="4" fill="#29A7DF"/>
<rect x="203.54" y="393.85" width="7.56" height="4" fill="#2C3FA3"/>
<rect x="203.54" y="397.8" width="7.56" height="3.95" fill="#2BB9CE"/>
<rect x="211.06" y="389.9" width="7.56" height="4" fill="#29A7DF"/>
<rect x="211.06" y="393.85" width="7.56" height="4" fill="#2C3FA3"/>
<rect x="211.06" y="397.8" width="7.56" height="3.95" fill="#96621B"/>
<rect x="218.57" y="389.9" width="7.56" height="4" fill="#F2A81D"/>
<rect x="218.57" y="393.85" width="7.56" height="4" fill="#D4B48C"/>
<rect x="218.57" y="397.8" width="7.56" height="3.95" fill="#2BB9CE"/>
<rect x="226.09" y="389.9" width="7.56" height="4" fill="#F2A81D"/>
<rect x="226.09" y="393.85" width="7.56" height="4" fill="#D2A983"/>
<rect x="226.09" y="397.8" width="7.56" height="3.95" fill="#96621B"/>
<rect x="233.6" y="389.9" width="7.56" height="4" fill="#F2A81D"/>
<rect x="233.6" y="393.85" width="7.56" height="4" fill="#7B50B2"/>
<rect x="233.6" y="397.8" width="7.56" height="3.95" fill="#96621B"/>
<rect x="241.12" y="389.9" width="7.56" height="4" fill="#F2A81D"/>
<rect x="241.12" y="393.85" width="7.56" height="4" fill="#1C9746"/>
<rect x="241.12" y="397.8" width="7.56" height="3.95" fill="#2BB9CE"/>
<rect x="248.63" y="389.9" width="7.56" height="4" fill="#F2A81D"/>
<rect x="248.63" y="393.85" width="7.56" height="4" fill="#1C9746"/>
<rect x="248.63" y="397.8" width="7.56" height="3.95" fill="#96621B"/>
<rect x="256.15" y="389.9" width="7.56" height="4" fill="#6BBB3E"/>
<rect x="256.15" y="393.85" width="7.56" height="4" fill="#7C7575"/>
<rect x="256.15" y="397.8" width="7.56" height="3.95" fill="#2BB9CE"/>
<rect x="263.66" y="389.9" width="7.56" height="4" fill="#29A7DF"/>
<rect x="263.66" y="393.85" width="7.56" height="4" fill="#F3E1C6"/>
<rect x="263.66" y="397.8" width="7.56" height="3.95" fill="#96621B"/>
<rect x="271.18" y="389.9" width="7.56" height="4" fill="#F2A81D"/>
<rect x="271.18" y="393.85" width="7.56" height="4" fill="#8B5CC2"/>
<rect x="271.18" y="397.8" width="7.56" height="3.95" fill="#2BB9CE"/>
<text transform="translate(103.4 393.6) rotate(0.03)" font-size="4.9" text-anchor="end" fill="#222" stroke="#222" stroke-width="0.2" >Response</text>
<text transform="translate(103.4 397.55) rotate(0.03)" font-size="4.9" text-anchor="end" fill="#222" stroke="#222" stroke-width="0.2" >Patient.ID</text>
<text transform="translate(103.4 401.5) rotate(0.03)" font-size="4.9" text-anchor="end" fill="#222" stroke="#222" stroke-width="0.2" >Tumor.site</text>
<rect x="95.2" y="403.8" width="8.65" height="133.2" fill="#505050"/>
<g shape-rendering="crispEdges">
<rect x="105.85" y="403.8" width="7.61" height="13.42" fill="#263e73"/>
<rect x="113.36" y="403.8" width="7.61" height="13.42" fill="#6b4a14"/>
<rect x="120.88" y="403.8" width="7.61" height="13.42" fill="#ce8c1b"/>
<rect x="128.39" y="403.8" width="7.61" height="13.42" fill="#6491df"/>
<rect x="135.91" y="403.8" width="7.61" height="13.42" fill="#07080c"/>
<rect x="143.42" y="403.8" width="7.61" height="13.42" fill="#4265a6"/>
<rect x="150.94" y="403.8" width="7.61" height="13.42" fill="#07080c"/>
<rect x="158.45" y="403.8" width="7.61" height="13.42" fill="#07080c"/>
<rect x="165.97" y="403.8" width="7.61" height="13.42" fill="#07080c"/>
<rect x="173.48" y="403.8" width="7.61" height="13.42" fill="#07080c"/>
<rect x="181" y="403.8" width="7.61" height="13.42" fill="#07080c"/>
<rect x="188.51" y="403.8" width="7.61" height="13.42" fill="#4f3711"/>
<rect x="196.03" y="403.8" width="7.61" height="13.42" fill="#6b4a14"/>
<rect x="203.54" y="403.8" width="7.61" height="13.42" fill="#4f3711"/>
<rect x="211.06" y="403.8" width="7.61" height="13.42" fill="#6b4a14"/>
<rect x="218.57" y="403.8" width="7.61" height="13.42" fill="#2f220f"/>
<rect x="226.09" y="403.8" width="7.61" height="13.42" fill="#2f220f"/>
<rect x="233.6" y="403.8" width="7.61" height="13.42" fill="#110e0d"/>
<rect x="241.12" y="403.8" width="7.61" height="13.42" fill="#4f3711"/>
<rect x="248.63" y="403.8" width="7.61" height="13.42" fill="#4f3711"/>
<rect x="256.15" y="403.8" width="7.61" height="13.42" fill="#6b4a14"/>
<rect x="263.66" y="403.8" width="7.61" height="13.42" fill="#4f3711"/>
<rect x="271.18" y="403.8" width="7.61" height="13.42" fill="#6b4a14"/>
<rect x="105.85" y="417.12" width="7.61" height="13.42" fill="#324e89"/>
<rect x="113.36" y="417.12" width="7.61" height="13.42" fill="#4f3711"/>
<rect x="120.88" y="417.12" width="7.61" height="13.42" fill="#a67118"/>
<rect x="128.39" y="417.12" width="7.61" height="13.42" fill="#6491df"/>
<rect x="135.91" y="417.12" width="7.61" height="13.42" fill="#07080c"/>
<rect x="143.42" y="417.12" width="7.61" height="13.42" fill="#4265a6"/>
<rect x="150.94" y="417.12" width="7.61" height="13.42" fill="#141f37"/>
<rect x="158.45" y="417.12" width="7.61" height="13.42" fill="#07080c"/>
<rect x="165.97" y="417.12" width="7.61" height="13.42" fill="#07080c"/>
<rect x="173.48" y="417.12" width="7.61" height="13.42" fill="#07080c"/>
<rect x="181" y="417.12" width="7.61" height="13.42" fill="#263e73"/>
<rect x="188.51" y="417.12" width="7.61" height="13.42" fill="#07080c"/>
<rect x="196.03" y="417.12" width="7.61" height="13.42" fill="#6b4a14"/>
<rect x="203.54" y="417.12" width="7.61" height="13.42" fill="#2f220f"/>
<rect x="211.06" y="417.12" width="7.61" height="13.42" fill="#2f220f"/>
<rect x="218.57" y="417.12" width="7.61" height="13.42" fill="#6b4a14"/>
<rect x="226.09" y="417.12" width="7.61" height="13.42" fill="#2f220f"/>
<rect x="233.6" y="417.12" width="7.61" height="13.42" fill="#4f3711"/>
<rect x="241.12" y="417.12" width="7.61" height="13.42" fill="#4f3711"/>
<rect x="248.63" y="417.12" width="7.61" height="13.42" fill="#4f3711"/>
<rect x="256.15" y="417.12" width="7.61" height="13.42" fill="#4f3711"/>
<rect x="263.66" y="417.12" width="7.61" height="13.42" fill="#6b4a14"/>
<rect x="271.18" y="417.12" width="7.61" height="13.42" fill="#865c16"/>
<rect x="105.85" y="430.44" width="7.61" height="13.42" fill="#4265a6"/>
<rect x="113.36" y="430.44" width="7.61" height="13.42" fill="#4f3711"/>
<rect x="120.88" y="430.44" width="7.61" height="13.42" fill="#ce8c1b"/>
<rect x="128.39" y="430.44" width="7.61" height="13.42" fill="#6491df"/>
<rect x="135.91" y="430.44" width="7.61" height="13.42" fill="#141f37"/>
<rect x="143.42" y="430.44" width="7.61" height="13.42" fill="#4265a6"/>
<rect x="150.94" y="430.44" width="7.61" height="13.42" fill="#141f37"/>
<rect x="158.45" y="430.44" width="7.61" height="13.42" fill="#110e0d"/>
<rect x="165.97" y="430.44" width="7.61" height="13.42" fill="#110e0d"/>
<rect x="173.48" y="430.44" width="7.61" height="13.42" fill="#2f220f"/>
<rect x="181" y="430.44" width="7.61" height="13.42" fill="#1f3159"/>
<rect x="188.51" y="430.44" width="7.61" height="13.42" fill="#07080c"/>
<rect x="196.03" y="430.44" width="7.61" height="13.42" fill="#2f220f"/>
<rect x="203.54" y="430.44" width="7.61" height="13.42" fill="#6b4a14"/>
<rect x="211.06" y="430.44" width="7.61" height="13.42" fill="#4f3711"/>
<rect x="218.57" y="430.44" width="7.61" height="13.42" fill="#6b4a14"/>
<rect x="226.09" y="430.44" width="7.61" height="13.42" fill="#2f220f"/>
<rect x="233.6" y="430.44" width="7.61" height="13.42" fill="#110e0d"/>
<rect x="241.12" y="430.44" width="7.61" height="13.42" fill="#4f3711"/>
<rect x="248.63" y="430.44" width="7.61" height="13.42" fill="#6b4a14"/>
<rect x="256.15" y="430.44" width="7.61" height="13.42" fill="#6b4a14"/>
<rect x="263.66" y="430.44" width="7.61" height="13.42" fill="#6b4a14"/>
<rect x="271.18" y="430.44" width="7.61" height="13.42" fill="#4f3711"/>
<rect x="105.85" y="443.76" width="7.61" height="13.42" fill="#4265a6"/>
<rect x="113.36" y="443.76" width="7.61" height="13.42" fill="#4265a6"/>
<rect x="120.88" y="443.76" width="7.61" height="13.42" fill="#141f37"/>
<rect x="128.39" y="443.76" width="7.61" height="13.42" fill="#4265a6"/>
<rect x="135.91" y="443.76" width="7.61" height="13.42" fill="#141f37"/>
<rect x="143.42" y="443.76" width="7.61" height="13.42" fill="#1f3159"/>
<rect x="150.94" y="443.76" width="7.61" height="13.42" fill="#2f220f"/>
<rect x="158.45" y="443.76" width="7.61" height="13.42" fill="#07080c"/>
<rect x="165.97" y="443.76" width="7.61" height="13.42" fill="#865c16"/>
<rect x="173.48" y="443.76" width="7.61" height="13.42" fill="#1f3159"/>
<rect x="181" y="443.76" width="7.61" height="13.42" fill="#141f37"/>
<rect x="188.51" y="443.76" width="7.61" height="13.42" fill="#4f3711"/>
<rect x="196.03" y="443.76" width="7.61" height="13.42" fill="#4f3711"/>
<rect x="203.54" y="443.76" width="7.61" height="13.42" fill="#110e0d"/>
<rect x="211.06" y="443.76" width="7.61" height="13.42" fill="#2f220f"/>
<rect x="218.57" y="443.76" width="7.61" height="13.42" fill="#6b4a14"/>
<rect x="226.09" y="443.76" width="7.61" height="13.42" fill="#865c16"/>
<rect x="233.6" y="443.76" width="7.61" height="13.42" fill="#865c16"/>
<rect x="241.12" y="443.76" width="7.61" height="13.42" fill="#865c16"/>
<rect x="248.63" y="443.76" width="7.61" height="13.42" fill="#6b4a14"/>
<rect x="256.15" y="443.76" width="7.61" height="13.42" fill="#6b4a14"/>
<rect x="263.66" y="443.76" width="7.61" height="13.42" fill="#4f3711"/>
<rect x="271.18" y="443.76" width="7.61" height="13.42" fill="#865c16"/>
<rect x="105.85" y="457.08" width="7.61" height="13.42" fill="#4265a6"/>
<rect x="113.36" y="457.08" width="7.61" height="13.42" fill="#324e89"/>
<rect x="120.88" y="457.08" width="7.61" height="13.42" fill="#6491df"/>
<rect x="128.39" y="457.08" width="7.61" height="13.42" fill="#141f37"/>
<rect x="135.91" y="457.08" width="7.61" height="13.42" fill="#1f3159"/>
<rect x="143.42" y="457.08" width="7.61" height="13.42" fill="#141f37"/>
<rect x="150.94" y="457.08" width="7.61" height="13.42" fill="#1f3159"/>
<rect x="158.45" y="457.08" width="7.61" height="13.42" fill="#2f220f"/>
<rect x="165.97" y="457.08" width="7.61" height="13.42" fill="#2f220f"/>
<rect x="173.48" y="457.08" width="7.61" height="13.42" fill="#07080c"/>
<rect x="181" y="457.08" width="7.61" height="13.42" fill="#4f3711"/>
<rect x="188.51" y="457.08" width="7.61" height="13.42" fill="#4f3711"/>
<rect x="196.03" y="457.08" width="7.61" height="13.42" fill="#4f3711"/>
<rect x="203.54" y="457.08" width="7.61" height="13.42" fill="#2f220f"/>
<rect x="211.06" y="457.08" width="7.61" height="13.42" fill="#110e0d"/>
<rect x="218.57" y="457.08" width="7.61" height="13.42" fill="#ce8c1b"/>
<rect x="226.09" y="457.08" width="7.61" height="13.42" fill="#4f3711"/>
<rect x="233.6" y="457.08" width="7.61" height="13.42" fill="#4f3711"/>
<rect x="241.12" y="457.08" width="7.61" height="13.42" fill="#865c16"/>
<rect x="248.63" y="457.08" width="7.61" height="13.42" fill="#865c16"/>
<rect x="256.15" y="457.08" width="7.61" height="13.42" fill="#4f3711"/>
<rect x="263.66" y="457.08" width="7.61" height="13.42" fill="#4f3711"/>
<rect x="271.18" y="457.08" width="7.61" height="13.42" fill="#4f3711"/>
<rect x="105.85" y="470.4" width="7.61" height="13.42" fill="#263e73"/>
<rect x="113.36" y="470.4" width="7.61" height="13.42" fill="#141f37"/>
<rect x="120.88" y="470.4" width="7.61" height="13.42" fill="#324e89"/>
<rect x="128.39" y="470.4" width="7.61" height="13.42" fill="#4f3711"/>
<rect x="135.91" y="470.4" width="7.61" height="13.42" fill="#1f3159"/>
<rect x="143.42" y="470.4" width="7.61" height="13.42" fill="#1f3159"/>
<rect x="150.94" y="470.4" width="7.61" height="13.42" fill="#1f3159"/>
<rect x="158.45" y="470.4" width="7.61" height="13.42" fill="#f6a61e"/>
<rect x="165.97" y="470.4" width="7.61" height="13.42" fill="#f6a61e"/>
<rect x="173.48" y="470.4" width="7.61" height="13.42" fill="#4f3711"/>
<rect x="181" y="470.4" width="7.61" height="13.42" fill="#2f220f"/>
<rect x="188.51" y="470.4" width="7.61" height="13.42" fill="#6b4a14"/>
<rect x="196.03" y="470.4" width="7.61" height="13.42" fill="#6b4a14"/>
<rect x="203.54" y="470.4" width="7.61" height="13.42" fill="#07080c"/>
<rect x="211.06" y="470.4" width="7.61" height="13.42" fill="#2f220f"/>
<rect x="218.57" y="470.4" width="7.61" height="13.42" fill="#865c16"/>
<rect x="226.09" y="470.4" width="7.61" height="13.42" fill="#07080c"/>
<rect x="233.6" y="470.4" width="7.61" height="13.42" fill="#07080c"/>
<rect x="241.12" y="470.4" width="7.61" height="13.42" fill="#07080c"/>
<rect x="248.63" y="470.4" width="7.61" height="13.42" fill="#07080c"/>
<rect x="256.15" y="470.4" width="7.61" height="13.42" fill="#110e0d"/>
<rect x="263.66" y="470.4" width="7.61" height="13.42" fill="#110e0d"/>
<rect x="271.18" y="470.4" width="7.61" height="13.42" fill="#07080c"/>
<rect x="105.85" y="483.72" width="7.61" height="13.42" fill="#537bc3"/>
<rect x="113.36" y="483.72" width="7.61" height="13.42" fill="#324e89"/>
<rect x="120.88" y="483.72" width="7.61" height="13.42" fill="#324e89"/>
<rect x="128.39" y="483.72" width="7.61" height="13.42" fill="#1f3159"/>
<rect x="135.91" y="483.72" width="7.61" height="13.42" fill="#110e0d"/>
<rect x="143.42" y="483.72" width="7.61" height="13.42" fill="#1f3159"/>
<rect x="150.94" y="483.72" width="7.61" height="13.42" fill="#1f3159"/>
<rect x="158.45" y="483.72" width="7.61" height="13.42" fill="#2f220f"/>
<rect x="165.97" y="483.72" width="7.61" height="13.42" fill="#865c16"/>
<rect x="173.48" y="483.72" width="7.61" height="13.42" fill="#07080c"/>
<rect x="181" y="483.72" width="7.61" height="13.42" fill="#2f220f"/>
<rect x="188.51" y="483.72" width="7.61" height="13.42" fill="#07080c"/>
<rect x="196.03" y="483.72" width="7.61" height="13.42" fill="#2f220f"/>
<rect x="203.54" y="483.72" width="7.61" height="13.42" fill="#2f220f"/>
<rect x="211.06" y="483.72" width="7.61" height="13.42" fill="#4f3711"/>
<rect x="218.57" y="483.72" width="7.61" height="13.42" fill="#865c16"/>
<rect x="226.09" y="483.72" width="7.61" height="13.42" fill="#6b4a14"/>
<rect x="233.6" y="483.72" width="7.61" height="13.42" fill="#6b4a14"/>
<rect x="241.12" y="483.72" width="7.61" height="13.42" fill="#865c16"/>
<rect x="248.63" y="483.72" width="7.61" height="13.42" fill="#865c16"/>
<rect x="256.15" y="483.72" width="7.61" height="13.42" fill="#6b4a14"/>
<rect x="263.66" y="483.72" width="7.61" height="13.42" fill="#6b4a14"/>
<rect x="271.18" y="483.72" width="7.61" height="13.42" fill="#6b4a14"/>
<rect x="105.85" y="497.04" width="7.61" height="13.42" fill="#4265a6"/>
<rect x="113.36" y="497.04" width="7.61" height="13.42" fill="#1f3159"/>
<rect x="120.88" y="497.04" width="7.61" height="13.42" fill="#4265a6"/>
<rect x="128.39" y="497.04" width="7.61" height="13.42" fill="#1f3159"/>
<rect x="135.91" y="497.04" width="7.61" height="13.42" fill="#110e0d"/>
<rect x="143.42" y="497.04" width="7.61" height="13.42" fill="#1f3159"/>
<rect x="150.94" y="497.04" width="7.61" height="13.42" fill="#1f3159"/>
<rect x="158.45" y="497.04" width="7.61" height="13.42" fill="#2f220f"/>
<rect x="165.97" y="497.04" width="7.61" height="13.42" fill="#2f220f"/>
<rect x="173.48" y="497.04" width="7.61" height="13.42" fill="#07080c"/>
<rect x="181" y="497.04" width="7.61" height="13.42" fill="#4f3711"/>
<rect x="188.51" y="497.04" width="7.61" height="13.42" fill="#110e0d"/>
<rect x="196.03" y="497.04" width="7.61" height="13.42" fill="#4f3711"/>
<rect x="203.54" y="497.04" width="7.61" height="13.42" fill="#2f220f"/>
<rect x="211.06" y="497.04" width="7.61" height="13.42" fill="#110e0d"/>
<rect x="218.57" y="497.04" width="7.61" height="13.42" fill="#865c16"/>
<rect x="226.09" y="497.04" width="7.61" height="13.42" fill="#4f3711"/>
<rect x="233.6" y="497.04" width="7.61" height="13.42" fill="#4f3711"/>
<rect x="241.12" y="497.04" width="7.61" height="13.42" fill="#865c16"/>
<rect x="248.63" y="497.04" width="7.61" height="13.42" fill="#865c16"/>
<rect x="256.15" y="497.04" width="7.61" height="13.42" fill="#6b4a14"/>
<rect x="263.66" y="497.04" width="7.61" height="13.42" fill="#4f3711"/>
<rect x="271.18" y="497.04" width="7.61" height="13.42" fill="#4f3711"/>
<rect x="105.85" y="510.36" width="7.61" height="13.42" fill="#4265a6"/>
<rect x="113.36" y="510.36" width="7.61" height="13.42" fill="#141f37"/>
<rect x="120.88" y="510.36" width="7.61" height="13.42" fill="#537bc3"/>
<rect x="128.39" y="510.36" width="7.61" height="13.42" fill="#865c16"/>
<rect x="135.91" y="510.36" width="7.61" height="13.42" fill="#110e0d"/>
<rect x="143.42" y="510.36" width="7.61" height="13.42" fill="#1f3159"/>
<rect x="150.94" y="510.36" width="7.61" height="13.42" fill="#07080c"/>
<rect x="158.45" y="510.36" width="7.61" height="13.42" fill="#ce8c1b"/>
<rect x="165.97" y="510.36" width="7.61" height="13.42" fill="#ce8c1b"/>
<rect x="173.48" y="510.36" width="7.61" height="13.42" fill="#2f220f"/>
<rect x="181" y="510.36" width="7.61" height="13.42" fill="#6b4a14"/>
<rect x="188.51" y="510.36" width="7.61" height="13.42" fill="#1f3159"/>
<rect x="196.03" y="510.36" width="7.61" height="13.42" fill="#6b4a14"/>
<rect x="203.54" y="510.36" width="7.61" height="13.42" fill="#110e0d"/>
<rect x="211.06" y="510.36" width="7.61" height="13.42" fill="#6b4a14"/>
<rect x="218.57" y="510.36" width="7.61" height="13.42" fill="#a67118"/>
<rect x="226.09" y="510.36" width="7.61" height="13.42" fill="#1f3159"/>
<rect x="233.6" y="510.36" width="7.61" height="13.42" fill="#07080c"/>
<rect x="241.12" y="510.36" width="7.61" height="13.42" fill="#07080c"/>
<rect x="248.63" y="510.36" width="7.61" height="13.42" fill="#110e0d"/>
<rect x="256.15" y="510.36" width="7.61" height="13.42" fill="#2f220f"/>
<rect x="263.66" y="510.36" width="7.61" height="13.42" fill="#110e0d"/>
<rect x="271.18" y="510.36" width="7.61" height="13.42" fill="#2f220f"/>
<rect x="105.85" y="523.68" width="7.61" height="13.42" fill="#6491df"/>
<rect x="113.36" y="523.68" width="7.61" height="13.42" fill="#1f3159"/>
<rect x="120.88" y="523.68" width="7.61" height="13.42" fill="#324e89"/>
<rect x="128.39" y="523.68" width="7.61" height="13.42" fill="#07080c"/>
<rect x="135.91" y="523.68" width="7.61" height="13.42" fill="#2f220f"/>
<rect x="143.42" y="523.68" width="7.61" height="13.42" fill="#1f3159"/>
<rect x="150.94" y="523.68" width="7.61" height="13.42" fill="#1f3159"/>
<rect x="158.45" y="523.68" width="7.61" height="13.42" fill="#6b4a14"/>
<rect x="165.97" y="523.68" width="7.61" height="13.42" fill="#6b4a14"/>
<rect x="173.48" y="523.68" width="7.61" height="13.42" fill="#07080c"/>
<rect x="181" y="523.68" width="7.61" height="13.42" fill="#07080c"/>
<rect x="188.51" y="523.68" width="7.61" height="13.42" fill="#110e0d"/>
<rect x="196.03" y="523.68" width="7.61" height="13.42" fill="#07080c"/>
<rect x="203.54" y="523.68" width="7.61" height="13.42" fill="#110e0d"/>
<rect x="211.06" y="523.68" width="7.61" height="13.42" fill="#110e0d"/>
<rect x="218.57" y="523.68" width="7.61" height="13.42" fill="#865c16"/>
<rect x="226.09" y="523.68" width="7.61" height="13.42" fill="#2f220f"/>
<rect x="233.6" y="523.68" width="7.61" height="13.42" fill="#4f3711"/>
<rect x="241.12" y="523.68" width="7.61" height="13.42" fill="#6b4a14"/>
<rect x="248.63" y="523.68" width="7.61" height="13.42" fill="#865c16"/>
<rect x="256.15" y="523.68" width="7.61" height="13.42" fill="#6b4a14"/>
<rect x="263.66" y="523.68" width="7.61" height="13.42" fill="#4f3711"/>
<rect x="271.18" y="523.68" width="7.61" height="13.42" fill="#6b4a14"/>
</g>
<text transform="translate(281.8 413.36) rotate(0.03)" font-size="6.9" text-anchor="start" fill="#222" stroke="#222" stroke-width="0.28" >HLA-C</text>
<text transform="translate(281.8 426.68) rotate(0.03)" font-size="6.9" text-anchor="start" fill="#222" stroke="#222" stroke-width="0.28" >HLA-A</text>
<text transform="translate(281.8 440) rotate(0.03)" font-size="6.9" text-anchor="start" fill="#222" stroke="#222" stroke-width="0.28" >HLA-B</text>
<text transform="translate(281.8 453.32) rotate(0.03)" font-size="6.9" text-anchor="start" fill="#222" stroke="#222" stroke-width="0.28" >GZMM</text>
<text transform="translate(281.8 466.64) rotate(0.03)" font-size="6.9" text-anchor="start" fill="#222" stroke="#222" stroke-width="0.28" >GZMH</text>
<text transform="translate(281.8 479.96) rotate(0.03)" font-size="6.9" text-anchor="start" fill="#222" stroke="#222" stroke-width="0.28" >GNLY</text>
<text transform="translate(281.8 493.28) rotate(0.03)" font-size="6.9" text-anchor="start" fill="#222" stroke="#222" stroke-width="0.28" >GZMK</text>
<text transform="translate(281.8 506.6) rotate(0.03)" font-size="6.9" text-anchor="start" fill="#222" stroke="#222" stroke-width="0.28" >GZMA</text>
<text transform="translate(281.8 519.92) rotate(0.03)" font-size="6.9" text-anchor="start" fill="#222" stroke="#222" stroke-width="0.28" >GZMB</text>
<text transform="translate(281.8 533.24) rotate(0.03)" font-size="6.9" text-anchor="start" fill="#222" stroke="#222" stroke-width="0.28" >PRF1</text>
<text transform="translate(87 565) rotate(0.03)" font-size="8" text-anchor="start" fill="#333" stroke="#333" stroke-width="0.32" >Response</text>
<rect x="85.6" y="574.1" width="14.4" height="5" rx="1.6" fill="#F2A81D"/>
<text transform="translate(103.8 578.7) rotate(0.03)" font-size="8" text-anchor="start" fill="#333" stroke="#333" stroke-width="0.32" >CR + PR</text>
<rect x="85.6" y="586.6" width="14.4" height="5" rx="1.6" fill="#2A9FD9"/>
<text transform="translate(103.8 591.2) rotate(0.03)" font-size="8" text-anchor="start" fill="#333" stroke="#333" stroke-width="0.32" >SD</text>
<rect x="85.6" y="599.1" width="14.4" height="5" rx="1.6" fill="#62B94A"/>
<text transform="translate(103.8 603.7) rotate(0.03)" font-size="8" text-anchor="start" fill="#333" stroke="#333" stroke-width="0.32" >PD</text>
<text transform="translate(154.5 565) rotate(0.03)" font-size="8" text-anchor="start" fill="#333" stroke="#333" stroke-width="0.32" >Tumor site</text>
<rect x="153.8" y="574.1" width="18.6" height="5" rx="1.6" fill="#7DCAE3"/>
<text transform="translate(175.5 578.7) rotate(0.03)" font-size="8" text-anchor="start" fill="#333" stroke="#333" stroke-width="0.32" >Injected</text>
<rect x="153.8" y="586.6" width="18.6" height="5" rx="1.6" fill="#8E5A24"/>
<text transform="translate(175.5 591.2) rotate(0.03)" font-size="8" text-anchor="start" fill="#333" stroke="#333" stroke-width="0.32" >Noninjected</text>
<text transform="translate(245.8 565.6) rotate(0.03)" font-size="8" text-anchor="start" fill="#333" stroke="#333" stroke-width="0.32" >Patient ID</text>
<rect x="248.7" y="572.6" width="14.4" height="4" rx="2" fill="#EC2227"/>
<text transform="translate(266 576.55) rotate(0.03)" font-size="5.4" text-anchor="start" fill="#333" stroke="#333" stroke-width="0.22" >002</text>
<rect x="248.7" y="578.91" width="14.4" height="4" rx="2" fill="#8B5CC2"/>
<text transform="translate(266 582.86) rotate(0.03)" font-size="5.4" text-anchor="start" fill="#333" stroke="#333" stroke-width="0.22" >003</text>
<rect x="248.7" y="585.22" width="14.4" height="4" rx="2" fill="#D4B48C"/>
<text transform="translate(266 589.17) rotate(0.03)" font-size="5.4" text-anchor="start" fill="#333" stroke="#333" stroke-width="0.22" >004</text>
<rect x="248.7" y="591.53" width="14.4" height="4" rx="2" fill="#5E5AC4"/>
<text transform="translate(266 595.48) rotate(0.03)" font-size="5.4" text-anchor="start" fill="#333" stroke="#333" stroke-width="0.22" >006</text>
<rect x="248.7" y="597.84" width="14.4" height="4" rx="2" fill="#1C9746"/>
<text transform="translate(266 601.79) rotate(0.03)" font-size="5.4" text-anchor="start" fill="#333" stroke="#333" stroke-width="0.22" >008</text>
<rect x="248.7" y="604.15" width="14.4" height="4" rx="2" fill="#F5864B"/>
<text transform="translate(266 608.1) rotate(0.03)" font-size="5.4" text-anchor="start" fill="#333" stroke="#333" stroke-width="0.22" >009</text>
<rect x="248.7" y="610.46" width="14.4" height="4" rx="2" fill="#7C7575"/>
<text transform="translate(266 614.41) rotate(0.03)" font-size="5.4" text-anchor="start" fill="#333" stroke="#333" stroke-width="0.22" >010</text>
<rect x="248.7" y="616.77" width="14.4" height="4" rx="2" fill="#98D9C6"/>
<text transform="translate(266 620.72) rotate(0.03)" font-size="5.4" text-anchor="start" fill="#333" stroke="#333" stroke-width="0.22" >012</text>
<rect x="248.7" y="623.08" width="14.4" height="4" rx="2" fill="#F3E1C6"/>
<text transform="translate(266 627.03) rotate(0.03)" font-size="5.4" text-anchor="start" fill="#333" stroke="#333" stroke-width="0.22" >015</text>
<rect x="248.7" y="629.39" width="14.4" height="4" rx="2" fill="#2C3FA3"/>
<text transform="translate(266 633.34) rotate(0.03)" font-size="5.4" text-anchor="start" fill="#333" stroke="#333" stroke-width="0.22" >016</text>
<rect x="248.7" y="635.7" width="14.4" height="4" rx="2" fill="#7B50B2"/>
<text transform="translate(266 639.65) rotate(0.03)" font-size="5.4" text-anchor="start" fill="#333" stroke="#333" stroke-width="0.22" >023</text>
<rect x="248.7" y="642.01" width="14.4" height="4" rx="2" fill="#EC1F43"/>
<text transform="translate(266 645.96) rotate(0.03)" font-size="5.4" text-anchor="start" fill="#333" stroke="#333" stroke-width="0.22" >024</text>
<rect x="248.7" y="648.32" width="14.4" height="4" rx="2" fill="#D2A983"/>
<text transform="translate(266 652.27) rotate(0.03)" font-size="5.4" text-anchor="start" fill="#333" stroke="#333" stroke-width="0.22" >025</text>
<defs><linearGradient id="zg" x1="0" x2="1" y1="0" y2="0"><stop offset="0" stop-color="#4C76C8"/><stop offset="0.27" stop-color="#2E4C8A"/><stop offset="0.5" stop-color="#07080c"/><stop offset="0.75" stop-color="#96620F"/><stop offset="1" stop-color="#F5A21E"/></linearGradient></defs>
<rect x="88.8" y="618.3" width="34.4" height="26.6" fill="url(#zg)"/>
<text transform="translate(87.9 651.9) rotate(0.03)" font-size="4.6" text-anchor="middle" fill="#333" stroke="#333" stroke-width="0.18" >−3</text>
<text transform="translate(93.7 651.9) rotate(0.03)" font-size="4.6" text-anchor="middle" fill="#333" stroke="#333" stroke-width="0.18" >−2</text>
<text transform="translate(98.6 651.9) rotate(0.03)" font-size="4.6" text-anchor="middle" fill="#333" stroke="#333" stroke-width="0.18" >−1</text>
<text transform="translate(103.3 651.9) rotate(0.03)" font-size="4.6" text-anchor="middle" fill="#333" stroke="#333" stroke-width="0.18" >0</text>
<text transform="translate(108 651.9) rotate(0.03)" font-size="4.6" text-anchor="middle" fill="#333" stroke="#333" stroke-width="0.18" >1</text>
<text transform="translate(113.8 651.9) rotate(0.03)" font-size="4.6" text-anchor="middle" fill="#333" stroke="#333" stroke-width="0.18" >2</text>
<text transform="translate(121 651.9) rotate(0.03)" font-size="4.6" text-anchor="middle" fill="#333" stroke="#333" stroke-width="0.18" >3</text>
<text transform="translate(106.6 658.9) rotate(0.03)" font-size="5.9" text-anchor="middle" fill="#333"><tspan font-style="italic">Z</tspan>-scores</text>
<text transform="translate(1.4 674.7) rotate(0.03)" font-size="10.3" text-anchor="start" fill="#111" stroke="#111" stroke-width="0.41" font-weight="bold">C</text>
<path d="M22.5 690.4V757.8H68" fill="none" stroke="#222" stroke-width="1.0"/>
<text transform="translate(18.1 692.65) rotate(0.03)" font-size="4.9" text-anchor="end" fill="#222" stroke="#222" stroke-width="0.2" >15</text>
<text transform="translate(18.1 714.95) rotate(0.03)" font-size="4.9" text-anchor="end" fill="#222" stroke="#222" stroke-width="0.2" >10</text>
<text transform="translate(18.1 737.25) rotate(0.03)" font-size="4.9" text-anchor="end" fill="#222" stroke="#222" stroke-width="0.2" >5</text>
<text transform="translate(18.1 759.55) rotate(0.03)" font-size="4.9" text-anchor="end" fill="#222" stroke="#222" stroke-width="0.2" >0</text>
<path d="M19.1 690.9H22.5M19.1 713.2H22.5M19.1 735.5H22.5M19.1 757.8H22.5M31.6 757.8V760.6M44.9 757.8V760.6M58.6 757.8V760.6" fill="none" stroke="#222" stroke-width="1.0"/>
<text transform="translate(27.5 768.1) rotate(0.03)" font-size="5.5" text-anchor="middle" fill="#222" stroke="#222" stroke-width="0.22" >CR + PR</text>
<text transform="translate(45.2 768.1) rotate(0.03)" font-size="5.5" text-anchor="middle" fill="#222" stroke="#222" stroke-width="0.22" >SD</text>
<text transform="translate(59 768.1) rotate(0.03)" font-size="5.5" text-anchor="middle" fill="#222" stroke="#222" stroke-width="0.22" >PD</text>
<text transform="translate(7.5 726.35) rotate(-90)" font-size="5.3" text-anchor="middle" fill="#222" stroke="#222" stroke-width="0.12">CD8a (log<tspan font-size="65%" dy="1.2">2</tspan><tspan dy="-1.2">)</tspan></text>
<path d="M27.6 710.75H36V714H27.6ZM27.6 712.5H36M31.8 710.75V710M29.5 710H34.1M31.8 714V715M29.5 715H34.1M40.8 715.75H49.2V725H40.8ZM40.8 720.25H49.2M45 715.75V712.75M42.7 712.75H47.3M45 725V734.5M42.7 734.5H47.3M54.5 710.75H62.9V723.75H54.5ZM54.5 720.75H62.9M58.7 710.75V707.75M56.4 707.75H61M58.7 723.75V724.5M56.4 724.5H61" fill="none" stroke="#111" stroke-width="1.05"/>
<text transform="translate(37 694.05) rotate(0.03)" font-size="4.35" text-anchor="middle" fill="#111" stroke="#111" stroke-width="0.15"><tspan font-style="italic">P</tspan> = 0.005</text>
<path d="M31.1 695.4H45.5" stroke="#333" stroke-width="0.6"/>
<text transform="translate(58.9 694.05) rotate(0.03)" font-size="4.35" text-anchor="middle" fill="#111" stroke="#111" stroke-width="0.15"><tspan font-style="italic">P</tspan> = 0.523</text>
<path d="M49.2 695.4H64.2" stroke="#333" stroke-width="0.6"/>
<text transform="translate(48.6 702.05) rotate(0.03)" font-size="4.35" text-anchor="middle" fill="#111" stroke="#111" stroke-width="0.15"><tspan font-style="italic">P</tspan> = 0.057</text>
<path d="M34.8 703.4H64.2" stroke="#333" stroke-width="0.6"/>
<path d="M86.25 690.4V757.8H131.75" fill="none" stroke="#222" stroke-width="1.0"/>
<text transform="translate(81.85 692.65) rotate(0.03)" font-size="4.9" text-anchor="end" fill="#222" stroke="#222" stroke-width="0.2" >15</text>
<text transform="translate(81.85 714.95) rotate(0.03)" font-size="4.9" text-anchor="end" fill="#222" stroke="#222" stroke-width="0.2" >10</text>
<text transform="translate(81.85 737.25) rotate(0.03)" font-size="4.9" text-anchor="end" fill="#222" stroke="#222" stroke-width="0.2" >5</text>
<text transform="translate(81.85 759.55) rotate(0.03)" font-size="4.9" text-anchor="end" fill="#222" stroke="#222" stroke-width="0.2" >0</text>
<path d="M82.85 690.9H86.25M82.85 713.2H86.25M82.85 735.5H86.25M82.85 757.8H86.25M95.35 757.8V760.6M108.65 757.8V760.6M122.35 757.8V760.6" fill="none" stroke="#222" stroke-width="1.0"/>
<text transform="translate(91.25 768.1) rotate(0.03)" font-size="5.5" text-anchor="middle" fill="#222" stroke="#222" stroke-width="0.22" >CR + PR</text>
<text transform="translate(108.95 768.1) rotate(0.03)" font-size="5.5" text-anchor="middle" fill="#222" stroke="#222" stroke-width="0.22" >SD</text>
<text transform="translate(122.75 768.1) rotate(0.03)" font-size="5.5" text-anchor="middle" fill="#222" stroke="#222" stroke-width="0.22" >PD</text>
<text transform="translate(72.8 726.35) rotate(-90)" font-size="5.3" text-anchor="middle" fill="#222" stroke="#222" stroke-width="0.12">CD27 (log<tspan font-size="65%" dy="1.2">2</tspan><tspan dy="-1.2">)</tspan></text>
<path d="M91.35 707.2H99.75V711.3H91.35ZM91.35 708.7H99.75M95.55 707.2V705.5M93.25 705.5H97.85M95.55 711.3V716.8M93.25 716.8H97.85M104.55 711.2H112.95V724.5H104.55ZM104.55 719.3H112.95M108.75 711.2V707.3M106.45 707.3H111.05M108.75 724.5V731M106.45 731H111.05M118.25 712H126.65V724.6H118.25ZM118.25 722.8H126.65M122.45 712V709.2M120.15 709.2H124.75M122.45 724.6V725M120.15 725H124.75" fill="none" stroke="#111" stroke-width="1.05"/>
<text transform="translate(99.45 689.55) rotate(0.03)" font-size="4.35" text-anchor="middle" fill="#111" stroke="#111" stroke-width="0.15"><tspan font-style="italic">P</tspan> = 0.025</text>
<path d="M93.55 690.9H107.95" stroke="#333" stroke-width="0.6"/>
<text transform="translate(121.35 689.55) rotate(0.03)" font-size="4.35" text-anchor="middle" fill="#111" stroke="#111" stroke-width="0.15"><tspan font-style="italic">P</tspan> = 0.833</text>
<path d="M111.65 690.9H126.65" stroke="#333" stroke-width="0.6"/>
<text transform="translate(111.05 697.9) rotate(0.03)" font-size="4.35" text-anchor="middle" fill="#111" stroke="#111" stroke-width="0.15"><tspan font-style="italic">P</tspan> = 0.012</text>
<path d="M97.25 699.25H126.65" stroke="#333" stroke-width="0.6"/>
<path d="M150.4 690.4V757.8H195.9" fill="none" stroke="#222" stroke-width="1.0"/>
<text transform="translate(146 692.65) rotate(0.03)" font-size="4.9" text-anchor="end" fill="#222" stroke="#222" stroke-width="0.2" >10</text>
<text transform="translate(146 706.03) rotate(0.03)" font-size="4.9" text-anchor="end" fill="#222" stroke="#222" stroke-width="0.2" >8</text>
<text transform="translate(146 719.41) rotate(0.03)" font-size="4.9" text-anchor="end" fill="#222" stroke="#222" stroke-width="0.2" >6</text>
<text transform="translate(146 732.79) rotate(0.03)" font-size="4.9" text-anchor="end" fill="#222" stroke="#222" stroke-width="0.2" >4</text>
<text transform="translate(146 746.17) rotate(0.03)" font-size="4.9" text-anchor="end" fill="#222" stroke="#222" stroke-width="0.2" >2</text>
<text transform="translate(146 759.55) rotate(0.03)" font-size="4.9" text-anchor="end" fill="#222" stroke="#222" stroke-width="0.2" >0</text>
<path d="M147 690.9H150.4M147 704.28H150.4M147 717.66H150.4M147 731.04H150.4M147 744.42H150.4M147 757.8H150.4M159.5 757.8V760.6M172.8 757.8V760.6M186.5 757.8V760.6" fill="none" stroke="#222" stroke-width="1.0"/>
<text transform="translate(155.4 768.1) rotate(0.03)" font-size="5.5" text-anchor="middle" fill="#222" stroke="#222" stroke-width="0.22" >CR + PR</text>
<text transform="translate(173.1 768.1) rotate(0.03)" font-size="5.5" text-anchor="middle" fill="#222" stroke="#222" stroke-width="0.22" >SD</text>
<text transform="translate(186.9 768.1) rotate(0.03)" font-size="5.5" text-anchor="middle" fill="#222" stroke="#222" stroke-width="0.22" >PD</text>
<text transform="translate(137.8 726.35) rotate(-90)" font-size="5.3" text-anchor="middle" fill="#222" stroke="#222" stroke-width="0.12">Tbx21 (log<tspan font-size="65%" dy="1.2">2</tspan><tspan dy="-1.2">)</tspan></text>
<path d="M155.5 698.75H163.9V710H155.5ZM155.5 707.75H163.9M159.7 698.75V698.5M157.4 698.5H162M159.7 710V711.5M157.4 711.5H162M168.7 706.5H177.1V717.75H168.7ZM168.7 712H177.1M172.9 706.5V699.5M170.6 699.5H175.2M172.9 717.75V727M170.6 727H175.2M182.4 703.25H190.8V719.5H182.4ZM182.4 715.75H190.8M186.6 703.25V700.25M184.3 700.25H188.9M186.6 719.5V720.25M184.3 720.25H188.9" fill="none" stroke="#111" stroke-width="1.05"/>
<text transform="translate(165.35 687.4) rotate(0.03)" font-size="4.35" text-anchor="middle" fill="#111" stroke="#111" stroke-width="0.15"><tspan font-style="italic">P</tspan> = 0.062</text>
<path d="M159.45 688.75H173.85" stroke="#333" stroke-width="0.6"/>
<text transform="translate(187.25 687.4) rotate(0.03)" font-size="4.35" text-anchor="middle" fill="#111" stroke="#111" stroke-width="0.15"><tspan font-style="italic">P</tspan> = 0.530</text>
<path d="M177.55 688.75H192.55" stroke="#333" stroke-width="0.6"/>
<text transform="translate(176.95 695.15) rotate(0.03)" font-size="4.35" text-anchor="middle" fill="#111" stroke="#111" stroke-width="0.15"><tspan font-style="italic">P</tspan> = 0.095</text>
<path d="M163.15 696.5H192.55" stroke="#333" stroke-width="0.6"/>
<path d="M212.5 690.4V757.8H258" fill="none" stroke="#222" stroke-width="1.0"/>
<text transform="translate(208.1 692.65) rotate(0.03)" font-size="4.9" text-anchor="end" fill="#222" stroke="#222" stroke-width="0.2" >10</text>
<text transform="translate(208.1 706.03) rotate(0.03)" font-size="4.9" text-anchor="end" fill="#222" stroke="#222" stroke-width="0.2" >8</text>
<text transform="translate(208.1 719.41) rotate(0.03)" font-size="4.9" text-anchor="end" fill="#222" stroke="#222" stroke-width="0.2" >6</text>
<text transform="translate(208.1 732.79) rotate(0.03)" font-size="4.9" text-anchor="end" fill="#222" stroke="#222" stroke-width="0.2" >4</text>
<text transform="translate(208.1 746.17) rotate(0.03)" font-size="4.9" text-anchor="end" fill="#222" stroke="#222" stroke-width="0.2" >2</text>
<text transform="translate(208.1 759.55) rotate(0.03)" font-size="4.9" text-anchor="end" fill="#222" stroke="#222" stroke-width="0.2" >0</text>
<path d="M209.1 690.9H212.5M209.1 704.28H212.5M209.1 717.66H212.5M209.1 731.04H212.5M209.1 744.42H212.5M209.1 757.8H212.5M221.6 757.8V760.6M234.9 757.8V760.6M248.6 757.8V760.6" fill="none" stroke="#222" stroke-width="1.0"/>
<text transform="translate(217.5 768.1) rotate(0.03)" font-size="5.5" text-anchor="middle" fill="#222" stroke="#222" stroke-width="0.22" >CR + PR</text>
<text transform="translate(235.2 768.1) rotate(0.03)" font-size="5.5" text-anchor="middle" fill="#222" stroke="#222" stroke-width="0.22" >SD</text>
<text transform="translate(249 768.1) rotate(0.03)" font-size="5.5" text-anchor="middle" fill="#222" stroke="#222" stroke-width="0.22" >PD</text>
<text transform="translate(199.9 726.35) rotate(-90)" font-size="5.3" text-anchor="middle" fill="#222" stroke="#222" stroke-width="0.12">FoxP3 (log<tspan font-size="65%" dy="1.2">2</tspan><tspan dy="-1.2">)</tspan></text>
<path d="M217.6 707.5H226V721.25H217.6ZM217.6 713.75H226M221.8 707.5V703.75M219.5 703.75H224.1M221.8 721.25V723.25M219.5 723.25H224.1M230.8 714.5H239.2V726.25H230.8ZM230.8 725.75H239.2M235 714.5V711.25M232.7 711.25H237.3M235 726.25V734.5M232.7 734.5H237.3M244.5 720H252.9V730H244.5ZM244.5 727.5H252.9M248.7 720V717M246.4 717H251M248.7 730V731.5M246.4 731.5H251" fill="none" stroke="#111" stroke-width="1.05"/>
<text transform="translate(223.7 689.4) rotate(0.03)" font-size="4.35" text-anchor="middle" fill="#111" stroke="#111" stroke-width="0.15"><tspan font-style="italic">P</tspan> = 0.039</text>
<path d="M217.8 690.75H232.2" stroke="#333" stroke-width="0.6"/>
<text transform="translate(245.6 689.4) rotate(0.03)" font-size="4.35" text-anchor="middle" fill="#111" stroke="#111" stroke-width="0.15"><tspan font-style="italic">P</tspan> = 0.492</text>
<path d="M235.9 690.75H250.9" stroke="#333" stroke-width="0.6"/>
<text transform="translate(235.3 697.65) rotate(0.03)" font-size="4.35" text-anchor="middle" fill="#111" stroke="#111" stroke-width="0.15"><tspan font-style="italic">P</tspan> = 0.019</text>
<path d="M221.5 699H250.9" stroke="#333" stroke-width="0.6"/>
<path d="M276.25 689.6V757.6H321.75" fill="none" stroke="#222" stroke-width="1.0"/>
<text transform="translate(271.85 691.85) rotate(0.03)" font-size="4.9" text-anchor="end" fill="#222" stroke="#222" stroke-width="0.2" >12</text>
<text transform="translate(271.85 708.73) rotate(0.03)" font-size="4.9" text-anchor="end" fill="#222" stroke="#222" stroke-width="0.2" >10</text>
<text transform="translate(271.85 725.6) rotate(0.03)" font-size="4.9" text-anchor="end" fill="#222" stroke="#222" stroke-width="0.2" >8</text>
<text transform="translate(271.85 742.48) rotate(0.03)" font-size="4.9" text-anchor="end" fill="#222" stroke="#222" stroke-width="0.2" >6</text>
<text transform="translate(271.85 759.35) rotate(0.03)" font-size="4.9" text-anchor="end" fill="#222" stroke="#222" stroke-width="0.2" >4</text>
<path d="M272.85 690.1H276.25M272.85 706.98H276.25M272.85 723.85H276.25M272.85 740.73H276.25M272.85 757.6H276.25M285.35 757.6V760.4M298.65 757.6V760.4M312.35 757.6V760.4" fill="none" stroke="#222" stroke-width="1.0"/>
<text transform="translate(281.25 767.9) rotate(0.03)" font-size="5.5" text-anchor="middle" fill="#222" stroke="#222" stroke-width="0.22" >CR + PR</text>
<text transform="translate(298.95 767.9) rotate(0.03)" font-size="5.5" text-anchor="middle" fill="#222" stroke="#222" stroke-width="0.22" >SD</text>
<text transform="translate(312.75 767.9) rotate(0.03)" font-size="5.5" text-anchor="middle" fill="#222" stroke="#222" stroke-width="0.22" >PD</text>
<text transform="translate(263.15 725.85) rotate(-90)" font-size="5.3" text-anchor="middle" fill="#222" stroke="#222" stroke-width="0.12">Prf1 (log<tspan font-size="65%" dy="1.2">2</tspan><tspan dy="-1.2">)</tspan></text>
<path d="M281.35 700.25H289.75V709H281.35ZM281.35 706.5H289.75M285.55 700.25V697.75M283.25 697.75H287.85M285.55 709V714M283.25 714H287.85M294.55 705.25H302.95V720.25H294.55ZM294.55 712H302.95M298.75 705.25V704.5M296.45 704.5H301.05M298.75 720.25V739M296.45 739H301.05M308.25 701.5H316.65V726.5H308.25ZM308.25 717H316.65M312.45 701.5V698.25M310.15 698.25H314.75M312.45 726.5V727M310.15 727H314.75" fill="none" stroke="#111" stroke-width="1.05"/>
<text transform="translate(289.2 686.15) rotate(0.03)" font-size="4.35" text-anchor="middle" fill="#111" stroke="#111" stroke-width="0.15"><tspan font-style="italic">P</tspan> = 0.063</text>
<path d="M283.3 687.5H297.7" stroke="#333" stroke-width="0.6"/>
<text transform="translate(311.1 686.15) rotate(0.03)" font-size="4.35" text-anchor="middle" fill="#111" stroke="#111" stroke-width="0.15"><tspan font-style="italic">P</tspan> = 0.982</text>
<path d="M301.4 687.5H316.4" stroke="#333" stroke-width="0.6"/>
<text transform="translate(300.8 693.65) rotate(0.03)" font-size="4.35" text-anchor="middle" fill="#111" stroke="#111" stroke-width="0.15"><tspan font-style="italic">P</tspan> = 0.124</text>
<path d="M287 695H316.4" stroke="#333" stroke-width="0.6"/>
<path d="M342.5 689.6V757.6H388" fill="none" stroke="#222" stroke-width="1.0"/>
<text transform="translate(338.1 691.85) rotate(0.03)" font-size="4.9" text-anchor="end" fill="#222" stroke="#222" stroke-width="0.2" >12</text>
<text transform="translate(338.1 714.35) rotate(0.03)" font-size="4.9" text-anchor="end" fill="#222" stroke="#222" stroke-width="0.2" >10</text>
<text transform="translate(338.1 736.85) rotate(0.03)" font-size="4.9" text-anchor="end" fill="#222" stroke="#222" stroke-width="0.2" >8</text>
<text transform="translate(338.1 759.35) rotate(0.03)" font-size="4.9" text-anchor="end" fill="#222" stroke="#222" stroke-width="0.2" >6</text>
<path d="M339.1 690.1H342.5M339.1 712.6H342.5M339.1 735.1H342.5M339.1 757.6H342.5M351.6 757.6V760.4M364.9 757.6V760.4M378.6 757.6V760.4" fill="none" stroke="#222" stroke-width="1.0"/>
<text transform="translate(347.5 767.9) rotate(0.03)" font-size="5.5" text-anchor="middle" fill="#222" stroke="#222" stroke-width="0.22" >CR + PR</text>
<text transform="translate(365.2 767.9) rotate(0.03)" font-size="5.5" text-anchor="middle" fill="#222" stroke="#222" stroke-width="0.22" >SD</text>
<text transform="translate(379 767.9) rotate(0.03)" font-size="5.5" text-anchor="middle" fill="#222" stroke="#222" stroke-width="0.22" >PD</text>
<text transform="translate(329.4 725.85) rotate(-90)" font-size="5.3" text-anchor="middle" fill="#222" stroke="#222" stroke-width="0.12">GZMB (log<tspan font-size="65%" dy="1.2">2</tspan><tspan dy="-1.2">)</tspan></text>
<path d="M347.6 713.25H356V731.25H347.6ZM347.6 724.5H356M351.8 713.25V699.5M349.5 699.5H354.1M351.8 731.25V735M349.5 735H354.1M360.8 704H369.2V734.5H360.8ZM360.8 718.25H369.2M365 704V699M362.7 699H367.3M365 734.5V749M362.7 749H367.3M374.5 719.5H382.9V747.75H374.5ZM374.5 730H382.9M378.7 719.5V717.5M376.4 717.5H381M378.7 747.75V752.75M376.4 752.75H381" fill="none" stroke="#111" stroke-width="1.05"/>
<text transform="translate(354.95 686.15) rotate(0.03)" font-size="4.35" text-anchor="middle" fill="#111" stroke="#111" stroke-width="0.15"><tspan font-style="italic">P</tspan> = 0.820</text>
<path d="M349.05 687.5H363.45" stroke="#333" stroke-width="0.6"/>
<text transform="translate(376.85 686.15) rotate(0.03)" font-size="4.35" text-anchor="middle" fill="#111" stroke="#111" stroke-width="0.15"><tspan font-style="italic">P</tspan> = 0.207</text>
<path d="M367.15 687.5H382.15" stroke="#333" stroke-width="0.6"/>
<text transform="translate(366.55 693.65) rotate(0.03)" font-size="4.35" text-anchor="middle" fill="#111" stroke="#111" stroke-width="0.15"><tspan font-style="italic">P</tspan> = 0.210</text>
<path d="M352.75 695H382.15" stroke="#333" stroke-width="0.6"/>
<path d="M408.75 689.7V757.6H454.25" fill="none" stroke="#222" stroke-width="1.0"/>
<text transform="translate(404.35 691.95) rotate(0.03)" font-size="4.9" text-anchor="end" fill="#222" stroke="#222" stroke-width="0.2" >15</text>
<text transform="translate(404.35 714.42) rotate(0.03)" font-size="4.9" text-anchor="end" fill="#222" stroke="#222" stroke-width="0.2" >10</text>
<text transform="translate(404.35 736.88) rotate(0.03)" font-size="4.9" text-anchor="end" fill="#222" stroke="#222" stroke-width="0.2" >5</text>
<text transform="translate(404.35 759.35) rotate(0.03)" font-size="4.9" text-anchor="end" fill="#222" stroke="#222" stroke-width="0.2" >0</text>
<path d="M405.35 690.2H408.75M405.35 712.67H408.75M405.35 735.13H408.75M405.35 757.6H408.75M417.85 757.6V760.4M431.15 757.6V760.4M444.85 757.6V760.4" fill="none" stroke="#222" stroke-width="1.0"/>
<text transform="translate(413.75 767.9) rotate(0.03)" font-size="5.5" text-anchor="middle" fill="#222" stroke="#222" stroke-width="0.22" >CR + PR</text>
<text transform="translate(431.45 767.9) rotate(0.03)" font-size="5.5" text-anchor="middle" fill="#222" stroke="#222" stroke-width="0.22" >SD</text>
<text transform="translate(445.25 767.9) rotate(0.03)" font-size="5.5" text-anchor="middle" fill="#222" stroke="#222" stroke-width="0.22" >PD</text>
<text transform="translate(395.25 725.9) rotate(-90)" font-size="5.3" text-anchor="middle" fill="#222" stroke="#222" stroke-width="0.12">CXCR3 (log<tspan font-size="65%" dy="1.2">2</tspan><tspan dy="-1.2">)</tspan></text>
<path d="M413.85 710H422.25V717.5H413.85ZM413.85 716.5H422.25M418.05 710V708.75M415.75 708.75H420.35M418.05 717.5V720M415.75 720H420.35M427.05 715.75H435.45V726.5H427.05ZM427.05 720H435.45M431.25 715.75V712.5M428.95 712.5H433.55M431.25 726.5V731.25M428.95 731.25H433.55M440.75 716.25H449.15V729.5H440.75ZM440.75 725.25H449.15M444.95 716.25V713.25M442.65 713.25H447.25M444.95 729.5V730.25M442.65 730.25H447.25" fill="none" stroke="#111" stroke-width="1.05"/>
<text transform="translate(423.7 688.15) rotate(0.03)" font-size="4.35" text-anchor="middle" fill="#111" stroke="#111" stroke-width="0.15"><tspan font-style="italic">P</tspan> = 0.033</text>
<path d="M417.8 689.5H432.2" stroke="#333" stroke-width="0.6"/>
<text transform="translate(445.6 688.15) rotate(0.03)" font-size="4.35" text-anchor="middle" fill="#111" stroke="#111" stroke-width="0.15"><tspan font-style="italic">P</tspan> = 0.580</text>
<path d="M435.9 689.5H450.9" stroke="#333" stroke-width="0.6"/>
<text transform="translate(435.3 696.15) rotate(0.03)" font-size="4.35" text-anchor="middle" fill="#111" stroke="#111" stroke-width="0.15"><tspan font-style="italic">P</tspan> = 0.022</text>
<path d="M421.5 697.5H450.9" stroke="#333" stroke-width="0.6"/>
<path d="M474.4 690.3V757.5H519.9" fill="none" stroke="#222" stroke-width="1.0"/>
<text transform="translate(470 692.55) rotate(0.03)" font-size="4.9" text-anchor="end" fill="#222" stroke="#222" stroke-width="0.2" >13</text>
<text transform="translate(470 705.89) rotate(0.03)" font-size="4.9" text-anchor="end" fill="#222" stroke="#222" stroke-width="0.2" >12</text>
<text transform="translate(470 719.23) rotate(0.03)" font-size="4.9" text-anchor="end" fill="#222" stroke="#222" stroke-width="0.2" >11</text>
<text transform="translate(470 732.57) rotate(0.03)" font-size="4.9" text-anchor="end" fill="#222" stroke="#222" stroke-width="0.2" >10</text>
<text transform="translate(470 745.91) rotate(0.03)" font-size="4.9" text-anchor="end" fill="#222" stroke="#222" stroke-width="0.2" >9</text>
<text transform="translate(470 759.25) rotate(0.03)" font-size="4.9" text-anchor="end" fill="#222" stroke="#222" stroke-width="0.2" >8</text>
<path d="M471 690.8H474.4M471 704.14H474.4M471 717.48H474.4M471 730.82H474.4M471 744.16H474.4M471 757.5H474.4M483.5 757.5V760.3M496.8 757.5V760.3M510.5 757.5V760.3" fill="none" stroke="#222" stroke-width="1.0"/>
<text transform="translate(479.4 767.8) rotate(0.03)" font-size="5.5" text-anchor="middle" fill="#222" stroke="#222" stroke-width="0.22" >CR + PR</text>
<text transform="translate(497.1 767.8) rotate(0.03)" font-size="5.5" text-anchor="middle" fill="#222" stroke="#222" stroke-width="0.22" >SD</text>
<text transform="translate(510.9 767.8) rotate(0.03)" font-size="5.5" text-anchor="middle" fill="#222" stroke="#222" stroke-width="0.22" >PD</text>
<text transform="translate(462.5 726.15) rotate(-90)" font-size="5.3" text-anchor="middle" fill="#222" stroke="#222" stroke-width="0.12">CXCL10 (log<tspan font-size="65%" dy="1.2">2</tspan><tspan dy="-1.2">)</tspan></text>
<path d="M479.5 723.5H487.9V739.2H479.5ZM479.5 732.8H487.9M483.7 723.5V709.4M481.4 709.4H486M483.7 739.2V743.5M481.4 743.5H486M492.7 713.8H501.1V727.4H492.7ZM492.7 723.5H501.1M496.9 713.8V704.6M494.6 704.6H499.2M496.9 727.4V734.3M494.6 734.3H499.2M506.4 712H514.8V726.2H506.4ZM506.4 721.2H514.8M510.6 712V708.5M508.3 708.5H512.9M510.6 726.2V728.5M508.3 728.5H512.9" fill="none" stroke="#111" stroke-width="1.05"/>
<text transform="translate(487.6 691.05) rotate(0.03)" font-size="4.35" text-anchor="middle" fill="#111" stroke="#111" stroke-width="0.15"><tspan font-style="italic">P</tspan> = 0.106</text>
<path d="M481.7 692.4H496.1" stroke="#333" stroke-width="0.6"/>
<text transform="translate(509.5 691.05) rotate(0.03)" font-size="4.35" text-anchor="middle" fill="#111" stroke="#111" stroke-width="0.15"><tspan font-style="italic">P</tspan> = 0.774</text>
<path d="M499.8 692.4H514.8" stroke="#333" stroke-width="0.6"/>
<text transform="translate(499.2 698.75) rotate(0.03)" font-size="4.35" text-anchor="middle" fill="#111" stroke="#111" stroke-width="0.15"><tspan font-style="italic">P</tspan> = 0.127</text>
<path d="M485.4 700.1H514.8" stroke="#333" stroke-width="0.6"/>
<path d="M23.75 800.2V867.9H69.25" fill="none" stroke="#222" stroke-width="1.0"/>
<text transform="translate(19.35 802.45) rotate(0.03)" font-size="4.9" text-anchor="end" fill="#222" stroke="#222" stroke-width="0.2" >6</text>
<text transform="translate(19.35 824.85) rotate(0.03)" font-size="4.9" text-anchor="end" fill="#222" stroke="#222" stroke-width="0.2" >4</text>
<text transform="translate(19.35 847.25) rotate(0.03)" font-size="4.9" text-anchor="end" fill="#222" stroke="#222" stroke-width="0.2" >2</text>
<text transform="translate(19.35 869.65) rotate(0.03)" font-size="4.9" text-anchor="end" fill="#222" stroke="#222" stroke-width="0.2" >0</text>
<path d="M20.35 800.7H23.75M20.35 823.1H23.75M20.35 845.5H23.75M20.35 867.9H23.75M32.85 867.9V870.7M46.15 867.9V870.7M59.85 867.9V870.7" fill="none" stroke="#222" stroke-width="1.0"/>
<text transform="translate(28.75 878.2) rotate(0.03)" font-size="5.5" text-anchor="middle" fill="#222" stroke="#222" stroke-width="0.22" >CR + PR</text>
<text transform="translate(46.45 878.2) rotate(0.03)" font-size="5.5" text-anchor="middle" fill="#222" stroke="#222" stroke-width="0.22" >SD</text>
<text transform="translate(60.25 878.2) rotate(0.03)" font-size="5.5" text-anchor="middle" fill="#222" stroke="#222" stroke-width="0.22" >PD</text>
<text transform="translate(13.15 836.3) rotate(-90)" font-size="5.3" text-anchor="middle" fill="#222" stroke="#222" stroke-width="0.12">IL2 (log<tspan font-size="65%" dy="1.2">2</tspan><tspan dy="-1.2">)</tspan></text>
<path d="M28.85 810.75H37.25V820.75H28.85ZM28.85 817.5H37.25M33.05 810.75V806.25M30.75 806.25H35.35M33.05 820.75V823.75M30.75 823.75H35.35M42.05 823.25H50.45V842H42.05ZM42.05 831.25H50.45M46.25 823.25V810M43.95 810H48.55M46.25 842V849.5M43.95 849.5H48.55M55.75 819.25H64.15V840.5H55.75ZM55.75 836.75H64.15M59.95 819.25V813.25M57.65 813.25H62.25M59.95 840.5V841.25M57.65 841.25H62.25" fill="none" stroke="#111" stroke-width="1.05"/>
<text transform="translate(35.7 798.85) rotate(0.03)" font-size="4.35" text-anchor="middle" fill="#111" stroke="#111" stroke-width="0.15"><tspan font-style="italic">P</tspan> = 0.008</text>
<path d="M29.8 800.2H44.2" stroke="#333" stroke-width="0.6"/>
<text transform="translate(57.6 798.85) rotate(0.03)" font-size="4.35" text-anchor="middle" fill="#111" stroke="#111" stroke-width="0.15"><tspan font-style="italic">P</tspan> = 0.956</text>
<path d="M47.9 800.2H62.9" stroke="#333" stroke-width="0.6"/>
<text transform="translate(47.3 806.95) rotate(0.03)" font-size="4.35" text-anchor="middle" fill="#111" stroke="#111" stroke-width="0.15"><tspan font-style="italic">P</tspan> = 0.012</text>
<path d="M33.5 808.3H62.9" stroke="#333" stroke-width="0.6"/>
<path d="M88.1 800.2V867.9H133.6" fill="none" stroke="#222" stroke-width="1.0"/>
<text transform="translate(83.7 802.45) rotate(0.03)" font-size="4.9" text-anchor="end" fill="#222" stroke="#222" stroke-width="0.2" >11</text>
<text transform="translate(83.7 813.65) rotate(0.03)" font-size="4.9" text-anchor="end" fill="#222" stroke="#222" stroke-width="0.2" >10</text>
<text transform="translate(83.7 824.85) rotate(0.03)" font-size="4.9" text-anchor="end" fill="#222" stroke="#222" stroke-width="0.2" >9</text>
<text transform="translate(83.7 836.05) rotate(0.03)" font-size="4.9" text-anchor="end" fill="#222" stroke="#222" stroke-width="0.2" >8</text>
<text transform="translate(83.7 847.25) rotate(0.03)" font-size="4.9" text-anchor="end" fill="#222" stroke="#222" stroke-width="0.2" >7</text>
<text transform="translate(83.7 858.45) rotate(0.03)" font-size="4.9" text-anchor="end" fill="#222" stroke="#222" stroke-width="0.2" >6</text>
<text transform="translate(83.7 869.65) rotate(0.03)" font-size="4.9" text-anchor="end" fill="#222" stroke="#222" stroke-width="0.2" >5</text>
<path d="M84.7 800.7H88.1M84.7 811.9H88.1M84.7 823.1H88.1M84.7 834.3H88.1M84.7 845.5H88.1M84.7 856.7H88.1M84.7 867.9H88.1M97.2 867.9V870.7M110.5 867.9V870.7M124.2 867.9V870.7" fill="none" stroke="#222" stroke-width="1.0"/>
<text transform="translate(93.1 878.2) rotate(0.03)" font-size="5.5" text-anchor="middle" fill="#222" stroke="#222" stroke-width="0.22" >CR + PR</text>
<text transform="translate(110.8 878.2) rotate(0.03)" font-size="5.5" text-anchor="middle" fill="#222" stroke="#222" stroke-width="0.22" >SD</text>
<text transform="translate(124.6 878.2) rotate(0.03)" font-size="5.5" text-anchor="middle" fill="#222" stroke="#222" stroke-width="0.22" >PD</text>
<text transform="translate(75.6 836.3) rotate(-90)" font-size="5.3" text-anchor="middle" fill="#222" stroke="#222" stroke-width="0.12">TNFα (log<tspan font-size="65%" dy="1.2">2</tspan><tspan dy="-1.2">)</tspan></text>
<path d="M93.2 820.75H101.6V830.5H93.2ZM93.2 821.75H101.6M97.4 820.75V811.25M95.1 811.25H99.7M97.4 830.5V847.5M95.1 847.5H99.7M106.4 829.5H114.8V850.5H106.4ZM106.4 835H114.8M110.6 829.5V819.5M108.3 819.5H112.9M110.6 850.5V855.75M108.3 855.75H112.9M120.1 832H128.5V851.75H120.1ZM120.1 845.75H128.5M124.3 832V829.25M122 829.25H126.6M124.3 851.75V852M122 852H126.6" fill="none" stroke="#111" stroke-width="1.05"/>
<text transform="translate(102.05 798.65) rotate(0.03)" font-size="4.35" text-anchor="middle" fill="#111" stroke="#111" stroke-width="0.15"><tspan font-style="italic">P</tspan> = 0.044</text>
<path d="M96.15 800H110.55" stroke="#333" stroke-width="0.6"/>
<text transform="translate(123.95 798.65) rotate(0.03)" font-size="4.35" text-anchor="middle" fill="#111" stroke="#111" stroke-width="0.15"><tspan font-style="italic">P</tspan> = 0.503</text>
<path d="M114.25 800H129.25" stroke="#333" stroke-width="0.6"/>
<text transform="translate(113.65 806.15) rotate(0.03)" font-size="4.35" text-anchor="middle" fill="#111" stroke="#111" stroke-width="0.15"><tspan font-style="italic">P</tspan> = 0.023</text>
<path d="M99.85 807.5H129.25" stroke="#333" stroke-width="0.6"/>
<path d="M152.5 800.2V867.9H198" fill="none" stroke="#222" stroke-width="1.0"/>
<text transform="translate(148.1 802.45) rotate(0.03)" font-size="4.9" text-anchor="end" fill="#222" stroke="#222" stroke-width="0.2" >10</text>
<text transform="translate(148.1 815.89) rotate(0.03)" font-size="4.9" text-anchor="end" fill="#222" stroke="#222" stroke-width="0.2" >8</text>
<text transform="translate(148.1 829.33) rotate(0.03)" font-size="4.9" text-anchor="end" fill="#222" stroke="#222" stroke-width="0.2" >6</text>
<text transform="translate(148.1 842.77) rotate(0.03)" font-size="4.9" text-anchor="end" fill="#222" stroke="#222" stroke-width="0.2" >4</text>
<text transform="translate(148.1 856.21) rotate(0.03)" font-size="4.9" text-anchor="end" fill="#222" stroke="#222" stroke-width="0.2" >2</text>
<text transform="translate(148.1 869.65) rotate(0.03)" font-size="4.9" text-anchor="end" fill="#222" stroke="#222" stroke-width="0.2" >0</text>
<path d="M149.1 800.7H152.5M149.1 814.14H152.5M149.1 827.58H152.5M149.1 841.02H152.5M149.1 854.46H152.5M149.1 867.9H152.5M161.6 867.9V870.7M174.9 867.9V870.7M188.6 867.9V870.7" fill="none" stroke="#222" stroke-width="1.0"/>
<text transform="translate(157.5 878.2) rotate(0.03)" font-size="5.5" text-anchor="middle" fill="#222" stroke="#222" stroke-width="0.22" >CR + PR</text>
<text transform="translate(175.2 878.2) rotate(0.03)" font-size="5.5" text-anchor="middle" fill="#222" stroke="#222" stroke-width="0.22" >SD</text>
<text transform="translate(189 878.2) rotate(0.03)" font-size="5.5" text-anchor="middle" fill="#222" stroke="#222" stroke-width="0.22" >PD</text>
<text transform="translate(139.9 836.3) rotate(-90)" font-size="5.3" text-anchor="middle" fill="#222" stroke="#222" stroke-width="0.12">IFNγ (log<tspan font-size="65%" dy="1.2">2</tspan><tspan dy="-1.2">)</tspan></text>
<path d="M157.6 809.25H166V820.75H157.6ZM157.6 815.5H166M161.8 809.25V806.25M159.5 806.25H164.1M161.8 820.75V823.25M159.5 823.25H164.1M170.8 815.75H179.2V827H170.8ZM170.8 821.75H179.2M175 815.75V813.75M172.7 813.75H177.3M175 827V837M172.7 837H177.3M184.5 812.5H192.9V829.25H184.5ZM184.5 822H192.9M188.7 812.5V810.75M186.4 810.75H191M188.7 829.25V830M186.4 830H191" fill="none" stroke="#111" stroke-width="1.05"/>
<text transform="translate(165.7 796.15) rotate(0.03)" font-size="4.35" text-anchor="middle" fill="#111" stroke="#111" stroke-width="0.15"><tspan font-style="italic">P</tspan> = 0.096</text>
<path d="M159.8 797.5H174.2" stroke="#333" stroke-width="0.6"/>
<text transform="translate(187.6 796.15) rotate(0.03)" font-size="4.35" text-anchor="middle" fill="#111" stroke="#111" stroke-width="0.15"><tspan font-style="italic">P</tspan> = 0.813</text>
<path d="M177.9 797.5H192.9" stroke="#333" stroke-width="0.6"/>
<text transform="translate(177.3 803.65) rotate(0.03)" font-size="4.35" text-anchor="middle" fill="#111" stroke="#111" stroke-width="0.15"><tspan font-style="italic">P</tspan> = 0.197</text>
<path d="M163.5 805H192.9" stroke="#333" stroke-width="0.6"/>
<path d="M213.75 800.2V867.9H259.25" fill="none" stroke="#222" stroke-width="1.0"/>
<text transform="translate(209.35 802.45) rotate(0.03)" font-size="4.9" text-anchor="end" fill="#222" stroke="#222" stroke-width="0.2" >9</text>
<text transform="translate(209.35 819.25) rotate(0.03)" font-size="4.9" text-anchor="end" fill="#222" stroke="#222" stroke-width="0.2" >8</text>
<text transform="translate(209.35 836.05) rotate(0.03)" font-size="4.9" text-anchor="end" fill="#222" stroke="#222" stroke-width="0.2" >7</text>
<text transform="translate(209.35 852.85) rotate(0.03)" font-size="4.9" text-anchor="end" fill="#222" stroke="#222" stroke-width="0.2" >6</text>
<text transform="translate(209.35 869.65) rotate(0.03)" font-size="4.9" text-anchor="end" fill="#222" stroke="#222" stroke-width="0.2" >5</text>
<path d="M210.35 800.7H213.75M210.35 817.5H213.75M210.35 834.3H213.75M210.35 851.1H213.75M210.35 867.9H213.75M222.85 867.9V870.7M236.15 867.9V870.7M249.85 867.9V870.7" fill="none" stroke="#222" stroke-width="1.0"/>
<text transform="translate(218.75 878.2) rotate(0.03)" font-size="5.5" text-anchor="middle" fill="#222" stroke="#222" stroke-width="0.22" >CR + PR</text>
<text transform="translate(236.45 878.2) rotate(0.03)" font-size="5.5" text-anchor="middle" fill="#222" stroke="#222" stroke-width="0.22" >SD</text>
<text transform="translate(250.25 878.2) rotate(0.03)" font-size="5.5" text-anchor="middle" fill="#222" stroke="#222" stroke-width="0.22" >PD</text>
<text transform="translate(203.25 836.3) rotate(-90)" font-size="5.3" text-anchor="middle" fill="#222" stroke="#222" stroke-width="0.12">CD274 (log<tspan font-size="65%" dy="1.2">2</tspan><tspan dy="-1.2">)</tspan></text>
<path d="M218.85 820.75H227.25V836.75H218.85ZM218.85 833.75H227.25M223.05 820.75V804.5M220.75 804.5H225.35M223.05 836.75V837.5M220.75 837.5H225.35M232.05 823.75H240.45V847.5H232.05ZM232.05 833.75H240.45M236.25 823.75V817M233.95 817H238.55M236.25 847.5V858.25M233.95 858.25H238.55M245.75 821.75H254.15V840.5H245.75ZM245.75 828.75H254.15M249.95 821.75V820.5M247.65 820.5H252.25M249.95 840.5V843.75M247.65 843.75H252.25" fill="none" stroke="#111" stroke-width="1.05"/>
<text transform="translate(227.45 796.15) rotate(0.03)" font-size="4.35" text-anchor="middle" fill="#111" stroke="#111" stroke-width="0.15"><tspan font-style="italic">P</tspan> = 0.315</text>
<path d="M221.55 797.5H235.95" stroke="#333" stroke-width="0.6"/>
<text transform="translate(249.35 796.15) rotate(0.03)" font-size="4.35" text-anchor="middle" fill="#111" stroke="#111" stroke-width="0.15"><tspan font-style="italic">P</tspan> = 0.573</text>
<path d="M239.65 797.5H254.65" stroke="#333" stroke-width="0.6"/>
<text transform="translate(239.05 804.15) rotate(0.03)" font-size="4.35" text-anchor="middle" fill="#111" stroke="#111" stroke-width="0.15"><tspan font-style="italic">P</tspan> = 0.762</text>
<path d="M225.25 805.5H254.65" stroke="#333" stroke-width="0.6"/>
<path d="M278 800.2V867.9H323.5" fill="none" stroke="#222" stroke-width="1.0"/>
<text transform="translate(273.6 802.45) rotate(0.03)" font-size="4.9" text-anchor="end" fill="#222" stroke="#222" stroke-width="0.2" >11</text>
<text transform="translate(273.6 819.25) rotate(0.03)" font-size="4.9" text-anchor="end" fill="#222" stroke="#222" stroke-width="0.2" >10</text>
<text transform="translate(273.6 836.05) rotate(0.03)" font-size="4.9" text-anchor="end" fill="#222" stroke="#222" stroke-width="0.2" >9</text>
<text transform="translate(273.6 852.85) rotate(0.03)" font-size="4.9" text-anchor="end" fill="#222" stroke="#222" stroke-width="0.2" >8</text>
<text transform="translate(273.6 869.65) rotate(0.03)" font-size="4.9" text-anchor="end" fill="#222" stroke="#222" stroke-width="0.2" >7</text>
<path d="M274.6 800.7H278M274.6 817.5H278M274.6 834.3H278M274.6 851.1H278M274.6 867.9H278M287.1 867.9V870.7M300.4 867.9V870.7M314.1 867.9V870.7" fill="none" stroke="#222" stroke-width="1.0"/>
<text transform="translate(283 878.2) rotate(0.03)" font-size="5.5" text-anchor="middle" fill="#222" stroke="#222" stroke-width="0.22" >CR + PR</text>
<text transform="translate(300.7 878.2) rotate(0.03)" font-size="5.5" text-anchor="middle" fill="#222" stroke="#222" stroke-width="0.22" >SD</text>
<text transform="translate(314.5 878.2) rotate(0.03)" font-size="5.5" text-anchor="middle" fill="#222" stroke="#222" stroke-width="0.22" >PD</text>
<text transform="translate(265.5 836.3) rotate(-90)" font-size="5.3" text-anchor="middle" fill="#222" stroke="#222" stroke-width="0.12">CD40 (log<tspan font-size="65%" dy="1.2">2</tspan><tspan dy="-1.2">)</tspan></text>
<path d="M283.1 806.25H291.5V822.5H283.1ZM283.1 816.25H291.5M287.3 806.25V803.25M285 803.25H289.6M287.3 822.5V830M285 830H289.6M296.3 818.25H304.7V848.75H296.3ZM296.3 826.75H304.7M300.5 818.25V803.25M298.2 803.25H302.8M300.5 848.75V857M298.2 857H302.8M310 821.75H318.4V844.5H310ZM310 838H318.4M314.2 821.75V815.5M311.9 815.5H316.5M314.2 844.5V847.5M311.9 847.5H316.5" fill="none" stroke="#111" stroke-width="1.05"/>
<text transform="translate(291.2 798.15) rotate(0.03)" font-size="4.35" text-anchor="middle" fill="#111" stroke="#111" stroke-width="0.15"><tspan font-style="italic">P</tspan> = 0.064</text>
<path d="M285.3 799.5H299.7" stroke="#333" stroke-width="0.6"/>
<text transform="translate(313.1 798.15) rotate(0.03)" font-size="4.35" text-anchor="middle" fill="#111" stroke="#111" stroke-width="0.15"><tspan font-style="italic">P</tspan> = 0.690</text>
<path d="M303.4 799.5H318.4" stroke="#333" stroke-width="0.6"/>
<text transform="translate(302.8 806.65) rotate(0.03)" font-size="4.35" text-anchor="middle" fill="#111" stroke="#111" stroke-width="0.15"><tspan font-style="italic">P</tspan> = 0.017</text>
<path d="M289 808H318.4" stroke="#333" stroke-width="0.6"/>
<path d="M342 800.2V867.9H387.5" fill="none" stroke="#222" stroke-width="1.0"/>
<text transform="translate(337.6 802.45) rotate(0.03)" font-size="4.9" text-anchor="end" fill="#222" stroke="#222" stroke-width="0.2" >9</text>
<text transform="translate(337.6 819.25) rotate(0.03)" font-size="4.9" text-anchor="end" fill="#222" stroke="#222" stroke-width="0.2" >8</text>
<text transform="translate(337.6 836.05) rotate(0.03)" font-size="4.9" text-anchor="end" fill="#222" stroke="#222" stroke-width="0.2" >7</text>
<text transform="translate(337.6 852.85) rotate(0.03)" font-size="4.9" text-anchor="end" fill="#222" stroke="#222" stroke-width="0.2" >6</text>
<text transform="translate(337.6 869.65) rotate(0.03)" font-size="4.9" text-anchor="end" fill="#222" stroke="#222" stroke-width="0.2" >5</text>
<path d="M338.6 800.7H342M338.6 817.5H342M338.6 834.3H342M338.6 851.1H342M338.6 867.9H342M351.1 867.9V870.7M364.4 867.9V870.7M378.1 867.9V870.7" fill="none" stroke="#222" stroke-width="1.0"/>
<text transform="translate(347 878.2) rotate(0.03)" font-size="5.5" text-anchor="middle" fill="#222" stroke="#222" stroke-width="0.22" >CR + PR</text>
<text transform="translate(364.7 878.2) rotate(0.03)" font-size="5.5" text-anchor="middle" fill="#222" stroke="#222" stroke-width="0.22" >SD</text>
<text transform="translate(378.5 878.2) rotate(0.03)" font-size="5.5" text-anchor="middle" fill="#222" stroke="#222" stroke-width="0.22" >PD</text>
<text transform="translate(331.4 836.3) rotate(-90)" font-size="5.3" text-anchor="middle" fill="#222" stroke="#222" stroke-width="0.12">CD80 (log<tspan font-size="65%" dy="1.2">2</tspan><tspan dy="-1.2">)</tspan></text>
<path d="M347.1 816.25H355.5V841.25H347.1ZM347.1 821.75H355.5M351.3 816.25V812.5M349 812.5H353.6M351.3 841.25V851.75M349 851.75H353.6M360.3 834.25H368.7V854.25H360.3ZM360.3 837.5H368.7M364.5 834.25V820.5M362.2 820.5H366.8M364.5 854.25V861.25M362.2 861.25H366.8M374 829.5H382.4V856.25H374ZM374 848.25H382.4M378.2 829.5V824.25M375.9 824.25H380.5M378.2 856.25V857M375.9 857H380.5" fill="none" stroke="#111" stroke-width="1.05"/>
<text transform="translate(355.2 796.65) rotate(0.03)" font-size="4.35" text-anchor="middle" fill="#111" stroke="#111" stroke-width="0.15"><tspan font-style="italic">P</tspan> = 0.064</text>
<path d="M349.3 798H363.7" stroke="#333" stroke-width="0.6"/>
<text transform="translate(377.1 796.65) rotate(0.03)" font-size="4.35" text-anchor="middle" fill="#111" stroke="#111" stroke-width="0.15"><tspan font-style="italic">P</tspan> = 0.699</text>
<path d="M367.4 798H382.4" stroke="#333" stroke-width="0.6"/>
<text transform="translate(366.8 804.65) rotate(0.03)" font-size="4.35" text-anchor="middle" fill="#111" stroke="#111" stroke-width="0.15"><tspan font-style="italic">P</tspan> = 0.079</text>
<path d="M353 806H382.4" stroke="#333" stroke-width="0.6"/>
<path d="M408.75 800.2V867.9H454.25" fill="none" stroke="#222" stroke-width="1.0"/>
<text transform="translate(404.35 802.45) rotate(0.03)" font-size="4.9" text-anchor="end" fill="#222" stroke="#222" stroke-width="0.2" >10</text>
<text transform="translate(404.35 819.25) rotate(0.03)" font-size="4.9" text-anchor="end" fill="#222" stroke="#222" stroke-width="0.2" >9</text>
<text transform="translate(404.35 836.05) rotate(0.03)" font-size="4.9" text-anchor="end" fill="#222" stroke="#222" stroke-width="0.2" >8</text>
<text transform="translate(404.35 852.85) rotate(0.03)" font-size="4.9" text-anchor="end" fill="#222" stroke="#222" stroke-width="0.2" >7</text>
<text transform="translate(404.35 869.65) rotate(0.03)" font-size="4.9" text-anchor="end" fill="#222" stroke="#222" stroke-width="0.2" >6</text>
<path d="M405.35 800.7H408.75M405.35 817.5H408.75M405.35 834.3H408.75M405.35 851.1H408.75M405.35 867.9H408.75M417.85 867.9V870.7M431.15 867.9V870.7M444.85 867.9V870.7" fill="none" stroke="#222" stroke-width="1.0"/>
<text transform="translate(413.75 878.2) rotate(0.03)" font-size="5.5" text-anchor="middle" fill="#222" stroke="#222" stroke-width="0.22" >CR + PR</text>
<text transform="translate(431.45 878.2) rotate(0.03)" font-size="5.5" text-anchor="middle" fill="#222" stroke="#222" stroke-width="0.22" >SD</text>
<text transform="translate(445.25 878.2) rotate(0.03)" font-size="5.5" text-anchor="middle" fill="#222" stroke="#222" stroke-width="0.22" >PD</text>
<text transform="translate(396.15 836.3) rotate(-90)" font-size="5.3" text-anchor="middle" fill="#222" stroke="#222" stroke-width="0.12">CD86 (log<tspan font-size="65%" dy="1.2">2</tspan><tspan dy="-1.2">)</tspan></text>
<path d="M413.85 816.25H422.25V825H413.85ZM413.85 822.5H422.25M418.05 816.25V813M415.75 813H420.35M418.05 825V837M415.75 837H420.35M427.05 815H435.45V840.5H427.05ZM427.05 835.5H435.45M431.25 815V809.25M428.95 809.25H433.55M431.25 840.5V848.25M428.95 848.25H433.55M440.75 818.25H449.15V855.5H440.75ZM440.75 845.5H449.15M444.95 818.25V810M442.65 810H447.25M444.95 855.5V857.5M442.65 857.5H447.25" fill="none" stroke="#111" stroke-width="1.05"/>
<text transform="translate(422.45 796.75) rotate(0.03)" font-size="4.35" text-anchor="middle" fill="#111" stroke="#111" stroke-width="0.15"><tspan font-style="italic">P</tspan> = 0.151</text>
<path d="M416.55 798.1H430.95" stroke="#333" stroke-width="0.6"/>
<text transform="translate(444.35 796.75) rotate(0.03)" font-size="4.35" text-anchor="middle" fill="#111" stroke="#111" stroke-width="0.15"><tspan font-style="italic">P</tspan> = 0.429</text>
<path d="M434.65 798.1H449.65" stroke="#333" stroke-width="0.6"/>
<text transform="translate(434.05 805.55) rotate(0.03)" font-size="4.35" text-anchor="middle" fill="#111" stroke="#111" stroke-width="0.15"><tspan font-style="italic">P</tspan> = 0.055</text>
<path d="M420.25 806.9H449.65" stroke="#333" stroke-width="0.6"/>
<text transform="translate(1.35 898.6) rotate(0.03)" font-size="10.3" text-anchor="start" fill="#111" stroke="#111" stroke-width="0.41" font-weight="bold">D</text>
<text transform="translate(102.85 904.4) rotate(0.03)" font-size="7.6" text-anchor="middle" fill="#333" stroke="#333" stroke-width="0.3" >CR + PR (responders)</text>
<rect x="45.6" y="908.65" width="114.5" height="108.75" fill="none" stroke="#555" stroke-width="0.85"/>
<text transform="translate(42.7 912.4) rotate(0.03)" font-size="4.6" text-anchor="end" fill="#333" stroke="#333" stroke-width="0.18" >100</text>
<text transform="translate(42.7 931.63) rotate(0.03)" font-size="4.6" text-anchor="end" fill="#333" stroke="#333" stroke-width="0.18" >80</text>
<text transform="translate(42.7 950.86) rotate(0.03)" font-size="4.6" text-anchor="end" fill="#333" stroke="#333" stroke-width="0.18" >60</text>
<text transform="translate(42.7 970.09) rotate(0.03)" font-size="4.6" text-anchor="end" fill="#333" stroke="#333" stroke-width="0.18" >40</text>
<text transform="translate(42.7 989.32) rotate(0.03)" font-size="4.6" text-anchor="end" fill="#333" stroke="#333" stroke-width="0.18" >20</text>
<text transform="translate(42.7 1008.55) rotate(0.03)" font-size="4.6" text-anchor="end" fill="#333" stroke="#333" stroke-width="0.18" >0</text>
<text transform="translate(58.4 1024.4) rotate(-45)" font-size="5.8" text-anchor="end" fill="#333" stroke="#333" stroke-width="0.12">Baseline</text>
<text transform="translate(70.9 1024.4) rotate(-45)" font-size="5.8" text-anchor="end" fill="#333" stroke="#333" stroke-width="0.12">24 h</text>
<text transform="translate(155.6 1024.4) rotate(-45)" font-size="5.8" text-anchor="end" fill="#333" stroke="#333" stroke-width="0.12">Week 6</text>
<path d="M43.4 910.75H45.6M43.4 929.98H45.6M43.4 949.21H45.6M43.4 968.44H45.6M43.4 987.67H45.6M43.4 1006.9H45.6M56.3 1017.4V1019.7M68.8 1017.4V1019.7M153.5 1017.4V1019.7" fill="none" stroke="#333" stroke-width="0.7"/>
<text transform="translate(30.4 963.2) rotate(-90)" font-size="6.5" text-anchor="middle" fill="#2a2a2a" stroke="#2a2a2a" stroke-width="0.15">% Ki-67<tspan font-size="60%" dy="-2">+</tspan><tspan dy="2"> on CD8</tspan><tspan font-size="60%" dy="-2">+</tspan><tspan dy="2"> T cells</tspan></text>
<circle cx="56" cy="915.3" r="2.4" fill="#111"/>
<text transform="translate(61.2 917.1) rotate(0.03)" font-size="5.3" text-anchor="start" fill="#333" stroke="#333" stroke-width="0.21" >Tumor</text>
<rect x="53.8" y="923" width="4.4" height="4.4" fill="#E8303A"/>
<text transform="translate(61.2 927) rotate(0.03)" font-size="5.3" text-anchor="start" fill="#333" stroke="#333" stroke-width="0.21" >PBMCs</text>
<path d="M56.25 985L153.75 960" stroke="#d2d2d2" stroke-width="0.9"/>
<path d="M54.5 997L157.5 995.75" stroke="#F29A9A" stroke-width="0.65" stroke-dasharray="1.6 1"/>
<text transform="translate(106.2 963.9) rotate(0.03)" font-size="5.6" fill="#2a2a2a" stroke="#2a2a2a" stroke-width="0.12"><tspan font-style="italic">P</tspan> = 0.0071</text>
<text transform="translate(114.2 994) rotate(0.03)" font-size="5.6" fill="#2a2a2a" stroke="#2a2a2a" stroke-width="0.12"><tspan font-style="italic">P</tspan> &gt; 0.05</text>
<circle cx="53.75" cy="965.75" r="1.05" fill="#111"/>
<circle cx="56.25" cy="966.75" r="1.05" fill="#111"/>
<circle cx="56.75" cy="991.25" r="1.05" fill="#111"/>
<circle cx="60.75" cy="991.25" r="1.05" fill="#111"/>
<circle cx="60.75" cy="993" r="1.05" fill="#111"/>
<circle cx="58.25" cy="1003" r="1.05" fill="#111"/>
<circle cx="61.25" cy="1002.5" r="1.05" fill="#111"/>
<circle cx="68.75" cy="948.75" r="1.05" fill="#111"/>
<circle cx="70.5" cy="966.75" r="1.05" fill="#111"/>
<circle cx="69.25" cy="977.5" r="1.05" fill="#111"/>
<circle cx="68.25" cy="1001.25" r="1.05" fill="#111"/>
<circle cx="71.25" cy="999.5" r="1.05" fill="#111"/>
<circle cx="148.75" cy="916.75" r="1.05" fill="#111"/>
<circle cx="153.75" cy="916.25" r="1.05" fill="#111"/>
<circle cx="158" cy="913.75" r="1.05" fill="#111"/>
<circle cx="151.25" cy="943" r="1.05" fill="#111"/>
<circle cx="153" cy="988.75" r="1.05" fill="#111"/>
<circle cx="149.5" cy="1005.5" r="1.05" fill="#111"/>
<circle cx="153.75" cy="1005.5" r="1.05" fill="#111"/>
<rect x="52.85" y="987.35" width="1.9" height="1.9" fill="#E8252B"/>
<rect x="53.6" y="996.1" width="1.9" height="1.9" fill="#E8252B"/>
<rect x="52.85" y="1004.1" width="1.9" height="1.9" fill="#E8252B"/>
<rect x="59.85" y="995.35" width="1.9" height="1.9" fill="#E8252B"/>
<rect x="59.1" y="1001.6" width="1.9" height="1.9" fill="#E8252B"/>
<rect x="63.35" y="997.85" width="1.9" height="1.9" fill="#E8252B"/>
<rect x="71.6" y="992.85" width="1.9" height="1.9" fill="#E8252B"/>
<rect x="149.1" y="991.1" width="1.9" height="1.9" fill="#E8252B"/>
<rect x="150.85" y="990.35" width="1.9" height="1.9" fill="#E8252B"/>
<rect x="152.85" y="995.35" width="1.9" height="1.9" fill="#E8252B"/>
<rect x="154.6" y="995.35" width="1.9" height="1.9" fill="#E8252B"/>
<rect x="152.85" y="999.85" width="1.9" height="1.9" fill="#E8252B"/>
<rect x="152.1" y="1003.6" width="1.9" height="1.9" fill="#E8252B"/>
<text transform="translate(177.7 898.6) rotate(0.03)" font-size="10.3" text-anchor="start" fill="#111" stroke="#111" stroke-width="0.41" font-weight="bold">E</text>
<text transform="translate(261.45 904.4) rotate(0.03)" font-size="7.6" text-anchor="middle" fill="#333" stroke="#333" stroke-width="0.3" >SD + PD (nonresponders)</text>
<rect x="204.3" y="908.65" width="114.3" height="108.75" fill="none" stroke="#555" stroke-width="0.85"/>
<text transform="translate(201.4 912.4) rotate(0.03)" font-size="4.6" text-anchor="end" fill="#333" stroke="#333" stroke-width="0.18" >100</text>
<text transform="translate(201.4 931.63) rotate(0.03)" font-size="4.6" text-anchor="end" fill="#333" stroke="#333" stroke-width="0.18" >80</text>
<text transform="translate(201.4 950.86) rotate(0.03)" font-size="4.6" text-anchor="end" fill="#333" stroke="#333" stroke-width="0.18" >60</text>
<text transform="translate(201.4 970.09) rotate(0.03)" font-size="4.6" text-anchor="end" fill="#333" stroke="#333" stroke-width="0.18" >40</text>
<text transform="translate(201.4 989.32) rotate(0.03)" font-size="4.6" text-anchor="end" fill="#333" stroke="#333" stroke-width="0.18" >20</text>
<text transform="translate(201.4 1008.55) rotate(0.03)" font-size="4.6" text-anchor="end" fill="#333" stroke="#333" stroke-width="0.18" >0</text>
<text transform="translate(217.1 1024.4) rotate(-45)" font-size="5.8" text-anchor="end" fill="#333" stroke="#333" stroke-width="0.12">Baseline</text>
<text transform="translate(229.6 1024.4) rotate(-45)" font-size="5.8" text-anchor="end" fill="#333" stroke="#333" stroke-width="0.12">24 h</text>
<text transform="translate(314.3 1024.4) rotate(-45)" font-size="5.8" text-anchor="end" fill="#333" stroke="#333" stroke-width="0.12">Week 6</text>
<path d="M202.1 910.75H204.3M202.1 929.98H204.3M202.1 949.21H204.3M202.1 968.44H204.3M202.1 987.67H204.3M202.1 1006.9H204.3M215 1017.4V1019.7M227.5 1017.4V1019.7M312.2 1017.4V1019.7" fill="none" stroke="#333" stroke-width="0.7"/>
<text transform="translate(189.1 963.2) rotate(-90)" font-size="6.5" text-anchor="middle" fill="#2a2a2a" stroke="#2a2a2a" stroke-width="0.15">% Ki-67<tspan font-size="60%" dy="-2">+</tspan><tspan dy="2"> on CD8</tspan><tspan font-size="60%" dy="-2">+</tspan><tspan dy="2"> T cells</tspan></text>
<circle cx="213.5" cy="916" r="2.4" fill="#111"/>
<text transform="translate(218.7 917.8) rotate(0.03)" font-size="5.3" text-anchor="start" fill="#333" stroke="#333" stroke-width="0.21" >Tumor</text>
<rect x="211.3" y="923.7" width="4.4" height="4.4" fill="#E8303A"/>
<text transform="translate(218.7 927.7) rotate(0.03)" font-size="5.3" text-anchor="start" fill="#333" stroke="#333" stroke-width="0.21" >PBMCs</text>
<path d="M215 990.5L312.5 983.75" stroke="#d2d2d2" stroke-width="0.9"/>
<path d="M212.5 1000.3L315 995.9" stroke="#F29A9A" stroke-width="0.65" stroke-dasharray="1.6 1"/>
<text transform="translate(273.8 983.2) rotate(0.03)" font-size="5.6" fill="#2a2a2a" stroke="#2a2a2a" stroke-width="0.12"><tspan font-style="italic">P</tspan> &gt; 0.05</text>
<text transform="translate(273.8 995.7) rotate(0.03)" font-size="5.6" fill="#2a2a2a" stroke="#2a2a2a" stroke-width="0.12"><tspan font-style="italic">P</tspan> &gt; 0.05</text>
<circle cx="211.25" cy="992" r="1.05" fill="#111"/>
<circle cx="212.5" cy="993.25" r="1.05" fill="#111"/>
<circle cx="215" cy="982.5" r="1.05" fill="#111"/>
<circle cx="216.25" cy="991.25" r="1.05" fill="#111"/>
<circle cx="212.5" cy="997.5" r="1.05" fill="#111"/>
<circle cx="217" cy="998.25" r="1.05" fill="#111"/>
<circle cx="220" cy="997.5" r="1.05" fill="#111"/>
<circle cx="215" cy="1007" r="1.05" fill="#111"/>
<circle cx="216.75" cy="1007" r="1.05" fill="#111"/>
<circle cx="220" cy="1007" r="1.05" fill="#111"/>
<circle cx="220" cy="950.75" r="1.05" fill="#111"/>
<circle cx="220" cy="976.25" r="1.05" fill="#111"/>
<circle cx="220" cy="981.25" r="1.05" fill="#111"/>
<circle cx="227.5" cy="970.75" r="1.05" fill="#111"/>
<circle cx="227.5" cy="977" r="1.05" fill="#111"/>
<circle cx="230" cy="973.75" r="1.05" fill="#111"/>
<circle cx="231.25" cy="944.5" r="1.05" fill="#111"/>
<circle cx="225" cy="989.5" r="1.05" fill="#111"/>
<circle cx="226.75" cy="988.75" r="1.05" fill="#111"/>
<circle cx="223.75" cy="996.25" r="1.05" fill="#111"/>
<circle cx="226.75" cy="993.75" r="1.05" fill="#111"/>
<circle cx="228.75" cy="994.25" r="1.05" fill="#111"/>
<circle cx="228.75" cy="997.5" r="1.05" fill="#111"/>
<circle cx="309.25" cy="938.75" r="1.05" fill="#111"/>
<circle cx="307.5" cy="960.75" r="1.05" fill="#111"/>
<circle cx="307.5" cy="967" r="1.05" fill="#111"/>
<circle cx="315" cy="968.75" r="1.05" fill="#111"/>
<circle cx="311.75" cy="970.75" r="1.05" fill="#111"/>
<circle cx="308.75" cy="979.5" r="1.05" fill="#111"/>
<circle cx="312.5" cy="979.5" r="1.05" fill="#111"/>
<circle cx="308.75" cy="983.75" r="1.05" fill="#111"/>
<circle cx="307.5" cy="994.5" r="1.05" fill="#111"/>
<circle cx="308.75" cy="995.75" r="1.05" fill="#111"/>
<circle cx="314.25" cy="995" r="1.05" fill="#111"/>
<circle cx="315" cy="996.25" r="1.05" fill="#111"/>
<circle cx="311.75" cy="998.25" r="1.05" fill="#111"/>
<circle cx="307.5" cy="998.75" r="1.05" fill="#111"/>
<circle cx="312.5" cy="1005" r="1.05" fill="#111"/>
<circle cx="313.75" cy="1007" r="1.05" fill="#111"/>
<circle cx="314.25" cy="1002.5" r="1.05" fill="#111"/>
<rect x="210.35" y="996.6" width="1.9" height="1.9" fill="#E8252B"/>
<rect x="215.85" y="997.85" width="1.9" height="1.9" fill="#E8252B"/>
<rect x="211.6" y="1001.1" width="1.9" height="1.9" fill="#E8252B"/>
<rect x="212.1" y="1002.85" width="1.9" height="1.9" fill="#E8252B"/>
<rect x="215.35" y="1000.35" width="1.9" height="1.9" fill="#E8252B"/>
<rect x="218.35" y="1001.6" width="1.9" height="1.9" fill="#E8252B"/>
<rect x="218.35" y="1004.1" width="1.9" height="1.9" fill="#E8252B"/>
<rect x="222.85" y="995.35" width="1.9" height="1.9" fill="#E8252B"/>
<rect x="227.85" y="994.1" width="1.9" height="1.9" fill="#E8252B"/>
<rect x="227.85" y="997.1" width="1.9" height="1.9" fill="#E8252B"/>
<rect x="306.6" y="993.6" width="1.9" height="1.9" fill="#E8252B"/>
<rect x="309.1" y="987.85" width="1.9" height="1.9" fill="#E8252B"/>
<rect x="311.6" y="987.85" width="1.9" height="1.9" fill="#E8252B"/>
<rect x="310.85" y="1000.35" width="1.9" height="1.9" fill="#E8252B"/>
<rect x="312.1" y="1001.6" width="1.9" height="1.9" fill="#E8252B"/>
<rect x="313.35" y="1002.85" width="1.9" height="1.9" fill="#E8252B"/>
<rect x="311.6" y="997.85" width="1.9" height="1.9" fill="#E8252B"/>
<rect x="313.35" y="1000.35" width="1.9" height="1.9" fill="#E8252B"/>
</svg>
</body></html>
